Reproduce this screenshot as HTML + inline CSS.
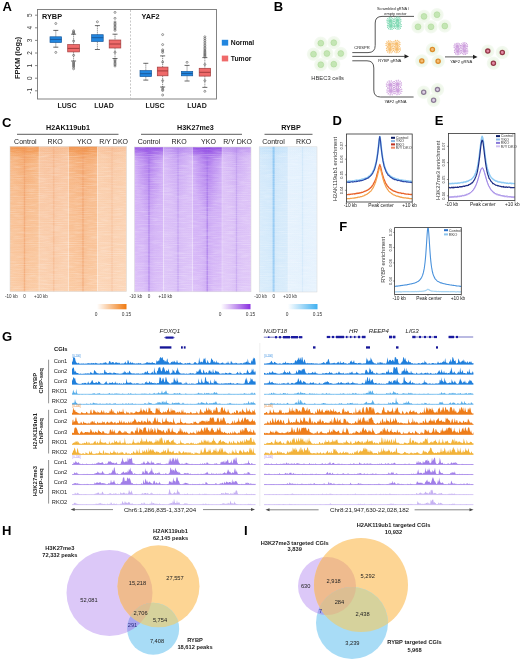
<!DOCTYPE html>
<html><head><meta charset="utf-8"><title>Figure</title>
<style>html,body{margin:0;padding:0;background:#fff;} svg{display:block;}</style></head>
<body><svg width="520" height="662" viewBox="0 0 520 662">
<defs><radialGradient id="halo"><stop offset="0" stop-color="#e8f5df"/><stop offset="0.55" stop-color="#eef7e8"/><stop offset="0.85" stop-color="#f3f9f0"/><stop offset="1" stop-color="#f8fcf5" stop-opacity="0"/></radialGradient><filter id="soft" x="-50%" y="-50%" width="200%" height="200%"><feGaussianBlur stdDeviation="0.35"/></filter><filter id="soft2" x="-50%" y="-50%" width="200%" height="200%"><feGaussianBlur stdDeviation="0.7"/></filter><filter id="streak" x="0" y="0" width="100%" height="100%"><feTurbulence type="fractalNoise" baseFrequency="0.08 0.9" numOctaves="2" seed="7"/><feColorMatrix type="matrix" values="0 0 0 0 1  0 0 0 0 1  0 0 0 0 1  0 0 0 -2.2 1.25"/><feComposite in2="SourceGraphic" operator="in"/></filter><linearGradient id="g1" x1="0" y1="0" x2="0" y2="1"><stop offset="0" stop-color="#f3a05c" stop-opacity="1"/><stop offset="0.1" stop-color="#f7b886" stop-opacity="1"/><stop offset="1" stop-color="#fbcca6" stop-opacity="1"/></linearGradient><linearGradient id="g2" x1="0" y1="0" x2="1" y2="0"><stop offset="0" stop-color="#ee9860" stop-opacity="0"/><stop offset="0.3" stop-color="#ee9860" stop-opacity="0.042"/><stop offset="0.5" stop-color="#ee9860" stop-opacity="0.14"/><stop offset="0.7" stop-color="#ee9860" stop-opacity="0.042"/><stop offset="1" stop-color="#ee9860" stop-opacity="0"/></linearGradient><radialGradient id="g3" cx="0.5" cy="0" r="0.5" gradientTransform="translate(0.5,0) scale(1,0.7586206896551724) translate(-0.5,0)"><stop offset="0" stop-color="#f08a40" stop-opacity="0.3"/><stop offset="0.5" stop-color="#f08a40" stop-opacity="0.135"/><stop offset="1" stop-color="#f08a40" stop-opacity="0"/></radialGradient><linearGradient id="g4" x1="0" y1="0" x2="0" y2="1"><stop offset="0" stop-color="#ee9860" stop-opacity="0.6"/><stop offset="1" stop-color="#ee9860" stop-opacity="0.48"/></linearGradient><linearGradient id="g5" x1="0" y1="0" x2="0" y2="1"><stop offset="0" stop-color="#f08a40" stop-opacity="0.45"/><stop offset="0.4" stop-color="#f08a40" stop-opacity="0.27"/><stop offset="1" stop-color="#f08a40" stop-opacity="0"/></linearGradient><linearGradient id="g6" x1="0" y1="0" x2="0" y2="1"><stop offset="0" stop-color="#f8c39a" stop-opacity="1"/><stop offset="0.1" stop-color="#f9c6a2" stop-opacity="1"/><stop offset="1" stop-color="#fbd1b0" stop-opacity="1"/></linearGradient><linearGradient id="g7" x1="0" y1="0" x2="1" y2="0"><stop offset="0" stop-color="#f1a878" stop-opacity="0"/><stop offset="0.3" stop-color="#f1a878" stop-opacity="0.03"/><stop offset="0.5" stop-color="#f1a878" stop-opacity="0.1"/><stop offset="0.7" stop-color="#f1a878" stop-opacity="0.03"/><stop offset="1" stop-color="#f1a878" stop-opacity="0"/></linearGradient><radialGradient id="g8" cx="0.5" cy="0" r="0.5" gradientTransform="translate(0.5,0) scale(1,0.6206896551724138) translate(-0.5,0)"><stop offset="0" stop-color="#f2a070" stop-opacity="0.12"/><stop offset="0.5" stop-color="#f2a070" stop-opacity="0.054"/><stop offset="1" stop-color="#f2a070" stop-opacity="0"/></radialGradient><linearGradient id="g9" x1="0" y1="0" x2="0" y2="1"><stop offset="0" stop-color="#f1a878" stop-opacity="0.5"/><stop offset="1" stop-color="#f1a878" stop-opacity="0.4"/></linearGradient><linearGradient id="g10" x1="0" y1="0" x2="0" y2="1"><stop offset="0" stop-color="#f2a070" stop-opacity="0.18"/><stop offset="0.4" stop-color="#f2a070" stop-opacity="0.108"/><stop offset="1" stop-color="#f2a070" stop-opacity="0"/></linearGradient><linearGradient id="g11" x1="0" y1="0" x2="0" y2="1"><stop offset="0" stop-color="#f29c58" stop-opacity="1"/><stop offset="0.1" stop-color="#f7b684" stop-opacity="1"/><stop offset="1" stop-color="#fbcba4" stop-opacity="1"/></linearGradient><linearGradient id="g12" x1="0" y1="0" x2="1" y2="0"><stop offset="0" stop-color="#ee9860" stop-opacity="0"/><stop offset="0.3" stop-color="#ee9860" stop-opacity="0.042"/><stop offset="0.5" stop-color="#ee9860" stop-opacity="0.14"/><stop offset="0.7" stop-color="#ee9860" stop-opacity="0.042"/><stop offset="1" stop-color="#ee9860" stop-opacity="0"/></linearGradient><radialGradient id="g13" cx="0.5" cy="0" r="0.5" gradientTransform="translate(0.5,0) scale(1,0.7586206896551724) translate(-0.5,0)"><stop offset="0" stop-color="#f08a40" stop-opacity="0.32"/><stop offset="0.5" stop-color="#f08a40" stop-opacity="0.14400000000000002"/><stop offset="1" stop-color="#f08a40" stop-opacity="0"/></radialGradient><linearGradient id="g14" x1="0" y1="0" x2="0" y2="1"><stop offset="0" stop-color="#ee9860" stop-opacity="0.6"/><stop offset="1" stop-color="#ee9860" stop-opacity="0.48"/></linearGradient><linearGradient id="g15" x1="0" y1="0" x2="0" y2="1"><stop offset="0" stop-color="#f08a40" stop-opacity="0.5"/><stop offset="0.4" stop-color="#f08a40" stop-opacity="0.3"/><stop offset="1" stop-color="#f08a40" stop-opacity="0"/></linearGradient><linearGradient id="g16" x1="0" y1="0" x2="0" y2="1"><stop offset="0" stop-color="#f9c8a2" stop-opacity="1"/><stop offset="0.1" stop-color="#facdaa" stop-opacity="1"/><stop offset="1" stop-color="#fcd6b8" stop-opacity="1"/></linearGradient><linearGradient id="g17" x1="0" y1="0" x2="1" y2="0"><stop offset="0" stop-color="#f3b288" stop-opacity="0"/><stop offset="0.3" stop-color="#f3b288" stop-opacity="0.03"/><stop offset="0.5" stop-color="#f3b288" stop-opacity="0.1"/><stop offset="0.7" stop-color="#f3b288" stop-opacity="0.03"/><stop offset="1" stop-color="#f3b288" stop-opacity="0"/></linearGradient><radialGradient id="g18" cx="0.5" cy="0" r="0.5" gradientTransform="translate(0.5,0) scale(1,0.6206896551724138) translate(-0.5,0)"><stop offset="0" stop-color="#f2a070" stop-opacity="0.1"/><stop offset="0.5" stop-color="#f2a070" stop-opacity="0.045000000000000005"/><stop offset="1" stop-color="#f2a070" stop-opacity="0"/></radialGradient><linearGradient id="g19" x1="0" y1="0" x2="0" y2="1"><stop offset="0" stop-color="#f3b288" stop-opacity="0.45"/><stop offset="1" stop-color="#f3b288" stop-opacity="0.36000000000000004"/></linearGradient><linearGradient id="g20" x1="0" y1="0" x2="0" y2="1"><stop offset="0" stop-color="#f2a070" stop-opacity="0.15"/><stop offset="0.4" stop-color="#f2a070" stop-opacity="0.09"/><stop offset="1" stop-color="#f2a070" stop-opacity="0"/></linearGradient><pattern id="g21" width="4" height="2.2" patternUnits="userSpaceOnUse"><rect width="4" height="0.5" fill="#ffffff" fill-opacity="0.12"/></pattern><linearGradient id="g22" x1="0" y1="0" x2="0" y2="1"><stop offset="0" stop-color="#b07cec" stop-opacity="1"/><stop offset="0.1" stop-color="#d0acf6" stop-opacity="1"/><stop offset="1" stop-color="#dcc0f8" stop-opacity="1"/></linearGradient><linearGradient id="g23" x1="0" y1="0" x2="1" y2="0"><stop offset="0" stop-color="#a070e6" stop-opacity="0"/><stop offset="0.3" stop-color="#a070e6" stop-opacity="0.06"/><stop offset="0.5" stop-color="#a070e6" stop-opacity="0.2"/><stop offset="0.7" stop-color="#a070e6" stop-opacity="0.06"/><stop offset="1" stop-color="#a070e6" stop-opacity="0"/></linearGradient><radialGradient id="g24" cx="0.5" cy="0" r="0.5" gradientTransform="translate(0.5,0) scale(1,0.9668508287292817) translate(-0.5,0)"><stop offset="0" stop-color="#8a40e2" stop-opacity="0.45"/><stop offset="0.5" stop-color="#8a40e2" stop-opacity="0.2025"/><stop offset="1" stop-color="#8a40e2" stop-opacity="0"/></radialGradient><linearGradient id="g25" x1="0" y1="0" x2="0" y2="1"><stop offset="0" stop-color="#a070e6" stop-opacity="0.7"/><stop offset="1" stop-color="#a070e6" stop-opacity="0.5599999999999999"/></linearGradient><linearGradient id="g26" x1="0" y1="0" x2="0" y2="1"><stop offset="0" stop-color="#8a40e2" stop-opacity="0.6"/><stop offset="0.4" stop-color="#8a40e2" stop-opacity="0.36"/><stop offset="1" stop-color="#8a40e2" stop-opacity="0"/></linearGradient><linearGradient id="g27" x1="0" y1="0" x2="0" y2="1"><stop offset="0" stop-color="#cca8f4" stop-opacity="1"/><stop offset="0.1" stop-color="#d8baf7" stop-opacity="1"/><stop offset="1" stop-color="#dec6f8" stop-opacity="1"/></linearGradient><linearGradient id="g28" x1="0" y1="0" x2="1" y2="0"><stop offset="0" stop-color="#ae86ea" stop-opacity="0"/><stop offset="0.3" stop-color="#ae86ea" stop-opacity="0.042"/><stop offset="0.5" stop-color="#ae86ea" stop-opacity="0.14"/><stop offset="0.7" stop-color="#ae86ea" stop-opacity="0.042"/><stop offset="1" stop-color="#ae86ea" stop-opacity="0"/></linearGradient><radialGradient id="g29" cx="0.5" cy="0" r="0.5" gradientTransform="translate(0.5,0) scale(1,0.7596685082872927) translate(-0.5,0)"><stop offset="0" stop-color="#9a62e8" stop-opacity="0.25"/><stop offset="0.5" stop-color="#9a62e8" stop-opacity="0.1125"/><stop offset="1" stop-color="#9a62e8" stop-opacity="0"/></radialGradient><linearGradient id="g30" x1="0" y1="0" x2="0" y2="1"><stop offset="0" stop-color="#ae86ea" stop-opacity="0.55"/><stop offset="1" stop-color="#ae86ea" stop-opacity="0.44000000000000006"/></linearGradient><linearGradient id="g31" x1="0" y1="0" x2="0" y2="1"><stop offset="0" stop-color="#9a62e8" stop-opacity="0.3"/><stop offset="0.4" stop-color="#9a62e8" stop-opacity="0.18"/><stop offset="1" stop-color="#9a62e8" stop-opacity="0"/></linearGradient><linearGradient id="g32" x1="0" y1="0" x2="0" y2="1"><stop offset="0" stop-color="#ac76ea" stop-opacity="1"/><stop offset="0.1" stop-color="#ceaaf6" stop-opacity="1"/><stop offset="1" stop-color="#dbbef8" stop-opacity="1"/></linearGradient><linearGradient id="g33" x1="0" y1="0" x2="1" y2="0"><stop offset="0" stop-color="#a070e6" stop-opacity="0"/><stop offset="0.3" stop-color="#a070e6" stop-opacity="0.06"/><stop offset="0.5" stop-color="#a070e6" stop-opacity="0.2"/><stop offset="0.7" stop-color="#a070e6" stop-opacity="0.06"/><stop offset="1" stop-color="#a070e6" stop-opacity="0"/></linearGradient><radialGradient id="g34" cx="0.5" cy="0" r="0.5" gradientTransform="translate(0.5,0) scale(1,0.9668508287292817) translate(-0.5,0)"><stop offset="0" stop-color="#8a40e2" stop-opacity="0.5"/><stop offset="0.5" stop-color="#8a40e2" stop-opacity="0.225"/><stop offset="1" stop-color="#8a40e2" stop-opacity="0"/></radialGradient><linearGradient id="g35" x1="0" y1="0" x2="0" y2="1"><stop offset="0" stop-color="#a070e6" stop-opacity="0.7"/><stop offset="1" stop-color="#a070e6" stop-opacity="0.5599999999999999"/></linearGradient><linearGradient id="g36" x1="0" y1="0" x2="0" y2="1"><stop offset="0" stop-color="#8a40e2" stop-opacity="0.65"/><stop offset="0.4" stop-color="#8a40e2" stop-opacity="0.39"/><stop offset="1" stop-color="#8a40e2" stop-opacity="0"/></linearGradient><linearGradient id="g37" x1="0" y1="0" x2="0" y2="1"><stop offset="0" stop-color="#d0aef4" stop-opacity="1"/><stop offset="0.1" stop-color="#dbbff7" stop-opacity="1"/><stop offset="1" stop-color="#e0c8f8" stop-opacity="1"/></linearGradient><linearGradient id="g38" x1="0" y1="0" x2="1" y2="0"><stop offset="0" stop-color="#b28cea" stop-opacity="0"/><stop offset="0.3" stop-color="#b28cea" stop-opacity="0.042"/><stop offset="0.5" stop-color="#b28cea" stop-opacity="0.14"/><stop offset="0.7" stop-color="#b28cea" stop-opacity="0.042"/><stop offset="1" stop-color="#b28cea" stop-opacity="0"/></linearGradient><radialGradient id="g39" cx="0.5" cy="0" r="0.5" gradientTransform="translate(0.5,0) scale(1,0.7596685082872927) translate(-0.5,0)"><stop offset="0" stop-color="#9a62e8" stop-opacity="0.2"/><stop offset="0.5" stop-color="#9a62e8" stop-opacity="0.09000000000000001"/><stop offset="1" stop-color="#9a62e8" stop-opacity="0"/></radialGradient><linearGradient id="g40" x1="0" y1="0" x2="0" y2="1"><stop offset="0" stop-color="#b28cea" stop-opacity="0.5"/><stop offset="1" stop-color="#b28cea" stop-opacity="0.4"/></linearGradient><linearGradient id="g41" x1="0" y1="0" x2="0" y2="1"><stop offset="0" stop-color="#9a62e8" stop-opacity="0.25"/><stop offset="0.4" stop-color="#9a62e8" stop-opacity="0.15"/><stop offset="1" stop-color="#9a62e8" stop-opacity="0"/></linearGradient><pattern id="g42" width="4" height="2.2" patternUnits="userSpaceOnUse"><rect width="4" height="0.5" fill="#ffffff" fill-opacity="0.12"/></pattern><linearGradient id="g43" x1="0" y1="0" x2="0" y2="1"><stop offset="0" stop-color="#d0e8fb" stop-opacity="1"/><stop offset="0.1" stop-color="#d4e9fb" stop-opacity="1"/><stop offset="1" stop-color="#d9ecfb" stop-opacity="1"/></linearGradient><linearGradient id="g44" x1="0" y1="0" x2="1" y2="0"><stop offset="0" stop-color="#84c2f2" stop-opacity="0"/><stop offset="0.3" stop-color="#84c2f2" stop-opacity="0.03"/><stop offset="0.5" stop-color="#84c2f2" stop-opacity="0.1"/><stop offset="0.7" stop-color="#84c2f2" stop-opacity="0.03"/><stop offset="1" stop-color="#84c2f2" stop-opacity="0"/></linearGradient><radialGradient id="g45" cx="0.5" cy="0" r="0.5" gradientTransform="translate(0.5,0) scale(1,0.5509641873278237) translate(-0.5,0)"><stop offset="0" stop-color="#8cc6f4" stop-opacity="0.06"/><stop offset="0.5" stop-color="#8cc6f4" stop-opacity="0.027"/><stop offset="1" stop-color="#8cc6f4" stop-opacity="0"/></radialGradient><linearGradient id="g46" x1="0" y1="0" x2="0" y2="1"><stop offset="0" stop-color="#84c2f2" stop-opacity="0.85"/><stop offset="1" stop-color="#84c2f2" stop-opacity="0.68"/></linearGradient><linearGradient id="g47" x1="0" y1="0" x2="0" y2="1"><stop offset="0" stop-color="#8cc6f4" stop-opacity="0.1"/><stop offset="0.4" stop-color="#8cc6f4" stop-opacity="0.06"/><stop offset="1" stop-color="#8cc6f4" stop-opacity="0"/></linearGradient><linearGradient id="g48" x1="0" y1="0" x2="0" y2="1"><stop offset="0" stop-color="#e2f0fc" stop-opacity="1"/><stop offset="0.1" stop-color="#e4f1fd" stop-opacity="1"/><stop offset="1" stop-color="#e6f2fd" stop-opacity="1"/></linearGradient><linearGradient id="g49" x1="0" y1="0" x2="1" y2="0"><stop offset="0" stop-color="#b8dcf6" stop-opacity="0"/><stop offset="0.3" stop-color="#b8dcf6" stop-opacity="0.015"/><stop offset="0.5" stop-color="#b8dcf6" stop-opacity="0.05"/><stop offset="0.7" stop-color="#b8dcf6" stop-opacity="0.015"/><stop offset="1" stop-color="#b8dcf6" stop-opacity="0"/></linearGradient><linearGradient id="g50" x1="0" y1="0" x2="0" y2="1"><stop offset="0" stop-color="#b8dcf6" stop-opacity="0.4"/><stop offset="1" stop-color="#b8dcf6" stop-opacity="0.32000000000000006"/></linearGradient><linearGradient id="g51" x1="0" y1="0" x2="0" y2="1"><stop offset="0" stop-color="#a0d0f4" stop-opacity="0.04"/><stop offset="0.4" stop-color="#a0d0f4" stop-opacity="0.024"/><stop offset="1" stop-color="#a0d0f4" stop-opacity="0"/></linearGradient><pattern id="g52" width="4" height="2.2" patternUnits="userSpaceOnUse"><rect width="4" height="0.5" fill="#ffffff" fill-opacity="0.12"/></pattern><linearGradient id="g53" x1="0" y1="0" x2="1" y2="0"><stop offset="0" stop-color="#f07a10" stop-opacity="0"/><stop offset="1" stop-color="#f07a10" stop-opacity="1"/></linearGradient><linearGradient id="g54" x1="0" y1="0" x2="1" y2="0"><stop offset="0" stop-color="#8a30e0" stop-opacity="0"/><stop offset="1" stop-color="#8a30e0" stop-opacity="1"/></linearGradient><linearGradient id="g55" x1="0" y1="0" x2="1" y2="0"><stop offset="0" stop-color="#40b0f0" stop-opacity="0"/><stop offset="1" stop-color="#40b0f0" stop-opacity="1"/></linearGradient></defs>
<rect width="520" height="662" fill="#fff"/>
<text x="2.6" y="11.3" font-family="Liberation Sans, Arial, sans-serif" font-weight="bold" font-size="13">A</text>
<rect x="37.5" y="9.5" width="179" height="89.5" fill="none" stroke="#777" stroke-width="0.9"/>
<line x1="130.5" y1="10" x2="130.5" y2="99" stroke="#bbb" stroke-width="0.8" stroke-dasharray="2,1.5"/>
<line x1="35" y1="15.2" x2="37.5" y2="15.2" stroke="#6a6a6a" stroke-width="0.8"/>
<text transform="translate(32.2,15.2) rotate(-90)" text-anchor="middle" font-family="Liberation Sans, Arial, sans-serif" font-size="6.4" fill="#333">5</text>
<line x1="35" y1="27.8" x2="37.5" y2="27.8" stroke="#6a6a6a" stroke-width="0.8"/>
<text transform="translate(32.2,27.8) rotate(-90)" text-anchor="middle" font-family="Liberation Sans, Arial, sans-serif" font-size="6.4" fill="#333">4</text>
<line x1="35" y1="40.4" x2="37.5" y2="40.4" stroke="#6a6a6a" stroke-width="0.8"/>
<text transform="translate(32.2,40.4) rotate(-90)" text-anchor="middle" font-family="Liberation Sans, Arial, sans-serif" font-size="6.4" fill="#333">3</text>
<line x1="35" y1="53.0" x2="37.5" y2="53.0" stroke="#6a6a6a" stroke-width="0.8"/>
<text transform="translate(32.2,53.0) rotate(-90)" text-anchor="middle" font-family="Liberation Sans, Arial, sans-serif" font-size="6.4" fill="#333">2</text>
<line x1="35" y1="65.6" x2="37.5" y2="65.6" stroke="#6a6a6a" stroke-width="0.8"/>
<text transform="translate(32.2,65.6) rotate(-90)" text-anchor="middle" font-family="Liberation Sans, Arial, sans-serif" font-size="6.4" fill="#333">1</text>
<line x1="35" y1="78.2" x2="37.5" y2="78.2" stroke="#6a6a6a" stroke-width="0.8"/>
<text transform="translate(32.2,78.2) rotate(-90)" text-anchor="middle" font-family="Liberation Sans, Arial, sans-serif" font-size="6.4" fill="#333">0</text>
<line x1="35" y1="90.8" x2="37.5" y2="90.8" stroke="#6a6a6a" stroke-width="0.8"/>
<text transform="translate(32.2,90.8) rotate(-90)" text-anchor="middle" font-family="Liberation Sans, Arial, sans-serif" font-size="6.4" fill="#333">-1</text>
<text transform="translate(19.8,57.8) rotate(-90)" text-anchor="middle" font-family="Liberation Sans, Arial, sans-serif" font-weight="bold" font-size="7.5" fill="#222">FPKM (log<tspan font-size="5" dy="1.5">2</tspan><tspan dy="-1.5">)</tspan></text>
<text x="42" y="18.7" font-family="Liberation Sans, Arial, sans-serif" font-weight="bold" font-size="7.3" fill="#111">RYBP</text>
<text x="141.6" y="19" font-family="Liberation Sans, Arial, sans-serif" font-weight="bold" font-size="7.3" fill="#111">YAF2</text>
<line x1="55.8" y1="30.4" x2="55.8" y2="47.2" stroke="#555" stroke-width="0.7" stroke-dasharray="1.2,0.8"/>
<line x1="53.3" y1="30.4" x2="58.3" y2="30.4" stroke="#444" stroke-width="0.8"/>
<line x1="53.3" y1="47.2" x2="58.3" y2="47.2" stroke="#444" stroke-width="0.8"/>
<rect x="50" y="36.8" width="11.6" height="5.7" fill="#2286df" stroke="#1b5c9e" stroke-width="0.7"/>
<line x1="50" y1="39.4" x2="61.6" y2="39.4" stroke="#1b5c9e" stroke-width="1"/>
<circle cx="55.8" cy="23.5" r="1.0" fill="none" stroke="#555" stroke-width="0.6"/>
<circle cx="55.8" cy="52.4" r="1.0" fill="none" stroke="#555" stroke-width="0.6"/>
<line x1="73.6" y1="34.2" x2="73.6" y2="61" stroke="#555" stroke-width="0.7" stroke-dasharray="1.2,0.8"/>
<line x1="71.1" y1="34.2" x2="76.1" y2="34.2" stroke="#444" stroke-width="0.8"/>
<line x1="71.1" y1="61" x2="76.1" y2="61" stroke="#444" stroke-width="0.8"/>
<rect x="67.7" y="44.6" width="11.8" height="7.3" fill="#ef6a6a" stroke="#a23c3c" stroke-width="0.7"/>
<line x1="67.7" y1="48.4" x2="79.5" y2="48.4" stroke="#a23c3c" stroke-width="1"/>
<circle cx="73.6" cy="30.8" r="1.0" fill="none" stroke="#555" stroke-width="0.6"/>
<circle cx="73.6" cy="31.8" r="1.0" fill="none" stroke="#555" stroke-width="0.6"/>
<circle cx="73.6" cy="32.8" r="1.0" fill="none" stroke="#555" stroke-width="0.6"/>
<circle cx="73.6" cy="33.6" r="1.0" fill="none" stroke="#555" stroke-width="0.6"/>
<circle cx="73.6" cy="41" r="1.0" fill="none" stroke="#555" stroke-width="0.6"/>
<circle cx="73.6" cy="55.3" r="1.0" fill="none" stroke="#555" stroke-width="0.6"/>
<circle cx="73.6" cy="62" r="1.0" fill="none" stroke="#555" stroke-width="0.6"/>
<circle cx="73.6" cy="63" r="1.0" fill="none" stroke="#555" stroke-width="0.6"/>
<circle cx="73.6" cy="64" r="1.0" fill="none" stroke="#555" stroke-width="0.6"/>
<circle cx="73.6" cy="65" r="1.0" fill="none" stroke="#555" stroke-width="0.6"/>
<circle cx="73.6" cy="66" r="1.0" fill="none" stroke="#555" stroke-width="0.6"/>
<circle cx="73.6" cy="67" r="1.0" fill="none" stroke="#555" stroke-width="0.6"/>
<circle cx="73.6" cy="68.8" r="1.0" fill="none" stroke="#555" stroke-width="0.6"/>
<line x1="97.4" y1="25.6" x2="97.4" y2="49.5" stroke="#555" stroke-width="0.7" stroke-dasharray="1.2,0.8"/>
<line x1="94.9" y1="25.6" x2="99.9" y2="25.6" stroke="#444" stroke-width="0.8"/>
<line x1="94.9" y1="49.5" x2="99.9" y2="49.5" stroke="#444" stroke-width="0.8"/>
<rect x="91.6" y="34.7" width="11.6" height="6.8" fill="#2286df" stroke="#1b5c9e" stroke-width="0.7"/>
<line x1="91.6" y1="37.7" x2="103.2" y2="37.7" stroke="#1b5c9e" stroke-width="1"/>
<circle cx="97.4" cy="21.8" r="1.0" fill="none" stroke="#555" stroke-width="0.6"/>
<line x1="115.0" y1="34.2" x2="115.0" y2="58.5" stroke="#555" stroke-width="0.7" stroke-dasharray="1.2,0.8"/>
<line x1="112.5" y1="34.2" x2="117.5" y2="34.2" stroke="#444" stroke-width="0.8"/>
<line x1="112.5" y1="58.5" x2="117.5" y2="58.5" stroke="#444" stroke-width="0.8"/>
<rect x="109.2" y="40" width="11.6" height="8.0" fill="#ef6a6a" stroke="#a23c3c" stroke-width="0.7"/>
<line x1="109.2" y1="44" x2="120.8" y2="44" stroke="#a23c3c" stroke-width="1"/>
<circle cx="115.0" cy="12.4" r="1.0" fill="none" stroke="#555" stroke-width="0.6"/>
<circle cx="115.0" cy="18.3" r="1.0" fill="none" stroke="#555" stroke-width="0.6"/>
<circle cx="115.0" cy="22" r="1.0" fill="none" stroke="#555" stroke-width="0.6"/>
<circle cx="115.0" cy="23.4" r="1.0" fill="none" stroke="#555" stroke-width="0.6"/>
<circle cx="115.0" cy="24.8" r="1.0" fill="none" stroke="#555" stroke-width="0.6"/>
<circle cx="115.0" cy="26.2" r="1.0" fill="none" stroke="#555" stroke-width="0.6"/>
<circle cx="115.0" cy="27.6" r="1.0" fill="none" stroke="#555" stroke-width="0.6"/>
<circle cx="115.0" cy="29" r="1.0" fill="none" stroke="#555" stroke-width="0.6"/>
<circle cx="115.0" cy="30.4" r="1.0" fill="none" stroke="#555" stroke-width="0.6"/>
<circle cx="115.0" cy="52.4" r="1.0" fill="none" stroke="#555" stroke-width="0.6"/>
<circle cx="115.0" cy="59.5" r="1.0" fill="none" stroke="#555" stroke-width="0.6"/>
<circle cx="115.0" cy="60.8" r="1.0" fill="none" stroke="#555" stroke-width="0.6"/>
<circle cx="115.0" cy="62.1" r="1.0" fill="none" stroke="#555" stroke-width="0.6"/>
<circle cx="115.0" cy="63.4" r="1.0" fill="none" stroke="#555" stroke-width="0.6"/>
<circle cx="115.0" cy="64.7" r="1.0" fill="none" stroke="#555" stroke-width="0.6"/>
<circle cx="115.0" cy="66" r="1.0" fill="none" stroke="#555" stroke-width="0.6"/>
<line x1="145.8" y1="63.3" x2="145.8" y2="80.1" stroke="#555" stroke-width="0.7" stroke-dasharray="1.2,0.8"/>
<line x1="143.3" y1="63.3" x2="148.3" y2="63.3" stroke="#444" stroke-width="0.8"/>
<line x1="143.3" y1="80.1" x2="148.3" y2="80.1" stroke="#444" stroke-width="0.8"/>
<rect x="140" y="70.6" width="11.6" height="6.0" fill="#2286df" stroke="#1b5c9e" stroke-width="0.7"/>
<line x1="140" y1="73.7" x2="151.6" y2="73.7" stroke="#1b5c9e" stroke-width="1"/>
<line x1="162.65" y1="55.9" x2="162.65" y2="87" stroke="#555" stroke-width="0.7" stroke-dasharray="1.2,0.8"/>
<line x1="160.15" y1="55.9" x2="165.15" y2="55.9" stroke="#444" stroke-width="0.8"/>
<line x1="160.15" y1="87" x2="165.15" y2="87" stroke="#444" stroke-width="0.8"/>
<rect x="157.3" y="67.1" width="10.7" height="8.7" fill="#ef6a6a" stroke="#a23c3c" stroke-width="0.7"/>
<line x1="157.3" y1="70.9" x2="168" y2="70.9" stroke="#a23c3c" stroke-width="1"/>
<circle cx="162.65" cy="34.6" r="1.0" fill="none" stroke="#555" stroke-width="0.6"/>
<circle cx="162.65" cy="44.6" r="1.0" fill="none" stroke="#555" stroke-width="0.6"/>
<circle cx="162.65" cy="49.8" r="1.0" fill="none" stroke="#555" stroke-width="0.6"/>
<circle cx="162.65" cy="51" r="1.0" fill="none" stroke="#555" stroke-width="0.6"/>
<circle cx="162.65" cy="52.4" r="1.0" fill="none" stroke="#555" stroke-width="0.6"/>
<circle cx="162.65" cy="62" r="1.0" fill="none" stroke="#555" stroke-width="0.6"/>
<circle cx="162.65" cy="80.6" r="1.0" fill="none" stroke="#555" stroke-width="0.6"/>
<circle cx="162.65" cy="88" r="1.0" fill="none" stroke="#555" stroke-width="0.6"/>
<circle cx="162.65" cy="89.5" r="1.0" fill="none" stroke="#555" stroke-width="0.6"/>
<circle cx="162.65" cy="90.5" r="1.0" fill="none" stroke="#555" stroke-width="0.6"/>
<circle cx="162.65" cy="95" r="1.0" fill="none" stroke="#555" stroke-width="0.6"/>
<line x1="187.05" y1="65.4" x2="187.05" y2="81" stroke="#555" stroke-width="0.7" stroke-dasharray="1.2,0.8"/>
<line x1="184.55" y1="65.4" x2="189.55" y2="65.4" stroke="#444" stroke-width="0.8"/>
<line x1="184.55" y1="81" x2="189.55" y2="81" stroke="#444" stroke-width="0.8"/>
<rect x="181.4" y="71.4" width="11.3" height="4.4" fill="#2286df" stroke="#1b5c9e" stroke-width="0.7"/>
<line x1="181.4" y1="73.5" x2="192.7" y2="73.5" stroke="#1b5c9e" stroke-width="1"/>
<circle cx="187.05" cy="62.3" r="1.0" fill="none" stroke="#555" stroke-width="0.6"/>
<line x1="204.85" y1="57.6" x2="204.85" y2="87.4" stroke="#555" stroke-width="0.7" stroke-dasharray="1.2,0.8"/>
<line x1="202.35" y1="57.6" x2="207.35" y2="57.6" stroke="#444" stroke-width="0.8"/>
<line x1="202.35" y1="87.4" x2="207.35" y2="87.4" stroke="#444" stroke-width="0.8"/>
<rect x="199.2" y="68.3" width="11.3" height="7.8" fill="#ef6a6a" stroke="#a23c3c" stroke-width="0.7"/>
<line x1="199.2" y1="72.3" x2="210.5" y2="72.3" stroke="#a23c3c" stroke-width="1"/>
<circle cx="204.85" cy="36.8" r="1.0" fill="none" stroke="#555" stroke-width="0.6"/>
<circle cx="204.85" cy="38.6" r="1.0" fill="none" stroke="#555" stroke-width="0.6"/>
<circle cx="204.85" cy="40.4" r="1.0" fill="none" stroke="#555" stroke-width="0.6"/>
<circle cx="204.85" cy="42.2" r="1.0" fill="none" stroke="#555" stroke-width="0.6"/>
<circle cx="204.85" cy="44" r="1.0" fill="none" stroke="#555" stroke-width="0.6"/>
<circle cx="204.85" cy="45.6" r="1.0" fill="none" stroke="#555" stroke-width="0.6"/>
<circle cx="204.85" cy="47.2" r="1.0" fill="none" stroke="#555" stroke-width="0.6"/>
<circle cx="204.85" cy="48.6" r="1.0" fill="none" stroke="#555" stroke-width="0.6"/>
<circle cx="204.85" cy="50" r="1.0" fill="none" stroke="#555" stroke-width="0.6"/>
<circle cx="204.85" cy="51.2" r="1.0" fill="none" stroke="#555" stroke-width="0.6"/>
<circle cx="204.85" cy="52.4" r="1.0" fill="none" stroke="#555" stroke-width="0.6"/>
<circle cx="204.85" cy="53.5" r="1.0" fill="none" stroke="#555" stroke-width="0.6"/>
<circle cx="204.85" cy="54.5" r="1.0" fill="none" stroke="#555" stroke-width="0.6"/>
<circle cx="204.85" cy="55.5" r="1.0" fill="none" stroke="#555" stroke-width="0.6"/>
<circle cx="204.85" cy="56.5" r="1.0" fill="none" stroke="#555" stroke-width="0.6"/>
<circle cx="204.85" cy="64.5" r="1.0" fill="none" stroke="#555" stroke-width="0.6"/>
<circle cx="204.85" cy="80.6" r="1.0" fill="none" stroke="#555" stroke-width="0.6"/>
<circle cx="204.85" cy="91.3" r="1.0" fill="none" stroke="#555" stroke-width="0.6"/>
<text x="67" y="108" text-anchor="middle" font-family="Liberation Sans, Arial, sans-serif" font-weight="bold" font-size="7" fill="#222">LUSC</text>
<text x="104" y="108" text-anchor="middle" font-family="Liberation Sans, Arial, sans-serif" font-weight="bold" font-size="7" fill="#222">LUAD</text>
<text x="155" y="108" text-anchor="middle" font-family="Liberation Sans, Arial, sans-serif" font-weight="bold" font-size="7" fill="#222">LUSC</text>
<text x="197" y="108" text-anchor="middle" font-family="Liberation Sans, Arial, sans-serif" font-weight="bold" font-size="7" fill="#222">LUAD</text>
<rect x="221.8" y="39.8" width="6.4" height="5.8" fill="#2286df"/>
<rect x="221.8" y="55.6" width="6.4" height="5.8" fill="#ef6a6a"/>
<text x="230.8" y="45.2" font-family="Liberation Sans, Arial, sans-serif" font-weight="bold" font-size="6.8" fill="#111">Normal</text>
<text x="230.8" y="61" font-family="Liberation Sans, Arial, sans-serif" font-weight="bold" font-size="6.8" fill="#111">Tumor</text>
<text x="273.8" y="11" font-family="Liberation Sans, Arial, sans-serif" font-weight="bold" font-size="13">B</text>
<circle cx="320.8" cy="43.2" r="7.2" fill="url(#halo)"/><circle cx="320.8" cy="43.2" r="2.9" fill="#c4e6b4" stroke="#acd898" stroke-width="0.6" filter="url(#soft2)"/>
<circle cx="333.8" cy="42.7" r="7.2" fill="url(#halo)"/><circle cx="333.8" cy="42.7" r="2.9" fill="#c4e6b4" stroke="#acd898" stroke-width="0.6" filter="url(#soft2)"/>
<circle cx="313.5" cy="54.2" r="7.2" fill="url(#halo)"/><circle cx="313.5" cy="54.2" r="2.9" fill="#c4e6b4" stroke="#acd898" stroke-width="0.6" filter="url(#soft2)"/>
<circle cx="326.9" cy="53.5" r="7.2" fill="url(#halo)"/><circle cx="326.9" cy="53.5" r="2.9" fill="#c4e6b4" stroke="#acd898" stroke-width="0.6" filter="url(#soft2)"/>
<circle cx="340.8" cy="53.5" r="7.2" fill="url(#halo)"/><circle cx="340.8" cy="53.5" r="2.9" fill="#c4e6b4" stroke="#acd898" stroke-width="0.6" filter="url(#soft2)"/>
<circle cx="320.8" cy="64.7" r="7.2" fill="url(#halo)"/><circle cx="320.8" cy="64.7" r="2.9" fill="#c4e6b4" stroke="#acd898" stroke-width="0.6" filter="url(#soft2)"/>
<circle cx="333.8" cy="64.2" r="7.2" fill="url(#halo)"/><circle cx="333.8" cy="64.2" r="2.9" fill="#c4e6b4" stroke="#acd898" stroke-width="0.6" filter="url(#soft2)"/>
<text x="327.6" y="79.5" text-anchor="middle" font-family="Liberation Sans, Arial, sans-serif" font-size="5.8" fill="#333">HBEC3 cells</text>
<path d="M352.3,52.6 H368 Q375.2,52.6 375.2,45.5 V23 Q375.2,16.4 382,16.4 H414" stroke="#444" stroke-width="0.9" fill="none"/>
<path d="M352.3,56.4 H406" stroke="#444" stroke-width="0.9" fill="none"/>
<path d="M409,56.4 L404.5,54.3 L404.5,58.5 Z" fill="#222"/>
<path d="M352.3,60.8 H367 Q373.8,60.8 373.8,68 V90 Q373.8,97 380.5,97 H413.6" stroke="#444" stroke-width="0.9" fill="none"/>
<path d="M445,56.9 H474" stroke="#444" stroke-width="0.9" fill="none"/>
<path d="M477.5,56.9 L473,54.8 L473,59 Z" fill="#222"/>
<text x="362" y="48.6" text-anchor="middle" font-family="Liberation Sans, Arial, sans-serif" font-size="4.1" fill="#222">CRISPR</text>
<text x="393" y="10.3" text-anchor="middle" font-family="Liberation Sans, Arial, sans-serif" font-size="3.9" fill="#222">Scrambled gRNA /</text>
<text x="395.5" y="15.4" text-anchor="middle" font-family="Liberation Sans, Arial, sans-serif" font-size="3.9" fill="#222">empty vector</text>
<text x="389.8" y="62.2" text-anchor="middle" font-family="Liberation Sans, Arial, sans-serif" font-size="4.1" fill="#222">RYBP gRNA</text>
<text x="395.4" y="103" text-anchor="middle" font-family="Liberation Sans, Arial, sans-serif" font-size="4.1" fill="#222">YAF2 gRNA</text>
<text x="461.2" y="62.5" text-anchor="middle" font-family="Liberation Sans, Arial, sans-serif" font-size="4.1" fill="#222">YAF2 gRNA</text>
<g opacity="0.8"><line x1="386.94" y1="20.22" x2="393.92" y2="21.64" stroke="#5fcfa0" stroke-width="0.75"/><line x1="387.76" y1="18.57" x2="393.10" y2="23.29" stroke="#5fcfa0" stroke-width="0.75"/><line x1="389.30" y1="17.56" x2="391.56" y2="24.30" stroke="#5fcfa0" stroke-width="0.75"/><line x1="391.14" y1="17.44" x2="389.72" y2="24.42" stroke="#5fcfa0" stroke-width="0.75"/><line x1="392.78" y1="18.26" x2="388.07" y2="23.60" stroke="#5fcfa0" stroke-width="0.75"/><line x1="393.80" y1="19.80" x2="387.05" y2="22.06" stroke="#5fcfa0" stroke-width="0.75"/><circle cx="393.92" cy="21.64" r="0.6" fill="#5fcfa0"/><circle cx="393.10" cy="23.29" r="0.6" fill="#5fcfa0"/><circle cx="391.56" cy="24.30" r="0.6" fill="#5fcfa0"/><circle cx="389.72" cy="24.42" r="0.6" fill="#5fcfa0"/><circle cx="388.07" cy="23.60" r="0.6" fill="#5fcfa0"/><circle cx="387.05" cy="22.06" r="0.6" fill="#5fcfa0"/><circle cx="386.94" cy="20.22" r="0.6" fill="#5fcfa0"/><circle cx="387.76" cy="18.57" r="0.6" fill="#5fcfa0"/><circle cx="389.30" cy="17.56" r="0.6" fill="#5fcfa0"/><circle cx="391.14" cy="17.44" r="0.6" fill="#5fcfa0"/><circle cx="392.78" cy="18.26" r="0.6" fill="#5fcfa0"/><circle cx="393.80" cy="19.80" r="0.6" fill="#5fcfa0"/><circle cx="390.428" cy="20.93" r="1.42" fill="#5fcfa0"/><line x1="393.99" y1="19.74" x2="400.97" y2="21.15" stroke="#5fcfa0" stroke-width="0.75"/><line x1="394.81" y1="18.09" x2="400.15" y2="22.80" stroke="#5fcfa0" stroke-width="0.75"/><line x1="396.35" y1="17.07" x2="398.61" y2="23.82" stroke="#5fcfa0" stroke-width="0.75"/><line x1="398.19" y1="16.96" x2="396.77" y2="23.93" stroke="#5fcfa0" stroke-width="0.75"/><line x1="399.84" y1="17.78" x2="395.12" y2="23.11" stroke="#5fcfa0" stroke-width="0.75"/><line x1="400.85" y1="19.31" x2="394.11" y2="21.58" stroke="#5fcfa0" stroke-width="0.75"/><circle cx="400.97" cy="21.15" r="0.6" fill="#5fcfa0"/><circle cx="400.15" cy="22.80" r="0.6" fill="#5fcfa0"/><circle cx="398.61" cy="23.82" r="0.6" fill="#5fcfa0"/><circle cx="396.77" cy="23.93" r="0.6" fill="#5fcfa0"/><circle cx="395.12" cy="23.11" r="0.6" fill="#5fcfa0"/><circle cx="394.11" cy="21.58" r="0.6" fill="#5fcfa0"/><circle cx="393.99" cy="19.74" r="0.6" fill="#5fcfa0"/><circle cx="394.81" cy="18.09" r="0.6" fill="#5fcfa0"/><circle cx="396.35" cy="17.07" r="0.6" fill="#5fcfa0"/><circle cx="398.19" cy="16.96" r="0.6" fill="#5fcfa0"/><circle cx="399.84" cy="17.78" r="0.6" fill="#5fcfa0"/><circle cx="400.85" cy="19.31" r="0.6" fill="#5fcfa0"/><circle cx="397.48" cy="20.446" r="1.42" fill="#5fcfa0"/><line x1="387.43" y1="25.30" x2="394.41" y2="26.72" stroke="#5fcfa0" stroke-width="0.75"/><line x1="388.25" y1="23.66" x2="393.59" y2="28.37" stroke="#5fcfa0" stroke-width="0.75"/><line x1="389.79" y1="22.64" x2="392.05" y2="29.39" stroke="#5fcfa0" stroke-width="0.75"/><line x1="391.63" y1="22.52" x2="390.21" y2="29.50" stroke="#5fcfa0" stroke-width="0.75"/><line x1="393.28" y1="23.34" x2="388.56" y2="28.68" stroke="#5fcfa0" stroke-width="0.75"/><line x1="394.29" y1="24.88" x2="387.55" y2="27.14" stroke="#5fcfa0" stroke-width="0.75"/><circle cx="394.41" cy="26.72" r="0.6" fill="#5fcfa0"/><circle cx="393.59" cy="28.37" r="0.6" fill="#5fcfa0"/><circle cx="392.05" cy="29.39" r="0.6" fill="#5fcfa0"/><circle cx="390.21" cy="29.50" r="0.6" fill="#5fcfa0"/><circle cx="388.56" cy="28.68" r="0.6" fill="#5fcfa0"/><circle cx="387.55" cy="27.14" r="0.6" fill="#5fcfa0"/><circle cx="387.43" cy="25.30" r="0.6" fill="#5fcfa0"/><circle cx="388.25" cy="23.66" r="0.6" fill="#5fcfa0"/><circle cx="389.79" cy="22.64" r="0.6" fill="#5fcfa0"/><circle cx="391.63" cy="22.52" r="0.6" fill="#5fcfa0"/><circle cx="393.28" cy="23.34" r="0.6" fill="#5fcfa0"/><circle cx="394.29" cy="24.88" r="0.6" fill="#5fcfa0"/><circle cx="390.92" cy="26.012" r="1.42" fill="#5fcfa0"/><line x1="394.32" y1="25.06" x2="401.30" y2="26.48" stroke="#5fcfa0" stroke-width="0.75"/><line x1="395.14" y1="23.41" x2="400.48" y2="28.13" stroke="#5fcfa0" stroke-width="0.75"/><line x1="396.68" y1="22.40" x2="398.94" y2="29.14" stroke="#5fcfa0" stroke-width="0.75"/><line x1="398.52" y1="22.28" x2="397.10" y2="29.26" stroke="#5fcfa0" stroke-width="0.75"/><line x1="400.16" y1="23.10" x2="395.45" y2="28.44" stroke="#5fcfa0" stroke-width="0.75"/><line x1="401.18" y1="24.64" x2="394.43" y2="26.90" stroke="#5fcfa0" stroke-width="0.75"/><circle cx="401.30" cy="26.48" r="0.6" fill="#5fcfa0"/><circle cx="400.48" cy="28.13" r="0.6" fill="#5fcfa0"/><circle cx="398.94" cy="29.14" r="0.6" fill="#5fcfa0"/><circle cx="397.10" cy="29.26" r="0.6" fill="#5fcfa0"/><circle cx="395.45" cy="28.44" r="0.6" fill="#5fcfa0"/><circle cx="394.43" cy="26.90" r="0.6" fill="#5fcfa0"/><circle cx="394.32" cy="25.06" r="0.6" fill="#5fcfa0"/><circle cx="395.14" cy="23.41" r="0.6" fill="#5fcfa0"/><circle cx="396.68" cy="22.40" r="0.6" fill="#5fcfa0"/><circle cx="398.52" cy="22.28" r="0.6" fill="#5fcfa0"/><circle cx="400.16" cy="23.10" r="0.6" fill="#5fcfa0"/><circle cx="401.18" cy="24.64" r="0.6" fill="#5fcfa0"/><circle cx="397.808" cy="25.77" r="1.42" fill="#5fcfa0"/></g>
<g opacity="0.8"><line x1="385.97" y1="43.62" x2="392.94" y2="45.04" stroke="#f5ae4c" stroke-width="0.75"/><line x1="386.79" y1="41.97" x2="392.12" y2="46.69" stroke="#f5ae4c" stroke-width="0.75"/><line x1="388.32" y1="40.96" x2="390.59" y2="47.70" stroke="#f5ae4c" stroke-width="0.75"/><line x1="390.16" y1="40.84" x2="388.75" y2="47.82" stroke="#f5ae4c" stroke-width="0.75"/><line x1="391.81" y1="41.66" x2="387.10" y2="47.00" stroke="#f5ae4c" stroke-width="0.75"/><line x1="392.83" y1="43.20" x2="386.08" y2="45.46" stroke="#f5ae4c" stroke-width="0.75"/><circle cx="392.94" cy="45.04" r="0.6" fill="#f5ae4c"/><circle cx="392.12" cy="46.69" r="0.6" fill="#f5ae4c"/><circle cx="390.59" cy="47.70" r="0.6" fill="#f5ae4c"/><circle cx="388.75" cy="47.82" r="0.6" fill="#f5ae4c"/><circle cx="387.10" cy="47.00" r="0.6" fill="#f5ae4c"/><circle cx="386.08" cy="45.46" r="0.6" fill="#f5ae4c"/><circle cx="385.97" cy="43.62" r="0.6" fill="#f5ae4c"/><circle cx="386.79" cy="41.97" r="0.6" fill="#f5ae4c"/><circle cx="388.32" cy="40.96" r="0.6" fill="#f5ae4c"/><circle cx="390.16" cy="40.84" r="0.6" fill="#f5ae4c"/><circle cx="391.81" cy="41.66" r="0.6" fill="#f5ae4c"/><circle cx="392.83" cy="43.20" r="0.6" fill="#f5ae4c"/><circle cx="389.455" cy="44.330000000000005" r="1.42" fill="#f5ae4c"/><line x1="393.06" y1="43.14" x2="400.04" y2="44.55" stroke="#f5ae4c" stroke-width="0.75"/><line x1="393.88" y1="41.49" x2="399.22" y2="46.20" stroke="#f5ae4c" stroke-width="0.75"/><line x1="395.42" y1="40.47" x2="397.68" y2="47.22" stroke="#f5ae4c" stroke-width="0.75"/><line x1="397.26" y1="40.36" x2="395.84" y2="47.33" stroke="#f5ae4c" stroke-width="0.75"/><line x1="398.91" y1="41.18" x2="394.19" y2="46.51" stroke="#f5ae4c" stroke-width="0.75"/><line x1="399.92" y1="42.71" x2="393.18" y2="44.98" stroke="#f5ae4c" stroke-width="0.75"/><circle cx="400.04" cy="44.55" r="0.6" fill="#f5ae4c"/><circle cx="399.22" cy="46.20" r="0.6" fill="#f5ae4c"/><circle cx="397.68" cy="47.22" r="0.6" fill="#f5ae4c"/><circle cx="395.84" cy="47.33" r="0.6" fill="#f5ae4c"/><circle cx="394.19" cy="46.51" r="0.6" fill="#f5ae4c"/><circle cx="393.18" cy="44.98" r="0.6" fill="#f5ae4c"/><circle cx="393.06" cy="43.14" r="0.6" fill="#f5ae4c"/><circle cx="393.88" cy="41.49" r="0.6" fill="#f5ae4c"/><circle cx="395.42" cy="40.47" r="0.6" fill="#f5ae4c"/><circle cx="397.26" cy="40.36" r="0.6" fill="#f5ae4c"/><circle cx="398.91" cy="41.18" r="0.6" fill="#f5ae4c"/><circle cx="399.92" cy="42.71" r="0.6" fill="#f5ae4c"/><circle cx="396.55" cy="43.846000000000004" r="1.42" fill="#f5ae4c"/><line x1="386.46" y1="48.70" x2="393.44" y2="50.12" stroke="#f5ae4c" stroke-width="0.75"/><line x1="387.28" y1="47.06" x2="392.62" y2="51.77" stroke="#f5ae4c" stroke-width="0.75"/><line x1="388.82" y1="46.04" x2="391.08" y2="52.79" stroke="#f5ae4c" stroke-width="0.75"/><line x1="390.66" y1="45.92" x2="389.24" y2="52.90" stroke="#f5ae4c" stroke-width="0.75"/><line x1="392.31" y1="46.74" x2="387.59" y2="52.08" stroke="#f5ae4c" stroke-width="0.75"/><line x1="393.32" y1="48.28" x2="386.58" y2="50.54" stroke="#f5ae4c" stroke-width="0.75"/><circle cx="393.44" cy="50.12" r="0.6" fill="#f5ae4c"/><circle cx="392.62" cy="51.77" r="0.6" fill="#f5ae4c"/><circle cx="391.08" cy="52.79" r="0.6" fill="#f5ae4c"/><circle cx="389.24" cy="52.90" r="0.6" fill="#f5ae4c"/><circle cx="387.59" cy="52.08" r="0.6" fill="#f5ae4c"/><circle cx="386.58" cy="50.54" r="0.6" fill="#f5ae4c"/><circle cx="386.46" cy="48.70" r="0.6" fill="#f5ae4c"/><circle cx="387.28" cy="47.06" r="0.6" fill="#f5ae4c"/><circle cx="388.82" cy="46.04" r="0.6" fill="#f5ae4c"/><circle cx="390.66" cy="45.92" r="0.6" fill="#f5ae4c"/><circle cx="392.31" cy="46.74" r="0.6" fill="#f5ae4c"/><circle cx="393.32" cy="48.28" r="0.6" fill="#f5ae4c"/><circle cx="389.95" cy="49.412000000000006" r="1.42" fill="#f5ae4c"/><line x1="393.39" y1="48.46" x2="400.37" y2="49.88" stroke="#f5ae4c" stroke-width="0.75"/><line x1="394.21" y1="46.81" x2="399.55" y2="51.53" stroke="#f5ae4c" stroke-width="0.75"/><line x1="395.75" y1="45.80" x2="398.01" y2="52.54" stroke="#f5ae4c" stroke-width="0.75"/><line x1="397.59" y1="45.68" x2="396.17" y2="52.66" stroke="#f5ae4c" stroke-width="0.75"/><line x1="399.24" y1="46.50" x2="394.52" y2="51.84" stroke="#f5ae4c" stroke-width="0.75"/><line x1="400.25" y1="48.04" x2="393.51" y2="50.30" stroke="#f5ae4c" stroke-width="0.75"/><circle cx="400.37" cy="49.88" r="0.6" fill="#f5ae4c"/><circle cx="399.55" cy="51.53" r="0.6" fill="#f5ae4c"/><circle cx="398.01" cy="52.54" r="0.6" fill="#f5ae4c"/><circle cx="396.17" cy="52.66" r="0.6" fill="#f5ae4c"/><circle cx="394.52" cy="51.84" r="0.6" fill="#f5ae4c"/><circle cx="393.51" cy="50.30" r="0.6" fill="#f5ae4c"/><circle cx="393.39" cy="48.46" r="0.6" fill="#f5ae4c"/><circle cx="394.21" cy="46.81" r="0.6" fill="#f5ae4c"/><circle cx="395.75" cy="45.80" r="0.6" fill="#f5ae4c"/><circle cx="397.59" cy="45.68" r="0.6" fill="#f5ae4c"/><circle cx="399.24" cy="46.50" r="0.6" fill="#f5ae4c"/><circle cx="400.25" cy="48.04" r="0.6" fill="#f5ae4c"/><circle cx="396.88" cy="49.17" r="1.42" fill="#f5ae4c"/></g>
<g opacity="0.8"><line x1="453.98" y1="45.80" x2="460.66" y2="47.16" stroke="#c38ad6" stroke-width="0.75"/><line x1="454.76" y1="44.22" x2="459.88" y2="48.74" stroke="#c38ad6" stroke-width="0.75"/><line x1="456.24" y1="43.25" x2="458.40" y2="49.71" stroke="#c38ad6" stroke-width="0.75"/><line x1="458.00" y1="43.14" x2="456.64" y2="49.82" stroke="#c38ad6" stroke-width="0.75"/><line x1="459.58" y1="43.92" x2="455.06" y2="49.04" stroke="#c38ad6" stroke-width="0.75"/><line x1="460.55" y1="45.40" x2="454.09" y2="47.56" stroke="#c38ad6" stroke-width="0.75"/><circle cx="460.66" cy="47.16" r="0.6" fill="#c38ad6"/><circle cx="459.88" cy="48.74" r="0.6" fill="#c38ad6"/><circle cx="458.40" cy="49.71" r="0.6" fill="#c38ad6"/><circle cx="456.64" cy="49.82" r="0.6" fill="#c38ad6"/><circle cx="455.06" cy="49.04" r="0.6" fill="#c38ad6"/><circle cx="454.09" cy="47.56" r="0.6" fill="#c38ad6"/><circle cx="453.98" cy="45.80" r="0.6" fill="#c38ad6"/><circle cx="454.76" cy="44.22" r="0.6" fill="#c38ad6"/><circle cx="456.24" cy="43.25" r="0.6" fill="#c38ad6"/><circle cx="458.00" cy="43.14" r="0.6" fill="#c38ad6"/><circle cx="459.58" cy="43.92" r="0.6" fill="#c38ad6"/><circle cx="460.55" cy="45.40" r="0.6" fill="#c38ad6"/><circle cx="457.32" cy="46.48" r="1.36" fill="#c38ad6"/><line x1="460.86" y1="45.34" x2="467.54" y2="46.69" stroke="#c38ad6" stroke-width="0.75"/><line x1="461.64" y1="43.76" x2="466.76" y2="48.27" stroke="#c38ad6" stroke-width="0.75"/><line x1="463.12" y1="42.78" x2="465.28" y2="49.25" stroke="#c38ad6" stroke-width="0.75"/><line x1="464.88" y1="42.67" x2="463.52" y2="49.36" stroke="#c38ad6" stroke-width="0.75"/><line x1="466.46" y1="43.46" x2="461.94" y2="48.57" stroke="#c38ad6" stroke-width="0.75"/><line x1="467.43" y1="44.93" x2="460.97" y2="47.10" stroke="#c38ad6" stroke-width="0.75"/><circle cx="467.54" cy="46.69" r="0.6" fill="#c38ad6"/><circle cx="466.76" cy="48.27" r="0.6" fill="#c38ad6"/><circle cx="465.28" cy="49.25" r="0.6" fill="#c38ad6"/><circle cx="463.52" cy="49.36" r="0.6" fill="#c38ad6"/><circle cx="461.94" cy="48.57" r="0.6" fill="#c38ad6"/><circle cx="460.97" cy="47.10" r="0.6" fill="#c38ad6"/><circle cx="460.86" cy="45.34" r="0.6" fill="#c38ad6"/><circle cx="461.64" cy="43.76" r="0.6" fill="#c38ad6"/><circle cx="463.12" cy="42.78" r="0.6" fill="#c38ad6"/><circle cx="464.88" cy="42.67" r="0.6" fill="#c38ad6"/><circle cx="466.46" cy="43.46" r="0.6" fill="#c38ad6"/><circle cx="467.43" cy="44.93" r="0.6" fill="#c38ad6"/><circle cx="464.2" cy="46.016" r="1.36" fill="#c38ad6"/><line x1="454.46" y1="50.67" x2="461.14" y2="52.03" stroke="#c38ad6" stroke-width="0.75"/><line x1="455.24" y1="49.09" x2="460.36" y2="53.61" stroke="#c38ad6" stroke-width="0.75"/><line x1="456.72" y1="48.12" x2="458.88" y2="54.59" stroke="#c38ad6" stroke-width="0.75"/><line x1="458.48" y1="48.01" x2="457.12" y2="54.70" stroke="#c38ad6" stroke-width="0.75"/><line x1="460.06" y1="48.80" x2="455.54" y2="53.91" stroke="#c38ad6" stroke-width="0.75"/><line x1="461.03" y1="50.27" x2="454.57" y2="52.44" stroke="#c38ad6" stroke-width="0.75"/><circle cx="461.14" cy="52.03" r="0.6" fill="#c38ad6"/><circle cx="460.36" cy="53.61" r="0.6" fill="#c38ad6"/><circle cx="458.88" cy="54.59" r="0.6" fill="#c38ad6"/><circle cx="457.12" cy="54.70" r="0.6" fill="#c38ad6"/><circle cx="455.54" cy="53.91" r="0.6" fill="#c38ad6"/><circle cx="454.57" cy="52.44" r="0.6" fill="#c38ad6"/><circle cx="454.46" cy="50.67" r="0.6" fill="#c38ad6"/><circle cx="455.24" cy="49.09" r="0.6" fill="#c38ad6"/><circle cx="456.72" cy="48.12" r="0.6" fill="#c38ad6"/><circle cx="458.48" cy="48.01" r="0.6" fill="#c38ad6"/><circle cx="460.06" cy="48.80" r="0.6" fill="#c38ad6"/><circle cx="461.03" cy="50.27" r="0.6" fill="#c38ad6"/><circle cx="457.8" cy="51.352000000000004" r="1.36" fill="#c38ad6"/><line x1="461.18" y1="50.44" x2="467.86" y2="51.80" stroke="#c38ad6" stroke-width="0.75"/><line x1="461.96" y1="48.86" x2="467.08" y2="53.38" stroke="#c38ad6" stroke-width="0.75"/><line x1="463.44" y1="47.89" x2="465.60" y2="54.35" stroke="#c38ad6" stroke-width="0.75"/><line x1="465.20" y1="47.78" x2="463.84" y2="54.46" stroke="#c38ad6" stroke-width="0.75"/><line x1="466.78" y1="48.56" x2="462.26" y2="53.68" stroke="#c38ad6" stroke-width="0.75"/><line x1="467.75" y1="50.04" x2="461.29" y2="52.20" stroke="#c38ad6" stroke-width="0.75"/><circle cx="467.86" cy="51.80" r="0.6" fill="#c38ad6"/><circle cx="467.08" cy="53.38" r="0.6" fill="#c38ad6"/><circle cx="465.60" cy="54.35" r="0.6" fill="#c38ad6"/><circle cx="463.84" cy="54.46" r="0.6" fill="#c38ad6"/><circle cx="462.26" cy="53.68" r="0.6" fill="#c38ad6"/><circle cx="461.29" cy="52.20" r="0.6" fill="#c38ad6"/><circle cx="461.18" cy="50.44" r="0.6" fill="#c38ad6"/><circle cx="461.96" cy="48.86" r="0.6" fill="#c38ad6"/><circle cx="463.44" cy="47.89" r="0.6" fill="#c38ad6"/><circle cx="465.20" cy="47.78" r="0.6" fill="#c38ad6"/><circle cx="466.78" cy="48.56" r="0.6" fill="#c38ad6"/><circle cx="467.75" cy="50.04" r="0.6" fill="#c38ad6"/><circle cx="464.52" cy="51.12" r="1.36" fill="#c38ad6"/></g>
<g opacity="0.8"><line x1="386.33" y1="84.03" x2="394.52" y2="85.69" stroke="#c38ad6" stroke-width="0.75"/><line x1="387.30" y1="82.09" x2="393.56" y2="87.63" stroke="#c38ad6" stroke-width="0.75"/><line x1="389.10" y1="80.90" x2="391.76" y2="88.82" stroke="#c38ad6" stroke-width="0.75"/><line x1="391.26" y1="80.77" x2="389.60" y2="88.95" stroke="#c38ad6" stroke-width="0.75"/><line x1="393.19" y1="81.73" x2="387.66" y2="87.99" stroke="#c38ad6" stroke-width="0.75"/><line x1="394.39" y1="83.53" x2="386.47" y2="86.19" stroke="#c38ad6" stroke-width="0.75"/><circle cx="394.52" cy="85.69" r="0.6" fill="#c38ad6"/><circle cx="393.56" cy="87.63" r="0.6" fill="#c38ad6"/><circle cx="391.76" cy="88.82" r="0.6" fill="#c38ad6"/><circle cx="389.60" cy="88.95" r="0.6" fill="#c38ad6"/><circle cx="387.66" cy="87.99" r="0.6" fill="#c38ad6"/><circle cx="386.47" cy="86.19" r="0.6" fill="#c38ad6"/><circle cx="386.33" cy="84.03" r="0.6" fill="#c38ad6"/><circle cx="387.30" cy="82.09" r="0.6" fill="#c38ad6"/><circle cx="389.10" cy="80.90" r="0.6" fill="#c38ad6"/><circle cx="391.26" cy="80.77" r="0.6" fill="#c38ad6"/><circle cx="393.19" cy="81.73" r="0.6" fill="#c38ad6"/><circle cx="394.39" cy="83.53" r="0.6" fill="#c38ad6"/><circle cx="390.428" cy="84.86" r="1.67" fill="#c38ad6"/><line x1="393.39" y1="83.46" x2="401.57" y2="85.12" stroke="#c38ad6" stroke-width="0.75"/><line x1="394.35" y1="81.53" x2="400.61" y2="87.06" stroke="#c38ad6" stroke-width="0.75"/><line x1="396.15" y1="80.33" x2="398.81" y2="88.25" stroke="#c38ad6" stroke-width="0.75"/><line x1="398.31" y1="80.20" x2="396.65" y2="88.39" stroke="#c38ad6" stroke-width="0.75"/><line x1="400.25" y1="81.16" x2="394.71" y2="87.42" stroke="#c38ad6" stroke-width="0.75"/><line x1="401.44" y1="82.96" x2="393.52" y2="85.62" stroke="#c38ad6" stroke-width="0.75"/><circle cx="401.57" cy="85.12" r="0.6" fill="#c38ad6"/><circle cx="400.61" cy="87.06" r="0.6" fill="#c38ad6"/><circle cx="398.81" cy="88.25" r="0.6" fill="#c38ad6"/><circle cx="396.65" cy="88.39" r="0.6" fill="#c38ad6"/><circle cx="394.71" cy="87.42" r="0.6" fill="#c38ad6"/><circle cx="393.52" cy="85.62" r="0.6" fill="#c38ad6"/><circle cx="393.39" cy="83.46" r="0.6" fill="#c38ad6"/><circle cx="394.35" cy="81.53" r="0.6" fill="#c38ad6"/><circle cx="396.15" cy="80.33" r="0.6" fill="#c38ad6"/><circle cx="398.31" cy="80.20" r="0.6" fill="#c38ad6"/><circle cx="400.25" cy="81.16" r="0.6" fill="#c38ad6"/><circle cx="401.44" cy="82.96" r="0.6" fill="#c38ad6"/><circle cx="397.48" cy="84.29199999999999" r="1.67" fill="#c38ad6"/><line x1="386.83" y1="89.99" x2="395.01" y2="91.65" stroke="#c38ad6" stroke-width="0.75"/><line x1="387.79" y1="88.06" x2="394.05" y2="93.59" stroke="#c38ad6" stroke-width="0.75"/><line x1="389.59" y1="86.86" x2="392.25" y2="94.78" stroke="#c38ad6" stroke-width="0.75"/><line x1="391.75" y1="86.73" x2="390.09" y2="94.92" stroke="#c38ad6" stroke-width="0.75"/><line x1="393.69" y1="87.69" x2="388.15" y2="93.95" stroke="#c38ad6" stroke-width="0.75"/><line x1="394.88" y1="89.50" x2="386.96" y2="92.15" stroke="#c38ad6" stroke-width="0.75"/><circle cx="395.01" cy="91.65" r="0.6" fill="#c38ad6"/><circle cx="394.05" cy="93.59" r="0.6" fill="#c38ad6"/><circle cx="392.25" cy="94.78" r="0.6" fill="#c38ad6"/><circle cx="390.09" cy="94.92" r="0.6" fill="#c38ad6"/><circle cx="388.15" cy="93.95" r="0.6" fill="#c38ad6"/><circle cx="386.96" cy="92.15" r="0.6" fill="#c38ad6"/><circle cx="386.83" cy="89.99" r="0.6" fill="#c38ad6"/><circle cx="387.79" cy="88.06" r="0.6" fill="#c38ad6"/><circle cx="389.59" cy="86.86" r="0.6" fill="#c38ad6"/><circle cx="391.75" cy="86.73" r="0.6" fill="#c38ad6"/><circle cx="393.69" cy="87.69" r="0.6" fill="#c38ad6"/><circle cx="394.88" cy="89.50" r="0.6" fill="#c38ad6"/><circle cx="390.92" cy="90.824" r="1.67" fill="#c38ad6"/><line x1="393.71" y1="89.71" x2="401.90" y2="91.37" stroke="#c38ad6" stroke-width="0.75"/><line x1="394.68" y1="87.77" x2="400.94" y2="93.31" stroke="#c38ad6" stroke-width="0.75"/><line x1="396.48" y1="86.58" x2="399.14" y2="94.50" stroke="#c38ad6" stroke-width="0.75"/><line x1="398.64" y1="86.45" x2="396.98" y2="94.63" stroke="#c38ad6" stroke-width="0.75"/><line x1="400.57" y1="87.41" x2="395.04" y2="93.67" stroke="#c38ad6" stroke-width="0.75"/><line x1="401.77" y1="89.21" x2="393.85" y2="91.87" stroke="#c38ad6" stroke-width="0.75"/><circle cx="401.90" cy="91.37" r="0.6" fill="#c38ad6"/><circle cx="400.94" cy="93.31" r="0.6" fill="#c38ad6"/><circle cx="399.14" cy="94.50" r="0.6" fill="#c38ad6"/><circle cx="396.98" cy="94.63" r="0.6" fill="#c38ad6"/><circle cx="395.04" cy="93.67" r="0.6" fill="#c38ad6"/><circle cx="393.85" cy="91.87" r="0.6" fill="#c38ad6"/><circle cx="393.71" cy="89.71" r="0.6" fill="#c38ad6"/><circle cx="394.68" cy="87.77" r="0.6" fill="#c38ad6"/><circle cx="396.48" cy="86.58" r="0.6" fill="#c38ad6"/><circle cx="398.64" cy="86.45" r="0.6" fill="#c38ad6"/><circle cx="400.57" cy="87.41" r="0.6" fill="#c38ad6"/><circle cx="401.77" cy="89.21" r="0.6" fill="#c38ad6"/><circle cx="397.808" cy="90.53999999999999" r="1.67" fill="#c38ad6"/></g>
<circle cx="424" cy="16.4" r="7.2" fill="url(#halo)"/><circle cx="424" cy="16.4" r="2.9" fill="#c4e6b4" stroke="#acd898" stroke-width="0.6" filter="url(#soft2)"/>
<circle cx="437" cy="14.7" r="7.2" fill="url(#halo)"/><circle cx="437" cy="14.7" r="2.9" fill="#c4e6b4" stroke="#acd898" stroke-width="0.6" filter="url(#soft2)"/>
<circle cx="418" cy="26.8" r="7.2" fill="url(#halo)"/><circle cx="418" cy="26.8" r="2.9" fill="#c4e6b4" stroke="#acd898" stroke-width="0.6" filter="url(#soft2)"/>
<circle cx="431" cy="26.8" r="7.2" fill="url(#halo)"/><circle cx="431" cy="26.8" r="2.9" fill="#c4e6b4" stroke="#acd898" stroke-width="0.6" filter="url(#soft2)"/>
<circle cx="444.8" cy="26" r="7.2" fill="url(#halo)"/><circle cx="444.8" cy="26" r="2.9" fill="#c4e6b4" stroke="#acd898" stroke-width="0.6" filter="url(#soft2)"/>
<circle cx="432.4" cy="49.5" r="7.2" fill="url(#halo)"/><circle cx="432.4" cy="49.5" r="2.1" fill="#f4be74" stroke="#dc8c2c" stroke-width="1.3" filter="url(#soft)"/>
<circle cx="421.8" cy="60.9" r="7.2" fill="url(#halo)"/><circle cx="421.8" cy="60.9" r="2.1" fill="#f4be74" stroke="#dc8c2c" stroke-width="1.3" filter="url(#soft)"/>
<circle cx="438.1" cy="61.2" r="7.2" fill="url(#halo)"/><circle cx="438.1" cy="61.2" r="2.1" fill="#f4be74" stroke="#dc8c2c" stroke-width="1.3" filter="url(#soft)"/>
<circle cx="487.8" cy="51.1" r="7.2" fill="url(#halo)"/><circle cx="487.8" cy="51.1" r="2.1" fill="#e48aa4" stroke="#943848" stroke-width="1.3" filter="url(#soft)"/>
<circle cx="502.3" cy="52.5" r="7.2" fill="url(#halo)"/><circle cx="502.3" cy="52.5" r="2.1" fill="#e48aa4" stroke="#943848" stroke-width="1.3" filter="url(#soft)"/>
<circle cx="493.4" cy="63.2" r="7.2" fill="url(#halo)"/><circle cx="493.4" cy="63.2" r="2.1" fill="#e48aa4" stroke="#943848" stroke-width="1.3" filter="url(#soft)"/>
<circle cx="423.7" cy="92.2" r="7.2" fill="url(#halo)"/><circle cx="423.7" cy="92.2" r="2.1" fill="#ddd0e4" stroke="#8c7c96" stroke-width="1.3" filter="url(#soft)"/>
<circle cx="437.5" cy="89.6" r="7.2" fill="url(#halo)"/><circle cx="437.5" cy="89.6" r="2.1" fill="#ddd0e4" stroke="#8c7c96" stroke-width="1.3" filter="url(#soft)"/>
<circle cx="433.6" cy="100.3" r="7.2" fill="url(#halo)"/><circle cx="433.6" cy="100.3" r="2.1" fill="#ddd0e4" stroke="#8c7c96" stroke-width="1.3" filter="url(#soft)"/>
<text x="2" y="127" font-family="Liberation Sans, Arial, sans-serif" font-weight="bold" font-size="13">C</text>
<text x="68" y="130.4" text-anchor="middle" font-family="Liberation Sans, Arial, sans-serif" font-weight="bold" font-size="7.2" fill="#111">H2AK119ub1</text>
<line x1="17" y1="134.3" x2="118.5" y2="134.3" stroke="#333" stroke-width="0.8"/>
<text x="195.5" y="130.4" text-anchor="middle" font-family="Liberation Sans, Arial, sans-serif" font-weight="bold" font-size="7.2" fill="#111">H3K27me3</text>
<line x1="141" y1="134.3" x2="242" y2="134.3" stroke="#333" stroke-width="0.8"/>
<text x="291" y="130.4" text-anchor="middle" font-family="Liberation Sans, Arial, sans-serif" font-weight="bold" font-size="7.2" fill="#111">RYBP</text>
<line x1="264.5" y1="134.3" x2="312.5" y2="134.3" stroke="#333" stroke-width="0.8"/>
<text x="25.4" y="143.8" text-anchor="middle" font-family="Liberation Sans, Arial, sans-serif" font-size="7" fill="#222">Control</text>
<text x="55.2" y="143.8" text-anchor="middle" font-family="Liberation Sans, Arial, sans-serif" font-size="7" fill="#222">RKO</text>
<text x="84.5" y="143.8" text-anchor="middle" font-family="Liberation Sans, Arial, sans-serif" font-size="7" fill="#222">YKO</text>
<text x="113.7" y="143.8" text-anchor="middle" font-family="Liberation Sans, Arial, sans-serif" font-size="7" fill="#222">R/Y DKO</text>
<text x="149" y="143.8" text-anchor="middle" font-family="Liberation Sans, Arial, sans-serif" font-size="7" fill="#222">Control</text>
<text x="179" y="143.8" text-anchor="middle" font-family="Liberation Sans, Arial, sans-serif" font-size="7" fill="#222">RKO</text>
<text x="208.5" y="143.8" text-anchor="middle" font-family="Liberation Sans, Arial, sans-serif" font-size="7" fill="#222">YKO</text>
<text x="237.5" y="143.8" text-anchor="middle" font-family="Liberation Sans, Arial, sans-serif" font-size="7" fill="#222">R/Y DKO</text>
<text x="273.5" y="143.8" text-anchor="middle" font-family="Liberation Sans, Arial, sans-serif" font-size="7" fill="#222">Control</text>
<text x="303.7" y="143.8" text-anchor="middle" font-family="Liberation Sans, Arial, sans-serif" font-size="7" fill="#222">RKO</text>
<rect x="10" y="146.5" width="29.00" height="145.00" fill="url(#g1)"/><rect x="10" y="146.5" width="29.00" height="145.00" fill="url(#g2)"/><rect x="10" y="146.5" width="29.00" height="145.00" fill="url(#g3)"/><rect x="23.80" y="146.5" width="1.4" height="145.00" fill="url(#g4)"/><rect x="10" y="146.5" width="29.00" height="9" fill="url(#g5)"/><rect x="39" y="146.5" width="29.50" height="145.00" fill="url(#g6)"/><rect x="39" y="146.5" width="29.50" height="145.00" fill="url(#g7)"/><rect x="39" y="146.5" width="29.50" height="145.00" fill="url(#g8)"/><rect x="53.10" y="146.5" width="1.3" height="145.00" fill="url(#g9)"/><rect x="39" y="146.5" width="29.50" height="9" fill="url(#g10)"/><rect x="68.5" y="146.5" width="29.00" height="145.00" fill="url(#g11)"/><rect x="68.5" y="146.5" width="29.00" height="145.00" fill="url(#g12)"/><rect x="68.5" y="146.5" width="29.00" height="145.00" fill="url(#g13)"/><rect x="82.30" y="146.5" width="1.4" height="145.00" fill="url(#g14)"/><rect x="68.5" y="146.5" width="29.00" height="9" fill="url(#g15)"/><rect x="97.5" y="146.5" width="29.00" height="145.00" fill="url(#g16)"/><rect x="97.5" y="146.5" width="29.00" height="145.00" fill="url(#g17)"/><rect x="97.5" y="146.5" width="29.00" height="145.00" fill="url(#g18)"/><rect x="111.35" y="146.5" width="1.3" height="145.00" fill="url(#g19)"/><rect x="97.5" y="146.5" width="29.00" height="9" fill="url(#g20)"/><line x1="39" y1="146.5" x2="39" y2="291.5" stroke="#ffffff" stroke-opacity="0.35" stroke-width="0.7"/><line x1="68.5" y1="146.5" x2="68.5" y2="291.5" stroke="#ffffff" stroke-opacity="0.35" stroke-width="0.7"/><line x1="97.5" y1="146.5" x2="97.5" y2="291.5" stroke="#ffffff" stroke-opacity="0.35" stroke-width="0.7"/><rect x="10" y="146.5" width="116.50" height="145.00" fill="url(#g21)"/><rect x="10" y="146.5" width="116.50" height="145.00" fill="#fff" filter="url(#streak)" opacity="0.22"/><rect x="10" y="146.5" width="116.50" height="145.00" fill="none" stroke="#d8d8d8" stroke-width="0.5"/>
<rect x="134.5" y="147" width="29.00" height="144.80" fill="url(#g22)"/><rect x="134.5" y="147" width="29.00" height="144.80" fill="url(#g23)"/><rect x="134.5" y="147" width="29.00" height="144.80" fill="url(#g24)"/><rect x="148.30" y="147" width="1.4" height="144.80" fill="url(#g25)"/><rect x="134.5" y="147" width="29.00" height="9" fill="url(#g26)"/><rect x="163.5" y="147" width="29.00" height="144.80" fill="url(#g27)"/><rect x="163.5" y="147" width="29.00" height="144.80" fill="url(#g28)"/><rect x="163.5" y="147" width="29.00" height="144.80" fill="url(#g29)"/><rect x="177.35" y="147" width="1.3" height="144.80" fill="url(#g30)"/><rect x="163.5" y="147" width="29.00" height="9" fill="url(#g31)"/><rect x="192.5" y="147" width="29.50" height="144.80" fill="url(#g32)"/><rect x="192.5" y="147" width="29.50" height="144.80" fill="url(#g33)"/><rect x="192.5" y="147" width="29.50" height="144.80" fill="url(#g34)"/><rect x="206.55" y="147" width="1.4" height="144.80" fill="url(#g35)"/><rect x="192.5" y="147" width="29.50" height="9" fill="url(#g36)"/><rect x="222" y="147" width="29.00" height="144.80" fill="url(#g37)"/><rect x="222" y="147" width="29.00" height="144.80" fill="url(#g38)"/><rect x="222" y="147" width="29.00" height="144.80" fill="url(#g39)"/><rect x="235.85" y="147" width="1.3" height="144.80" fill="url(#g40)"/><rect x="222" y="147" width="29.00" height="9" fill="url(#g41)"/><line x1="163.5" y1="147" x2="163.5" y2="291.8" stroke="#ffffff" stroke-opacity="0.35" stroke-width="0.7"/><line x1="192.5" y1="147" x2="192.5" y2="291.8" stroke="#ffffff" stroke-opacity="0.35" stroke-width="0.7"/><line x1="222" y1="147" x2="222" y2="291.8" stroke="#ffffff" stroke-opacity="0.35" stroke-width="0.7"/><rect x="134.5" y="147" width="116.50" height="144.80" fill="url(#g42)"/><rect x="134.5" y="147" width="116.50" height="144.80" fill="#fff" filter="url(#streak)" opacity="0.22"/><rect x="134.5" y="147" width="116.50" height="144.80" fill="none" stroke="#d8d8d8" stroke-width="0.5"/>
<rect x="259.2" y="146.8" width="28.80" height="145.20" fill="url(#g43)"/><rect x="259.2" y="146.8" width="28.80" height="145.20" fill="url(#g44)"/><rect x="259.2" y="146.8" width="28.80" height="145.20" fill="url(#g45)"/><rect x="272.60" y="146.8" width="2.0" height="145.20" fill="url(#g46)"/><rect x="259.2" y="146.8" width="28.80" height="9" fill="url(#g47)"/><rect x="288" y="146.8" width="29.00" height="145.20" fill="url(#g48)"/><rect x="288" y="146.8" width="29.00" height="145.20" fill="url(#g49)"/><rect x="301.90" y="146.8" width="1.2" height="145.20" fill="url(#g50)"/><rect x="288" y="146.8" width="29.00" height="9" fill="url(#g51)"/><line x1="288" y1="146.8" x2="288" y2="292" stroke="#ffffff" stroke-opacity="0.35" stroke-width="0.7"/><rect x="259.2" y="146.8" width="57.80" height="145.20" fill="url(#g52)"/><rect x="259.2" y="146.8" width="57.80" height="145.20" fill="#fff" filter="url(#streak)" opacity="0.22"/><rect x="259.2" y="146.8" width="57.80" height="145.20" fill="none" stroke="#d8d8d8" stroke-width="0.5"/>
<text x="5" y="297.8" font-family="Liberation Sans, Arial, sans-serif" font-size="4.6" fill="#333">-10 kb</text>
<text x="24.5" y="297.8" text-anchor="middle" font-family="Liberation Sans, Arial, sans-serif" font-size="4.6" fill="#333">0</text>
<text x="34" y="297.8" font-family="Liberation Sans, Arial, sans-serif" font-size="4.6" fill="#333">+10 kb</text>
<text x="129.5" y="297.8" font-family="Liberation Sans, Arial, sans-serif" font-size="4.6" fill="#333">-10 kb</text>
<text x="149.0" y="297.8" text-anchor="middle" font-family="Liberation Sans, Arial, sans-serif" font-size="4.6" fill="#333">0</text>
<text x="158.5" y="297.8" font-family="Liberation Sans, Arial, sans-serif" font-size="4.6" fill="#333">+10 kb</text>
<text x="254.2" y="297.8" font-family="Liberation Sans, Arial, sans-serif" font-size="4.6" fill="#333">-10 kb</text>
<text x="273.7" y="297.8" text-anchor="middle" font-family="Liberation Sans, Arial, sans-serif" font-size="4.6" fill="#333">0</text>
<text x="283.2" y="297.8" font-family="Liberation Sans, Arial, sans-serif" font-size="4.6" fill="#333">+10 kb</text>
<rect x="97" y="304" width="29.5" height="5.300000000000011" fill="url(#g53)"/>
<rect x="221" y="304" width="29.5" height="5.300000000000011" fill="url(#g54)"/>
<rect x="288" y="304" width="29.5" height="5.300000000000011" fill="url(#g55)"/>
<text x="96" y="315.6" text-anchor="middle" font-family="Liberation Sans, Arial, sans-serif" font-size="4.8" fill="#333">0</text>
<text x="126.5" y="315.6" text-anchor="middle" font-family="Liberation Sans, Arial, sans-serif" font-size="4.8" fill="#333">0.15</text>
<text x="220" y="315.6" text-anchor="middle" font-family="Liberation Sans, Arial, sans-serif" font-size="4.8" fill="#333">0</text>
<text x="250.5" y="315.6" text-anchor="middle" font-family="Liberation Sans, Arial, sans-serif" font-size="4.8" fill="#333">0.15</text>
<text x="287" y="315.6" text-anchor="middle" font-family="Liberation Sans, Arial, sans-serif" font-size="4.8" fill="#333">0</text>
<text x="317.5" y="315.6" text-anchor="middle" font-family="Liberation Sans, Arial, sans-serif" font-size="4.8" fill="#333">0.15</text>
<text x="332.5" y="125.2" font-family="Liberation Sans, Arial, sans-serif" font-weight="bold" font-size="13">D</text><clipPath id="clipD"><rect x="346.4" y="134" width="65.80000000000001" height="68"/></clipPath><g clip-path="url(#clipD)"><path d="M346.40,181.47 L346.81,181.63 L347.22,181.50 L347.63,181.61 L348.04,181.59 L348.46,181.22 L348.87,181.15 L349.28,181.61 L349.69,181.23 L350.10,181.18 L350.51,181.60 L350.92,181.24 L351.33,181.42 L351.75,181.16 L352.16,181.22 L352.57,180.88 L352.98,181.13 L353.39,181.22 L353.80,180.97 L354.21,181.05 L354.62,180.96 L355.04,180.54 L355.45,180.90 L355.86,180.74 L356.27,180.51 L356.68,180.29 L357.09,180.73 L357.50,180.42 L357.91,180.50 L358.33,180.53 L358.74,180.36 L359.15,180.41 L359.56,180.01 L359.97,180.17 L360.38,179.87 L360.79,180.07 L361.20,179.94 L361.62,179.37 L362.03,179.29 L362.44,179.23 L362.85,179.56 L363.26,179.12 L363.67,179.11 L364.08,178.78 L364.50,178.76 L364.91,178.53 L365.32,178.35 L365.73,178.32 L366.14,178.13 L366.55,178.13 L366.96,177.79 L367.37,177.71 L367.78,177.43 L368.20,177.26 L368.61,176.79 L369.02,176.19 L369.43,176.28 L369.84,176.00 L370.25,175.58 L370.66,174.97 L371.07,174.60 L371.49,173.81 L371.90,173.63 L372.31,172.88 L372.72,172.04 L373.13,171.17 L373.54,170.82 L373.95,169.98 L374.37,168.41 L374.78,167.67 L375.19,166.12 L375.60,164.47 L376.01,162.85 L376.42,161.18 L376.83,159.02 L377.24,155.99 L377.65,153.46 L378.07,149.90 L378.48,146.79 L378.89,142.88 L379.30,139.71 L379.71,137.21 L379.80,136.70 L380.12,138.48 L380.53,141.31 L380.94,144.82 L381.36,148.75 L381.77,151.76 L382.18,154.88 L382.59,157.69 L383.00,160.16 L383.41,161.95 L383.82,163.69 L384.24,165.77 L384.65,166.83 L385.06,168.45 L385.47,169.50 L385.88,170.15 L386.29,171.07 L386.70,171.87 L387.11,172.64 L387.52,173.24 L387.94,173.79 L388.35,174.34 L388.76,175.00 L389.17,175.17 L389.58,175.52 L389.99,176.05 L390.40,176.10 L390.81,176.44 L391.23,177.13 L391.64,177.12 L392.05,177.39 L392.46,177.29 L392.87,177.75 L393.28,178.05 L393.69,177.90 L394.10,178.43 L394.52,178.61 L394.93,178.42 L395.34,178.91 L395.75,178.95 L396.16,179.21 L396.57,179.14 L396.98,179.47 L397.39,179.61 L397.81,179.28 L398.22,179.41 L398.63,179.88 L399.04,180.14 L399.45,179.80 L399.86,180.01 L400.27,180.17 L400.69,180.09 L401.10,180.19 L401.51,180.23 L401.92,180.33 L402.33,180.54 L402.74,180.42 L403.15,180.53 L403.56,180.83 L403.97,180.44 L404.39,180.82 L404.80,180.97 L405.21,180.77 L405.62,180.77 L406.03,181.16 L406.44,180.87 L406.85,180.89 L407.26,181.08 L407.68,181.28 L408.09,180.96 L408.50,181.14 L408.91,181.18 L409.32,181.52 L409.73,181.32 L410.14,181.61 L410.55,181.23 L410.97,181.37 L411.38,181.59 L411.79,181.76 L412.20,181.53" fill="none" stroke="#8ccaf4" stroke-width="1.8" stroke-linejoin="round"/><path d="M346.40,182.27 L346.81,182.17 L347.22,182.31 L347.63,182.14 L348.04,182.05 L348.46,182.22 L348.87,182.50 L349.28,182.39 L349.69,182.34 L350.10,181.97 L350.51,182.13 L350.92,181.93 L351.33,181.83 L351.75,181.75 L352.16,181.77 L352.57,182.16 L352.98,182.05 L353.39,182.00 L353.80,181.94 L354.21,181.53 L354.62,181.55 L355.04,181.69 L355.45,181.70 L355.86,181.72 L356.27,181.68 L356.68,181.14 L357.09,181.39 L357.50,181.37 L357.91,181.20 L358.33,180.93 L358.74,181.04 L359.15,180.73 L359.56,181.16 L359.97,181.04 L360.38,180.76 L360.79,180.52 L361.20,180.80 L361.62,180.50 L362.03,180.58 L362.44,180.45 L362.85,180.13 L363.26,179.95 L363.67,179.94 L364.08,179.70 L364.50,179.40 L364.91,179.34 L365.32,179.48 L365.73,178.85 L366.14,178.67 L366.55,178.83 L366.96,178.42 L367.37,178.35 L367.78,178.08 L368.20,177.75 L368.61,177.87 L369.02,177.09 L369.43,176.91 L369.84,176.43 L370.25,176.32 L370.66,175.69 L371.07,175.30 L371.49,175.04 L371.90,174.24 L372.31,173.79 L372.72,173.34 L373.13,172.12 L373.54,171.27 L373.95,170.46 L374.37,169.74 L374.78,168.48 L375.19,166.93 L375.60,165.47 L376.01,163.65 L376.42,161.84 L376.83,159.31 L377.24,157.10 L377.65,154.25 L378.07,150.94 L378.48,147.13 L378.89,143.38 L379.30,139.09 L379.71,136.51 L379.80,136.68 L380.12,138.16 L380.53,141.39 L380.94,145.59 L381.36,149.19 L381.77,152.81 L382.18,155.63 L382.59,158.32 L383.00,160.88 L383.41,162.80 L383.82,164.78 L384.24,166.73 L384.65,167.76 L385.06,168.80 L385.47,169.91 L385.88,170.96 L386.29,172.19 L386.70,172.70 L387.11,173.35 L387.52,173.86 L387.94,174.95 L388.35,175.13 L388.76,175.47 L389.17,175.80 L389.58,176.19 L389.99,176.61 L390.40,177.25 L390.81,177.24 L391.23,177.45 L391.64,177.98 L392.05,178.08 L392.46,178.75 L392.87,178.44 L393.28,178.88 L393.69,179.21 L394.10,179.17 L394.52,179.68 L394.93,179.53 L395.34,179.53 L395.75,179.77 L396.16,179.67 L396.57,180.03 L396.98,180.04 L397.39,180.54 L397.81,180.61 L398.22,180.51 L398.63,180.32 L399.04,180.55 L399.45,180.63 L399.86,180.69 L400.27,180.78 L400.69,181.24 L401.10,180.88 L401.51,180.90 L401.92,181.49 L402.33,181.34 L402.74,181.66 L403.15,181.36 L403.56,181.72 L403.97,181.63 L404.39,181.77 L404.80,181.79 L405.21,181.69 L405.62,181.50 L406.03,181.62 L406.44,182.06 L406.85,182.12 L407.26,182.18 L407.68,181.87 L408.09,182.10 L408.50,182.23 L408.91,182.17 L409.32,182.31 L409.73,182.18 L410.14,182.29 L410.55,182.34 L410.97,182.13 L411.38,182.55 L411.79,182.60 L412.20,182.11" fill="none" stroke="#2d48a8" stroke-width="1.1" stroke-linejoin="round"/><path d="M346.40,194.68 L346.81,194.70 L347.22,194.69 L347.63,194.72 L348.04,194.60 L348.46,194.64 L348.87,194.25 L349.28,194.38 L349.69,194.54 L350.10,194.38 L350.51,194.44 L350.92,194.08 L351.33,194.18 L351.75,194.05 L352.16,194.12 L352.57,194.09 L352.98,193.81 L353.39,193.85 L353.80,193.82 L354.21,194.02 L354.62,193.91 L355.04,193.61 L355.45,193.80 L355.86,193.48 L356.27,193.61 L356.68,193.34 L357.09,193.23 L357.50,193.50 L357.91,193.16 L358.33,193.09 L358.74,193.32 L359.15,193.19 L359.56,192.87 L359.97,193.05 L360.38,192.78 L360.79,192.74 L361.20,192.45 L361.62,192.64 L362.03,192.42 L362.44,192.41 L362.85,192.26 L363.26,191.89 L363.67,191.78 L364.08,191.56 L364.50,191.40 L364.91,191.20 L365.32,191.13 L365.73,191.07 L366.14,190.64 L366.55,190.70 L366.96,190.35 L367.37,190.11 L367.78,190.07 L368.20,189.68 L368.61,189.33 L369.02,189.10 L369.43,188.87 L369.84,188.27 L370.25,188.27 L370.66,187.49 L371.07,187.35 L371.49,186.93 L371.90,186.10 L372.31,185.86 L372.72,185.11 L373.13,184.55 L373.54,183.62 L373.95,182.87 L374.37,182.09 L374.78,181.49 L375.19,180.19 L375.60,179.32 L376.01,178.20 L376.42,176.91 L376.83,175.27 L377.24,173.77 L377.65,172.23 L378.07,170.66 L378.48,168.71 L378.89,167.33 L379.30,165.90 L379.71,164.93 L379.80,164.51 L380.12,165.45 L380.53,166.40 L380.94,168.08 L381.36,169.87 L381.77,171.68 L382.18,173.08 L382.59,174.86 L383.00,176.16 L383.41,177.41 L383.82,178.64 L384.24,179.72 L384.65,180.72 L385.06,181.69 L385.47,182.78 L385.88,183.69 L386.29,184.09 L386.70,184.71 L387.11,185.70 L387.52,186.08 L387.94,186.54 L388.35,186.95 L388.76,187.54 L389.17,188.04 L389.58,188.27 L389.99,188.61 L390.40,188.80 L390.81,189.45 L391.23,189.38 L391.64,189.83 L392.05,190.22 L392.46,190.17 L392.87,190.63 L393.28,190.93 L393.69,191.00 L394.10,191.24 L394.52,191.15 L394.93,191.44 L395.34,191.48 L395.75,191.91 L396.16,191.83 L396.57,192.03 L396.98,192.37 L397.39,192.44 L397.81,192.60 L398.22,192.50 L398.63,192.62 L399.04,192.82 L399.45,192.81 L399.86,192.83 L400.27,192.96 L400.69,192.95 L401.10,193.12 L401.51,193.44 L401.92,193.51 L402.33,193.45 L402.74,193.46 L403.15,193.47 L403.56,193.43 L403.97,193.57 L404.39,193.83 L404.80,193.92 L405.21,193.78 L405.62,194.00 L406.03,194.05 L406.44,194.07 L406.85,194.10 L407.26,194.19 L407.68,194.08 L408.09,194.26 L408.50,194.13 L408.91,194.26 L409.32,194.41 L409.73,194.42 L410.14,194.30 L410.55,194.60 L410.97,194.52 L411.38,194.52 L411.79,194.33 L412.20,194.58" fill="none" stroke="#e8622a" stroke-width="1.3" stroke-linejoin="round"/><path d="M346.40,198.95 L346.81,198.94 L347.22,198.77 L347.63,198.64 L348.04,198.50 L348.46,198.72 L348.87,198.61 L349.28,198.68 L349.69,198.48 L350.10,198.60 L350.51,198.35 L350.92,198.52 L351.33,198.44 L351.75,198.27 L352.16,198.27 L352.57,198.27 L352.98,198.02 L353.39,198.11 L353.80,198.16 L354.21,197.88 L354.62,198.03 L355.04,197.92 L355.45,197.92 L355.86,197.65 L356.27,197.48 L356.68,197.69 L357.09,197.62 L357.50,197.40 L357.91,197.17 L358.33,197.13 L358.74,197.22 L359.15,196.99 L359.56,197.16 L359.97,196.91 L360.38,196.65 L360.79,196.72 L361.20,196.49 L361.62,196.60 L362.03,196.46 L362.44,196.17 L362.85,196.09 L363.26,195.97 L363.67,195.86 L364.08,195.76 L364.50,195.22 L364.91,195.17 L365.32,195.08 L365.73,194.76 L366.14,194.66 L366.55,194.24 L366.96,194.32 L367.37,193.92 L367.78,193.49 L368.20,193.42 L368.61,192.98 L369.02,192.60 L369.43,192.37 L369.84,191.86 L370.25,191.48 L370.66,191.31 L371.07,190.78 L371.49,190.00 L371.90,189.76 L372.31,188.87 L372.72,188.36 L373.13,187.89 L373.54,187.03 L373.95,186.08 L374.37,185.22 L374.78,184.25 L375.19,183.08 L375.60,182.28 L376.01,180.65 L376.42,179.44 L376.83,178.11 L377.24,176.41 L377.65,174.99 L378.07,172.99 L378.48,171.57 L378.89,169.88 L379.30,168.35 L379.71,167.44 L379.80,167.18 L380.12,167.90 L380.53,169.18 L380.94,170.66 L381.36,172.34 L381.77,174.15 L382.18,175.71 L382.59,177.18 L383.00,178.95 L383.41,180.16 L383.82,181.55 L384.24,182.86 L384.65,183.72 L385.06,184.66 L385.47,185.63 L385.88,186.67 L386.29,187.36 L386.70,188.04 L387.11,188.77 L387.52,189.57 L387.94,189.87 L388.35,190.45 L388.76,191.12 L389.17,191.46 L389.58,191.74 L389.99,192.21 L390.40,192.57 L390.81,192.77 L391.23,193.18 L391.64,193.45 L392.05,193.92 L392.46,193.99 L392.87,194.37 L393.28,194.72 L393.69,194.92 L394.10,194.90 L394.52,195.19 L394.93,195.26 L395.34,195.46 L395.75,195.66 L396.16,195.94 L396.57,196.14 L396.98,196.03 L397.39,196.05 L397.81,196.35 L398.22,196.32 L398.63,196.42 L399.04,196.83 L399.45,196.67 L399.86,197.02 L400.27,196.97 L400.69,197.30 L401.10,197.36 L401.51,197.13 L401.92,197.26 L402.33,197.64 L402.74,197.59 L403.15,197.58 L403.56,197.80 L403.97,197.88 L404.39,197.82 L404.80,197.87 L405.21,197.79 L405.62,197.95 L406.03,197.92 L406.44,198.17 L406.85,198.22 L407.26,198.09 L407.68,198.33 L408.09,198.17 L408.50,198.22 L408.91,198.48 L409.32,198.46 L409.73,198.67 L410.14,198.61 L410.55,198.68 L410.97,198.49 L411.38,198.81 L411.79,198.55 L412.20,198.80" fill="none" stroke="#f4a04a" stroke-width="1.2" stroke-linejoin="round"/></g><rect x="346.4" y="134" width="65.80000000000001" height="68" fill="none" stroke="#333" stroke-width="0.8"/><line x1="344.9" y1="145.7" x2="346.4" y2="145.7" stroke="#333" stroke-width="0.5"/><text transform="translate(343.4,145.7) rotate(-90)" text-anchor="middle" font-family="Liberation Sans, Arial, sans-serif" font-size="4" fill="#333">0.07</text><line x1="344.9" y1="159.2" x2="346.4" y2="159.2" stroke="#333" stroke-width="0.5"/><text transform="translate(343.4,159.2) rotate(-90)" text-anchor="middle" font-family="Liberation Sans, Arial, sans-serif" font-size="4" fill="#333">0.06</text><line x1="344.9" y1="174.8" x2="346.4" y2="174.8" stroke="#333" stroke-width="0.5"/><text transform="translate(343.4,174.8) rotate(-90)" text-anchor="middle" font-family="Liberation Sans, Arial, sans-serif" font-size="4" fill="#333">0.05</text><line x1="344.9" y1="190.3" x2="346.4" y2="190.3" stroke="#333" stroke-width="0.5"/><text transform="translate(343.4,190.3) rotate(-90)" text-anchor="middle" font-family="Liberation Sans, Arial, sans-serif" font-size="4" fill="#333">0.04</text><text transform="translate(336.5,169.0) rotate(-90)" text-anchor="middle" font-family="Liberation Sans, Arial, sans-serif" font-size="5.8" fill="#333">H2AK119ub1 enrichment</text><line x1="346.4" y1="202" x2="346.4" y2="203.3" stroke="#333" stroke-width="0.5"/><line x1="379.29999999999995" y1="202" x2="379.29999999999995" y2="203.3" stroke="#333" stroke-width="0.5"/><line x1="412.2" y1="202" x2="412.2" y2="203.3" stroke="#333" stroke-width="0.5"/><text x="350.3" y="207.2" text-anchor="middle" font-family="Liberation Sans, Arial, sans-serif" font-size="4.8" fill="#222">-10 kb</text><text x="381.1" y="207.2" text-anchor="middle" font-family="Liberation Sans, Arial, sans-serif" font-size="4.8" fill="#222">Peak center</text><text x="409.6" y="207.2" text-anchor="middle" font-family="Liberation Sans, Arial, sans-serif" font-size="4.8" fill="#222">+10 kb</text><rect x="391" y="136.8" width="4" height="2" fill="#0d1d66"/><text x="395.8" y="139.10000000000002" font-family="Liberation Sans, Arial, sans-serif" font-size="3.9" fill="#333">Control</text><rect x="391" y="140.10000000000002" width="4" height="2" fill="#8ab8e6"/><text x="395.8" y="142.40000000000003" font-family="Liberation Sans, Arial, sans-serif" font-size="3.9" fill="#333">YKO</text><rect x="391" y="143.4" width="4" height="2" fill="#c03020"/><text x="395.8" y="145.70000000000002" font-family="Liberation Sans, Arial, sans-serif" font-size="3.9" fill="#333">RKO</text><rect x="391" y="146.70000000000002" width="4" height="2" fill="#f08866"/><text x="395.8" y="149.00000000000003" font-family="Liberation Sans, Arial, sans-serif" font-size="3.9" fill="#333">R/Y DKO</text>
<text x="434.8" y="125.2" font-family="Liberation Sans, Arial, sans-serif" font-weight="bold" font-size="13">E</text><clipPath id="clipE"><rect x="448.4" y="133.4" width="66.5" height="67.0"/></clipPath><g clip-path="url(#clipE)"><path d="M448.40,197.55 L448.82,197.47 L449.23,197.65 L449.65,197.39 L450.06,197.55 L450.48,197.46 L450.89,197.31 L451.31,197.46 L451.72,197.25 L452.14,197.38 L452.56,197.20 L452.97,197.18 L453.39,197.28 L453.80,197.41 L454.22,197.10 L454.63,197.10 L455.05,197.23 L455.47,197.32 L455.88,197.13 L456.30,197.02 L456.71,197.21 L457.13,196.79 L457.54,197.07 L457.96,196.79 L458.38,196.68 L458.79,196.62 L459.21,196.64 L459.62,196.78 L460.04,196.47 L460.45,196.57 L460.87,196.52 L461.28,196.34 L461.70,196.34 L462.12,196.06 L462.53,195.98 L462.95,195.95 L463.36,196.05 L463.78,195.85 L464.19,195.70 L464.61,195.69 L465.02,195.52 L465.44,195.34 L465.86,195.40 L466.27,195.22 L466.69,194.89 L467.10,194.85 L467.52,194.66 L467.93,194.61 L468.35,194.35 L468.77,193.96 L469.18,194.01 L469.60,193.41 L470.01,193.26 L470.43,193.10 L470.84,192.54 L471.26,192.33 L471.67,191.77 L472.09,191.62 L472.51,191.21 L472.92,190.65 L473.34,190.24 L473.75,189.43 L474.17,188.95 L474.58,188.21 L475.00,187.45 L475.42,186.56 L475.83,185.81 L476.25,184.86 L476.66,183.60 L477.08,182.51 L477.49,181.02 L477.91,179.94 L478.32,178.51 L478.74,177.19 L479.16,175.63 L479.57,173.94 L479.99,172.55 L480.40,171.35 L480.82,169.95 L481.23,169.22 L481.65,168.48 L482.07,168.17 L482.20,168.12 L482.48,168.49 L482.90,168.65 L483.31,169.42 L483.73,170.48 L484.14,171.88 L484.56,172.92 L484.97,174.52 L485.39,176.05 L485.81,177.67 L486.22,179.08 L486.64,180.48 L487.05,181.55 L487.47,182.83 L487.88,183.94 L488.30,185.20 L488.72,186.19 L489.13,186.75 L489.55,187.56 L489.96,188.32 L490.38,188.99 L490.79,189.71 L491.21,190.31 L491.62,190.70 L492.04,191.07 L492.46,191.66 L492.87,192.04 L493.29,192.48 L493.70,192.98 L494.12,193.18 L494.53,193.39 L494.95,193.70 L495.37,193.97 L495.78,193.95 L496.20,194.49 L496.61,194.64 L497.03,194.86 L497.44,195.00 L497.86,195.00 L498.27,195.15 L498.69,195.17 L499.11,195.52 L499.52,195.41 L499.94,195.53 L500.35,195.69 L500.77,195.78 L501.18,195.94 L501.60,195.92 L502.02,195.99 L502.43,196.13 L502.85,196.19 L503.26,196.36 L503.68,196.30 L504.09,196.71 L504.51,196.66 L504.92,196.54 L505.34,196.64 L505.76,196.73 L506.17,196.79 L506.59,196.74 L507.00,197.08 L507.42,197.18 L507.83,197.02 L508.25,197.07 L508.67,196.95 L509.08,196.99 L509.50,197.13 L509.91,197.13 L510.33,197.39 L510.74,197.16 L511.16,197.14 L511.57,197.54 L511.99,197.40 L512.41,197.27 L512.82,197.46 L513.24,197.28 L513.65,197.51 L514.07,197.71 L514.48,197.69 L514.90,197.65" fill="none" stroke="#cbb6f3" stroke-width="1.1" stroke-linejoin="round"/><path d="M448.40,196.81 L448.82,197.09 L449.23,196.74 L449.65,196.94 L450.06,196.67 L450.48,196.71 L450.89,196.99 L451.31,196.65 L451.72,196.80 L452.14,196.70 L452.56,196.67 L452.97,196.65 L453.39,196.50 L453.80,196.73 L454.22,196.40 L454.63,196.42 L455.05,196.30 L455.47,196.36 L455.88,196.38 L456.30,196.54 L456.71,196.29 L457.13,196.14 L457.54,196.15 L457.96,196.40 L458.38,195.98 L458.79,196.15 L459.21,196.00 L459.62,196.06 L460.04,195.87 L460.45,195.95 L460.87,195.81 L461.28,195.80 L461.70,195.83 L462.12,195.62 L462.53,195.37 L462.95,195.25 L463.36,195.51 L463.78,195.24 L464.19,195.02 L464.61,195.21 L465.02,194.95 L465.44,194.89 L465.86,194.82 L466.27,194.45 L466.69,194.33 L467.10,194.38 L467.52,193.91 L467.93,193.98 L468.35,193.52 L468.77,193.55 L469.18,193.33 L469.60,193.19 L470.01,192.88 L470.43,192.46 L470.84,192.03 L471.26,191.68 L471.67,191.46 L472.09,191.06 L472.51,190.45 L472.92,190.31 L473.34,189.64 L473.75,189.15 L474.17,188.33 L474.58,187.66 L475.00,186.82 L475.42,186.14 L475.83,185.21 L476.25,184.30 L476.66,183.21 L477.08,182.24 L477.49,181.02 L477.91,179.40 L478.32,178.08 L478.74,176.52 L479.16,175.22 L479.57,173.84 L479.99,172.08 L480.40,170.97 L480.82,169.61 L481.23,168.56 L481.65,168.23 L482.07,167.76 L482.20,167.67 L482.48,167.86 L482.90,168.20 L483.31,169.02 L483.73,170.06 L484.14,171.29 L484.56,172.74 L484.97,174.09 L485.39,175.52 L485.81,177.01 L486.22,178.47 L486.64,180.02 L487.05,181.26 L487.47,182.65 L487.88,183.65 L488.30,184.77 L488.72,185.82 L489.13,186.32 L489.55,187.10 L489.96,187.87 L490.38,188.63 L490.79,189.30 L491.21,189.92 L491.62,190.26 L492.04,190.97 L492.46,191.00 L492.87,191.72 L493.29,191.82 L493.70,192.41 L494.12,192.38 L494.53,193.03 L494.95,193.20 L495.37,193.53 L495.78,193.58 L496.20,193.63 L496.61,194.13 L497.03,194.10 L497.44,194.12 L497.86,194.48 L498.27,194.58 L498.69,194.70 L499.11,194.70 L499.52,194.81 L499.94,195.10 L500.35,195.16 L500.77,195.13 L501.18,195.34 L501.60,195.55 L502.02,195.63 L502.43,195.61 L502.85,195.65 L503.26,195.71 L503.68,195.72 L504.09,195.77 L504.51,195.93 L504.92,195.86 L505.34,196.16 L505.76,196.20 L506.17,196.22 L506.59,196.03 L507.00,196.21 L507.42,196.28 L507.83,196.19 L508.25,196.58 L508.67,196.53 L509.08,196.47 L509.50,196.59 L509.91,196.42 L510.33,196.46 L510.74,196.62 L511.16,196.73 L511.57,196.72 L511.99,196.50 L512.41,196.77 L512.82,196.91 L513.24,196.87 L513.65,196.97 L514.07,197.02 L514.48,196.74 L514.90,196.79" fill="none" stroke="#9a84e2" stroke-width="1.0" stroke-linejoin="round"/><path d="M448.40,183.70 L448.82,183.64 L449.23,183.51 L449.65,183.85 L450.06,183.40 L450.48,183.62 L450.89,183.80 L451.31,183.37 L451.72,183.58 L452.14,183.59 L452.56,183.28 L452.97,183.42 L453.39,183.56 L453.80,183.40 L454.22,183.51 L454.63,183.20 L455.05,183.21 L455.47,183.11 L455.88,183.28 L456.30,183.45 L456.71,183.25 L457.13,183.31 L457.54,183.07 L457.96,183.21 L458.38,182.85 L458.79,182.90 L459.21,183.05 L459.62,183.03 L460.04,182.83 L460.45,182.61 L460.87,182.64 L461.28,182.56 L461.70,182.53 L462.12,182.73 L462.53,182.36 L462.95,182.63 L463.36,182.55 L463.78,182.06 L464.19,182.14 L464.61,182.11 L465.02,181.78 L465.44,181.87 L465.86,182.01 L466.27,181.49 L466.69,181.61 L467.10,181.24 L467.52,181.32 L467.93,181.33 L468.35,180.81 L468.77,180.53 L469.18,180.37 L469.60,180.39 L470.01,179.89 L470.43,179.67 L470.84,179.59 L471.26,179.50 L471.67,178.91 L472.09,178.52 L472.51,178.22 L472.92,177.49 L473.34,177.22 L473.75,176.43 L474.17,176.00 L474.58,175.44 L475.00,174.16 L475.42,173.48 L475.83,172.43 L476.25,170.98 L476.66,169.65 L477.08,168.42 L477.49,166.59 L477.91,164.06 L478.32,161.97 L478.74,159.41 L479.16,156.05 L479.57,152.96 L479.99,149.19 L480.40,145.80 L480.82,142.58 L481.23,139.64 L481.65,137.63 L482.07,136.26 L482.20,136.32 L482.48,136.87 L482.90,138.16 L483.31,140.52 L483.73,143.60 L484.14,147.36 L484.56,150.70 L484.97,153.85 L485.39,157.43 L485.81,160.08 L486.22,162.71 L486.64,164.88 L487.05,166.99 L487.47,168.67 L487.88,170.07 L488.30,171.67 L488.72,172.57 L489.13,173.94 L489.55,174.45 L489.96,175.62 L490.38,176.34 L490.79,176.81 L491.21,177.47 L491.62,177.74 L492.04,178.43 L492.46,178.67 L492.87,178.94 L493.29,179.63 L493.70,179.65 L494.12,179.91 L494.53,180.40 L494.95,180.38 L495.37,180.74 L495.78,180.68 L496.20,181.19 L496.61,181.06 L497.03,181.11 L497.44,181.71 L497.86,181.44 L498.27,181.95 L498.69,182.09 L499.11,182.00 L499.52,181.80 L499.94,181.92 L500.35,182.08 L500.77,182.26 L501.18,182.45 L501.60,182.70 L502.02,182.46 L502.43,182.42 L502.85,182.69 L503.26,182.54 L503.68,182.57 L504.09,182.86 L504.51,182.98 L504.92,182.71 L505.34,182.95 L505.76,183.12 L506.17,183.20 L506.59,183.05 L507.00,183.34 L507.42,183.02 L507.83,183.33 L508.25,183.39 L508.67,183.48 L509.08,183.32 L509.50,183.15 L509.91,183.15 L510.33,183.42 L510.74,183.27 L511.16,183.53 L511.57,183.28 L511.99,183.66 L512.41,183.40 L512.82,183.32 L513.24,183.42 L513.65,183.59 L514.07,183.66 L514.48,183.60 L514.90,183.51" fill="none" stroke="#8ccaf4" stroke-width="1.4" stroke-linejoin="round"/><path d="M448.40,187.77 L448.82,187.65 L449.23,187.74 L449.65,187.46 L450.06,187.87 L450.48,187.85 L450.89,187.71 L451.31,187.34 L451.72,187.57 L452.14,187.42 L452.56,187.34 L452.97,187.81 L453.39,187.81 L453.80,187.12 L454.22,187.66 L454.63,187.45 L455.05,187.27 L455.47,187.17 L455.88,187.41 L456.30,187.23 L456.71,187.35 L457.13,187.30 L457.54,186.90 L457.96,187.30 L458.38,187.41 L458.79,187.36 L459.21,187.07 L459.62,186.62 L460.04,186.55 L460.45,186.59 L460.87,187.10 L461.28,186.60 L461.70,186.59 L462.12,186.90 L462.53,186.43 L462.95,186.52 L463.36,186.37 L463.78,186.04 L464.19,186.32 L464.61,186.41 L465.02,185.84 L465.44,185.79 L465.86,185.82 L466.27,185.44 L466.69,185.65 L467.10,185.74 L467.52,185.49 L467.93,185.26 L468.35,185.32 L468.77,184.65 L469.18,184.75 L469.60,184.41 L470.01,184.35 L470.43,183.76 L470.84,183.95 L471.26,183.18 L471.67,182.90 L472.09,182.99 L472.51,182.69 L472.92,181.88 L473.34,181.37 L473.75,180.69 L474.17,180.08 L474.58,179.61 L475.00,178.50 L475.42,177.55 L475.83,176.74 L476.25,175.34 L476.66,174.32 L477.08,172.86 L477.49,171.03 L477.91,168.75 L478.32,166.28 L478.74,163.64 L479.16,160.31 L479.57,157.46 L479.99,153.61 L480.40,149.93 L480.82,146.24 L481.23,143.45 L481.65,141.31 L482.07,140.10 L482.20,140.36 L482.48,140.53 L482.90,141.75 L483.31,144.50 L483.73,148.03 L484.14,151.37 L484.56,155.09 L484.97,158.22 L485.39,161.75 L485.81,164.65 L486.22,167.19 L486.64,169.47 L487.05,171.56 L487.47,173.25 L487.88,174.71 L488.30,175.78 L488.72,177.11 L489.13,178.48 L489.55,178.96 L489.96,179.47 L490.38,180.12 L490.79,181.10 L491.21,181.30 L491.62,181.81 L492.04,182.25 L492.46,182.88 L492.87,183.60 L493.29,183.56 L493.70,183.83 L494.12,184.08 L494.53,184.36 L494.95,184.54 L495.37,184.93 L495.78,185.24 L496.20,185.27 L496.61,185.23 L497.03,185.54 L497.44,185.85 L497.86,185.45 L498.27,185.62 L498.69,186.00 L499.11,186.15 L499.52,186.21 L499.94,186.27 L500.35,186.52 L500.77,186.35 L501.18,186.66 L501.60,186.84 L502.02,186.53 L502.43,186.89 L502.85,186.85 L503.26,187.03 L503.68,186.50 L504.09,187.15 L504.51,187.10 L504.92,187.28 L505.34,187.34 L505.76,186.90 L506.17,187.21 L506.59,186.88 L507.00,187.23 L507.42,187.49 L507.83,187.02 L508.25,187.16 L508.67,187.01 L509.08,187.12 L509.50,187.16 L509.91,187.11 L510.33,187.77 L510.74,187.72 L511.16,187.45 L511.57,187.67 L511.99,187.66 L512.41,187.56 L512.82,187.51 L513.24,187.71 L513.65,187.65 L514.07,187.47 L514.48,187.56 L514.90,187.76" fill="none" stroke="#1e2e86" stroke-width="1.2" stroke-linejoin="round"/></g><rect x="448.4" y="133.4" width="66.5" height="67.0" fill="none" stroke="#333" stroke-width="0.8"/><line x1="446.9" y1="146.3" x2="448.4" y2="146.3" stroke="#333" stroke-width="0.5"/><text transform="translate(445.4,146.3) rotate(-90)" text-anchor="middle" font-family="Liberation Sans, Arial, sans-serif" font-size="4" fill="#333">0.07</text><line x1="446.9" y1="162.6" x2="448.4" y2="162.6" stroke="#333" stroke-width="0.5"/><text transform="translate(445.4,162.6) rotate(-90)" text-anchor="middle" font-family="Liberation Sans, Arial, sans-serif" font-size="4" fill="#333">0.06</text><line x1="446.9" y1="179.5" x2="448.4" y2="179.5" stroke="#333" stroke-width="0.5"/><text transform="translate(445.4,179.5) rotate(-90)" text-anchor="middle" font-family="Liberation Sans, Arial, sans-serif" font-size="4" fill="#333">0.05</text><line x1="446.9" y1="195.8" x2="448.4" y2="195.8" stroke="#333" stroke-width="0.5"/><text transform="translate(445.4,195.8) rotate(-90)" text-anchor="middle" font-family="Liberation Sans, Arial, sans-serif" font-size="4" fill="#333">0.04</text><text transform="translate(439.6,170.4) rotate(-90)" text-anchor="middle" font-family="Liberation Sans, Arial, sans-serif" font-size="5.8" fill="#333">H3K27me3 enrichment</text><line x1="448.4" y1="200.4" x2="448.4" y2="201.70000000000002" stroke="#333" stroke-width="0.5"/><line x1="481.65" y1="200.4" x2="481.65" y2="201.70000000000002" stroke="#333" stroke-width="0.5"/><line x1="514.9" y1="200.4" x2="514.9" y2="201.70000000000002" stroke="#333" stroke-width="0.5"/><text x="451.6" y="205.6" text-anchor="middle" font-family="Liberation Sans, Arial, sans-serif" font-size="4.8" fill="#222">-10 kb</text><text x="482.8" y="205.6" text-anchor="middle" font-family="Liberation Sans, Arial, sans-serif" font-size="4.8" fill="#222">Peak center</text><text x="512.3" y="205.6" text-anchor="middle" font-family="Liberation Sans, Arial, sans-serif" font-size="4.8" fill="#222">+10 kb</text><rect x="496" y="135.1" width="4" height="2" fill="#0d1d66"/><text x="500.8" y="137.4" font-family="Liberation Sans, Arial, sans-serif" font-size="3.9" fill="#333">Control</text><rect x="496" y="138.5" width="4" height="2" fill="#8ab8e6"/><text x="500.8" y="140.8" font-family="Liberation Sans, Arial, sans-serif" font-size="3.9" fill="#333">YKO</text><rect x="496" y="141.9" width="4" height="2" fill="#8878d8"/><text x="500.8" y="144.20000000000002" font-family="Liberation Sans, Arial, sans-serif" font-size="3.9" fill="#333">RKO</text><rect x="496" y="145.29999999999998" width="4" height="2" fill="#d0c0f0"/><text x="500.8" y="147.6" font-family="Liberation Sans, Arial, sans-serif" font-size="3.9" fill="#333">R/Y DKO</text>
<text x="339.2" y="231.2" font-family="Liberation Sans, Arial, sans-serif" font-weight="bold" font-size="13">F</text><clipPath id="clipF"><rect x="394.6" y="227.6" width="66.69999999999999" height="66.79999999999998"/></clipPath><g clip-path="url(#clipF)"><path d="M394.60,291.79 L395.02,291.81 L395.43,291.88 L395.85,291.78 L396.27,291.79 L396.68,291.80 L397.10,291.71 L397.52,291.78 L397.94,291.79 L398.35,291.82 L398.77,291.68 L399.19,291.72 L399.60,291.67 L400.02,291.81 L400.44,291.78 L400.85,291.65 L401.27,291.83 L401.69,291.82 L402.10,291.76 L402.52,291.75 L402.94,291.65 L403.35,291.62 L403.77,291.72 L404.19,291.62 L404.61,291.64 L405.02,291.65 L405.44,291.60 L405.86,291.68 L406.27,291.67 L406.69,291.75 L407.11,291.68 L407.52,291.70 L407.94,291.67 L408.36,291.69 L408.77,291.65 L409.19,291.61 L409.61,291.75 L410.02,291.74 L410.44,291.71 L410.86,291.67 L411.28,291.59 L411.69,291.57 L412.11,291.57 L412.53,291.52 L412.94,291.66 L413.36,291.58 L413.78,291.66 L414.19,291.56 L414.61,291.67 L415.03,291.64 L415.44,291.47 L415.86,291.50 L416.28,291.63 L416.69,291.54 L417.11,291.63 L417.53,291.50 L417.94,291.43 L418.36,291.53 L418.78,291.55 L419.20,291.43 L419.61,291.38 L420.03,291.42 L420.45,291.52 L420.86,291.46 L421.28,291.31 L421.70,291.31 L422.11,291.25 L422.53,291.21 L422.95,291.31 L423.36,291.14 L423.78,291.15 L424.20,291.05 L424.62,290.91 L425.03,290.89 L425.45,290.62 L425.87,290.52 L426.28,290.18 L426.70,289.95 L427.12,289.61 L427.53,289.37 L427.95,289.40 L428.00,289.36 L428.37,289.34 L428.78,289.68 L429.20,289.84 L429.62,290.17 L430.03,290.51 L430.45,290.68 L430.87,290.73 L431.29,291.04 L431.70,290.99 L432.12,291.08 L432.54,291.24 L432.95,291.21 L433.37,291.25 L433.79,291.24 L434.20,291.27 L434.62,291.40 L435.04,291.35 L435.45,291.45 L435.87,291.42 L436.29,291.45 L436.70,291.57 L437.12,291.49 L437.54,291.52 L437.96,291.59 L438.37,291.46 L438.79,291.46 L439.21,291.62 L439.62,291.61 L440.04,291.51 L440.46,291.50 L440.87,291.62 L441.29,291.67 L441.71,291.52 L442.12,291.68 L442.54,291.67 L442.96,291.62 L443.37,291.59 L443.79,291.54 L444.21,291.53 L444.62,291.72 L445.04,291.58 L445.46,291.68 L445.88,291.59 L446.29,291.71 L446.71,291.67 L447.13,291.61 L447.54,291.60 L447.96,291.71 L448.38,291.58 L448.79,291.62 L449.21,291.69 L449.63,291.75 L450.04,291.71 L450.46,291.65 L450.88,291.78 L451.30,291.64 L451.71,291.61 L452.13,291.66 L452.55,291.70 L452.96,291.63 L453.38,291.66 L453.80,291.70 L454.21,291.75 L454.63,291.66 L455.05,291.71 L455.46,291.82 L455.88,291.84 L456.30,291.78 L456.71,291.79 L457.13,291.78 L457.55,291.69 L457.97,291.67 L458.38,291.68 L458.80,291.86 L459.22,291.82 L459.63,291.88 L460.05,291.69 L460.47,291.82 L460.88,291.79 L461.30,291.85" fill="none" stroke="#a6d4f2" stroke-width="1.2" stroke-linejoin="round"/><path d="M394.60,286.40 L395.02,286.39 L395.43,286.34 L395.85,286.18 L396.27,286.10 L396.68,286.13 L397.10,286.05 L397.52,286.11 L397.94,286.03 L398.35,285.96 L398.77,285.90 L399.19,285.87 L399.60,285.71 L400.02,285.71 L400.44,285.60 L400.85,285.70 L401.27,285.47 L401.69,285.57 L402.10,285.36 L402.52,285.42 L402.94,285.30 L403.35,285.25 L403.77,285.28 L404.19,285.05 L404.61,285.00 L405.02,285.10 L405.44,284.96 L405.86,284.81 L406.27,284.92 L406.69,284.85 L407.11,284.61 L407.52,284.60 L407.94,284.47 L408.36,284.43 L408.77,284.42 L409.19,284.25 L409.61,284.27 L410.02,284.06 L410.44,284.00 L410.86,284.04 L411.28,283.86 L411.69,283.77 L412.11,283.71 L412.53,283.58 L412.94,283.45 L413.36,283.26 L413.78,283.28 L414.19,283.20 L414.61,283.06 L415.03,282.86 L415.44,282.64 L415.86,282.48 L416.28,282.36 L416.69,282.17 L417.11,281.84 L417.53,281.64 L417.94,281.41 L418.36,281.17 L418.78,280.92 L419.20,280.52 L419.61,280.04 L420.03,279.77 L420.45,279.20 L420.86,278.66 L421.28,277.96 L421.70,277.25 L422.11,276.36 L422.53,275.40 L422.95,274.03 L423.36,272.63 L423.78,270.74 L424.20,268.64 L424.62,265.78 L425.03,262.47 L425.45,258.35 L425.87,253.40 L426.28,247.39 L426.70,240.96 L427.12,234.52 L427.53,229.52 L427.95,227.33 L428.00,227.39 L428.37,228.72 L428.78,233.29 L429.20,239.32 L429.62,246.04 L430.03,252.01 L430.45,257.20 L430.87,261.65 L431.29,265.21 L431.70,267.90 L432.12,270.27 L432.54,272.27 L432.95,273.74 L433.37,275.02 L433.79,276.05 L434.20,276.97 L434.62,277.87 L435.04,278.61 L435.45,279.19 L435.87,279.60 L436.29,279.94 L436.70,280.40 L437.12,280.84 L437.54,281.16 L437.96,281.41 L438.37,281.58 L438.79,281.87 L439.21,282.08 L439.62,282.30 L440.04,282.41 L440.46,282.72 L440.87,282.87 L441.29,282.87 L441.71,283.03 L442.12,283.28 L442.54,283.28 L442.96,283.53 L443.37,283.56 L443.79,283.70 L444.21,283.80 L444.62,283.80 L445.04,283.91 L445.46,283.99 L445.88,284.17 L446.29,284.25 L446.71,284.22 L447.13,284.45 L447.54,284.44 L447.96,284.48 L448.38,284.59 L448.79,284.77 L449.21,284.75 L449.63,284.83 L450.04,284.96 L450.46,285.03 L450.88,285.06 L451.30,285.05 L451.71,285.15 L452.13,285.27 L452.55,285.31 L452.96,285.33 L453.38,285.34 L453.80,285.40 L454.21,285.54 L454.63,285.56 L455.05,285.51 L455.46,285.70 L455.88,285.79 L456.30,285.83 L456.71,285.90 L457.13,285.96 L457.55,285.94 L457.97,286.04 L458.38,286.01 L458.80,286.01 L459.22,286.11 L459.63,286.15 L460.05,286.33 L460.47,286.33 L460.88,286.35 L461.30,286.42" fill="none" stroke="#4a92dc" stroke-width="1.1" stroke-linejoin="round"/></g><rect x="394.6" y="227.6" width="66.69999999999999" height="66.79999999999998" fill="none" stroke="#333" stroke-width="0.8"/><line x1="393.1" y1="232.4" x2="394.6" y2="232.4" stroke="#333" stroke-width="0.5"/><text transform="translate(391.6,232.4) rotate(-90)" text-anchor="middle" font-family="Liberation Sans, Arial, sans-serif" font-size="4" fill="#333">0.10</text><line x1="393.1" y1="247.6" x2="394.6" y2="247.6" stroke="#333" stroke-width="0.5"/><text transform="translate(391.6,247.6) rotate(-90)" text-anchor="middle" font-family="Liberation Sans, Arial, sans-serif" font-size="4" fill="#333">0.08</text><line x1="393.1" y1="262.9" x2="394.6" y2="262.9" stroke="#333" stroke-width="0.5"/><text transform="translate(391.6,262.9) rotate(-90)" text-anchor="middle" font-family="Liberation Sans, Arial, sans-serif" font-size="4" fill="#333">0.06</text><line x1="393.1" y1="281" x2="394.6" y2="281" stroke="#333" stroke-width="0.5"/><text transform="translate(391.6,281) rotate(-90)" text-anchor="middle" font-family="Liberation Sans, Arial, sans-serif" font-size="4" fill="#333">0.04</text><text transform="translate(385.3,259.8) rotate(-90)" text-anchor="middle" font-family="Liberation Sans, Arial, sans-serif" font-size="5.8" fill="#333">RYBP enrichment</text><line x1="394.6" y1="294.4" x2="394.6" y2="295.7" stroke="#333" stroke-width="0.5"/><line x1="427.95000000000005" y1="294.4" x2="427.95000000000005" y2="295.7" stroke="#333" stroke-width="0.5"/><line x1="461.3" y1="294.4" x2="461.3" y2="295.7" stroke="#333" stroke-width="0.5"/><text x="399.2" y="299.59999999999997" text-anchor="middle" font-family="Liberation Sans, Arial, sans-serif" font-size="4.8" fill="#222">-10 kb</text><text x="429" y="299.59999999999997" text-anchor="middle" font-family="Liberation Sans, Arial, sans-serif" font-size="4.8" fill="#222">Peak center</text><text x="458" y="299.59999999999997" text-anchor="middle" font-family="Liberation Sans, Arial, sans-serif" font-size="4.8" fill="#222">+10 kb</text><rect x="444" y="229.2" width="4" height="2" fill="#2a70c8"/><text x="448.8" y="231.5" font-family="Liberation Sans, Arial, sans-serif" font-size="3.9" fill="#333">Control</text><rect x="444" y="233.39999999999998" width="4" height="2" fill="#8cc4ec"/><text x="448.8" y="235.7" font-family="Liberation Sans, Arial, sans-serif" font-size="3.9" fill="#333">RKO</text>
<text x="2" y="340.5" font-family="Liberation Sans, Arial, sans-serif" font-weight="bold" font-size="13">G</text>
<text x="54" y="351" font-family="Liberation Sans, Arial, sans-serif" font-weight="bold" font-size="5.8" fill="#111">CGIs</text>
<text x="67.3" y="363.30" text-anchor="end" font-family="Liberation Sans, Arial, sans-serif" font-size="5.7" fill="#222">Con1</text>
<text x="67.3" y="373.33" text-anchor="end" font-family="Liberation Sans, Arial, sans-serif" font-size="5.7" fill="#222">Con2</text>
<text x="67.3" y="383.36" text-anchor="end" font-family="Liberation Sans, Arial, sans-serif" font-size="5.7" fill="#222">Con3</text>
<text x="67.3" y="393.39" text-anchor="end" font-family="Liberation Sans, Arial, sans-serif" font-size="5.7" fill="#222">RKO1</text>
<text x="67.3" y="403.42" text-anchor="end" font-family="Liberation Sans, Arial, sans-serif" font-size="5.7" fill="#222">RKO2</text>
<text x="67.3" y="413.45" text-anchor="end" font-family="Liberation Sans, Arial, sans-serif" font-size="5.7" fill="#222">Con1</text>
<text x="67.3" y="423.48" text-anchor="end" font-family="Liberation Sans, Arial, sans-serif" font-size="5.7" fill="#222">Con2</text>
<text x="67.3" y="433.51" text-anchor="end" font-family="Liberation Sans, Arial, sans-serif" font-size="5.7" fill="#222">Con3</text>
<text x="67.3" y="443.54" text-anchor="end" font-family="Liberation Sans, Arial, sans-serif" font-size="5.7" fill="#222">RKO1</text>
<text x="67.3" y="453.57" text-anchor="end" font-family="Liberation Sans, Arial, sans-serif" font-size="5.7" fill="#222">RKO2</text>
<text x="67.3" y="463.60" text-anchor="end" font-family="Liberation Sans, Arial, sans-serif" font-size="5.7" fill="#222">Con1</text>
<text x="67.3" y="473.63" text-anchor="end" font-family="Liberation Sans, Arial, sans-serif" font-size="5.7" fill="#222">Con2</text>
<text x="67.3" y="483.66" text-anchor="end" font-family="Liberation Sans, Arial, sans-serif" font-size="5.7" fill="#222">Con3</text>
<text x="67.3" y="493.69" text-anchor="end" font-family="Liberation Sans, Arial, sans-serif" font-size="5.7" fill="#222">RKO1</text>
<text x="67.3" y="503.72" text-anchor="end" font-family="Liberation Sans, Arial, sans-serif" font-size="5.7" fill="#222">RKO2</text>
<text transform="translate(37,380.8) rotate(-90)" text-anchor="middle" font-family="Liberation Sans, Arial, sans-serif" font-weight="bold" font-size="5.9" fill="#222">RYBP</text>
<text transform="translate(43.4,380.8) rotate(-90)" text-anchor="middle" font-family="Liberation Sans, Arial, sans-serif" font-weight="bold" font-size="5.9" fill="#222">ChIP-seq</text>
<line x1="48.6" y1="359.7" x2="48.6" y2="403.3" stroke="#666" stroke-width="0.7"/>
<text transform="translate(37,430.9) rotate(-90)" text-anchor="middle" font-family="Liberation Sans, Arial, sans-serif" font-weight="bold" font-size="5.9" fill="#222">H2AK119ub1</text>
<text transform="translate(43.4,430.9) rotate(-90)" text-anchor="middle" font-family="Liberation Sans, Arial, sans-serif" font-weight="bold" font-size="5.9" fill="#222">ChIP-seq</text>
<line x1="48.6" y1="409.8" x2="48.6" y2="453.5" stroke="#666" stroke-width="0.7"/>
<text transform="translate(37,481.1) rotate(-90)" text-anchor="middle" font-family="Liberation Sans, Arial, sans-serif" font-weight="bold" font-size="5.9" fill="#222">H3K27me3</text>
<text transform="translate(43.4,481.1) rotate(-90)" text-anchor="middle" font-family="Liberation Sans, Arial, sans-serif" font-weight="bold" font-size="5.9" fill="#222">ChIP-seq</text>
<line x1="48.6" y1="460.0" x2="48.6" y2="503.6" stroke="#666" stroke-width="0.7"/>
<path d="M72.0,364.2 L72.0,361.3 L72.6,362.0 L73.2,357.2 L73.8,357.2 L74.4,357.5 L75.0,357.9 L75.6,361.1 L76.2,362.3 L76.8,363.0 L77.4,363.3 L78.0,363.8 L78.6,362.5 L79.2,363.6 L79.8,363.9 L80.4,364.0 L81.0,363.4 L81.6,363.7 L82.2,363.7 L82.8,363.8 L83.4,363.6 L84.0,363.7 L84.6,363.9 L85.2,363.8 L85.8,363.8 L86.4,364.0 L87.0,363.3 L87.6,363.4 L88.2,363.4 L88.8,363.0 L89.4,363.5 L90.0,363.5 L90.6,363.4 L91.2,363.4 L91.8,362.8 L92.4,363.6 L93.0,363.2 L93.6,362.9 L94.2,363.2 L94.8,363.7 L95.4,362.6 L96.0,363.5 L96.6,363.0 L97.2,363.5 L97.8,363.8 L98.4,363.7 L99.0,363.8 L99.6,363.8 L100.2,363.2 L100.8,363.2 L101.4,363.6 L102.0,363.5 L102.6,363.5 L103.2,363.4 L103.8,362.4 L104.4,363.3 L105.0,362.1 L105.6,362.5 L106.2,362.6 L106.8,363.6 L107.4,363.7 L108.0,363.8 L108.6,363.5 L109.2,361.0 L109.8,361.2 L110.4,361.4 L111.0,363.2 L111.6,362.5 L112.2,362.2 L112.8,362.0 L113.4,362.0 L114.0,363.3 L114.6,363.6 L115.2,362.6 L115.8,362.6 L116.4,362.1 L117.0,363.2 L117.6,362.6 L118.2,363.6 L118.8,362.6 L119.4,362.8 L120.0,363.6 L120.6,363.9 L121.2,363.7 L121.8,363.5 L122.4,363.6 L123.0,363.8 L123.6,363.7 L124.2,362.4 L124.8,363.4 L125.4,361.2 L126.0,362.9 L126.6,363.4 L127.2,363.6 L127.8,359.8 L128.4,360.5 L129.0,362.6 L129.6,363.5 L130.2,362.8 L130.8,361.6 L131.4,363.3 L132.0,363.0 L132.6,362.3 L133.2,363.2 L133.8,363.4 L134.4,363.2 L135.0,363.7 L135.6,363.8 L136.2,363.6 L136.8,363.6 L137.4,363.6 L138.0,363.8 L138.6,362.8 L139.2,363.6 L139.8,363.5 L140.4,363.0 L141.0,363.6 L141.6,363.9 L142.2,363.9 L142.8,363.9 L143.4,363.8 L144.0,363.8 L144.6,363.5 L145.2,363.4 L145.8,363.1 L146.4,362.5 L147.0,362.3 L147.6,362.2 L148.2,362.9 L148.8,362.4 L149.4,362.6 L150.0,363.3 L150.6,362.8 L151.2,363.1 L151.8,362.4 L152.4,362.0 L153.0,363.1 L153.6,363.1 L154.2,363.1 L154.8,363.3 L155.4,363.7 L156.0,363.8 L156.6,360.3 L157.2,361.1 L157.8,361.7 L158.4,360.0 L159.0,361.4 L159.6,358.4 L160.2,357.2 L160.8,357.2 L161.4,358.5 L162.0,357.2 L162.6,357.2 L163.2,359.7 L163.8,360.2 L164.4,360.3 L165.0,361.9 L165.6,360.6 L166.2,362.3 L166.8,359.8 L167.4,358.3 L168.0,362.2 L168.6,362.0 L169.2,363.4 L169.8,363.5 L170.4,363.4 L171.0,362.3 L171.6,361.7 L172.2,362.6 L172.8,361.1 L173.4,362.6 L174.0,360.6 L174.6,361.5 L175.2,362.2 L175.8,362.5 L176.4,362.6 L177.0,359.6 L177.6,362.3 L178.2,362.7 L178.8,362.9 L179.4,363.2 L180.0,361.8 L180.6,362.5 L181.2,363.2 L181.8,362.9 L182.4,363.5 L183.0,363.9 L183.6,363.9 L184.2,363.7 L184.8,363.4 L185.4,362.9 L186.0,363.5 L186.6,363.8 L187.2,363.6 L187.8,362.8 L188.4,363.6 L189.0,362.8 L189.6,362.8 L190.2,363.4 L190.8,363.6 L191.4,363.9 L192.0,364.0 L192.6,364.0 L193.2,363.7 L193.8,363.4 L194.4,361.8 L195.0,363.1 L195.6,361.7 L196.2,363.1 L196.8,363.6 L197.4,363.7 L198.0,363.4 L198.6,362.6 L199.2,357.2 L199.8,361.5 L200.4,362.7 L201.0,361.2 L201.6,362.1 L202.2,361.8 L202.8,362.8 L203.4,359.8 L204.0,358.0 L204.6,359.6 L205.2,357.5 L205.8,361.4 L206.4,363.0 L207.0,362.8 L207.6,359.7 L208.2,361.7 L208.8,362.9 L209.4,363.2 L210.0,363.1 L210.6,362.3 L211.2,358.4 L211.8,358.6 L212.4,360.1 L213.0,360.3 L213.6,362.4 L214.2,360.7 L214.8,362.5 L215.4,362.1 L216.0,363.2 L216.6,360.3 L217.2,362.7 L217.8,362.5 L218.4,362.6 L219.0,363.3 L219.6,363.4 L220.2,363.7 L220.8,363.3 L221.4,362.7 L222.0,363.3 L222.6,362.2 L223.2,362.8 L223.8,363.7 L224.4,363.5 L225.0,363.9 L225.6,363.6 L226.2,363.6 L226.8,362.4 L227.4,363.5 L228.0,360.9 L228.6,363.1 L229.2,363.6 L229.8,363.8 L230.4,363.7 L231.0,360.4 L231.6,361.9 L232.2,362.5 L232.8,363.6 L233.4,363.5 L234.0,363.2 L234.6,363.3 L235.2,363.7 L235.8,362.5 L236.4,363.1 L237.0,363.3 L237.6,363.7 L238.2,363.8 L238.8,363.4 L239.4,363.6 L240.0,363.7 L240.6,362.9 L241.2,363.5 L241.8,363.1 L242.4,363.8 L243.0,363.7 L243.6,362.6 L244.2,363.5 L244.8,361.9 L245.4,362.7 L246.0,361.8 L246.6,361.5 L247.2,362.8 L247.8,358.5 L248.4,361.9 L249.0,363.0 L249.6,362.8 L250.2,363.5 L250.8,363.4 L251.4,359.8 L252.0,362.0 L252.6,360.2 L253.2,357.2 L253.8,359.2 L254.4,357.7 L255.0,358.7 L255.6,362.7 L255.6,364.2 Z" fill="#1f7fdc"/>
<line x1="72" y1="364.20" x2="255.6" y2="364.20" stroke="#1f7fdc" stroke-width="0.7"/>
<path d="M264.0,364.2 L264.0,364.0 L264.6,363.6 L265.2,363.9 L265.8,363.5 L266.4,363.5 L267.0,363.7 L267.6,363.2 L268.2,363.0 L268.8,363.6 L269.4,362.9 L270.0,362.4 L270.6,362.5 L271.2,360.7 L271.8,361.2 L272.4,362.5 L273.0,363.1 L273.6,363.4 L274.2,361.7 L274.8,362.0 L275.4,362.5 L276.0,363.0 L276.6,363.3 L277.2,363.8 L277.8,363.7 L278.4,363.9 L279.0,363.6 L279.6,363.5 L280.2,363.5 L280.8,363.8 L281.4,364.0 L282.0,363.9 L282.6,363.2 L283.2,363.2 L283.8,362.5 L284.4,363.0 L285.0,363.1 L285.6,361.3 L286.2,363.0 L286.8,363.4 L287.4,362.9 L288.0,362.7 L288.6,363.2 L289.2,363.2 L289.8,363.5 L290.4,363.5 L291.0,363.0 L291.6,363.1 L292.2,363.4 L292.8,363.6 L293.4,362.7 L294.0,363.5 L294.6,362.6 L295.2,360.3 L295.8,360.6 L296.4,361.8 L297.0,359.9 L297.6,360.3 L298.2,357.2 L298.8,359.0 L299.4,360.2 L300.0,357.2 L300.6,358.6 L301.2,360.8 L301.8,357.2 L302.4,357.2 L303.0,360.8 L303.6,362.7 L304.2,359.8 L304.8,359.4 L305.4,362.2 L306.0,363.5 L306.6,363.4 L307.2,362.7 L307.8,363.6 L308.4,363.5 L309.0,362.9 L309.6,363.4 L310.2,363.2 L310.8,363.5 L311.4,363.0 L312.0,363.3 L312.6,363.6 L313.2,363.2 L313.8,363.5 L314.4,363.7 L315.0,363.7 L315.6,363.6 L316.2,363.8 L316.8,363.4 L317.4,363.7 L318.0,363.8 L318.6,363.9 L319.2,363.9 L319.8,363.4 L320.4,363.8 L321.0,363.7 L321.6,363.3 L322.2,362.8 L322.8,363.2 L323.4,361.9 L324.0,362.3 L324.6,363.1 L325.2,363.5 L325.8,363.5 L326.4,361.6 L327.0,362.6 L327.6,361.1 L328.2,358.7 L328.8,359.4 L329.4,362.0 L330.0,363.4 L330.6,363.4 L331.2,363.6 L331.8,363.3 L332.4,363.4 L333.0,362.8 L333.6,363.2 L334.2,362.5 L334.8,363.2 L335.4,363.6 L336.0,363.2 L336.6,363.6 L337.2,362.6 L337.8,362.4 L338.4,361.6 L339.0,363.2 L339.6,363.5 L340.2,360.7 L340.8,362.9 L341.4,363.1 L342.0,362.8 L342.6,363.1 L343.2,362.2 L343.8,361.9 L344.4,363.3 L345.0,363.8 L345.6,363.0 L346.2,363.5 L346.8,363.8 L347.4,363.9 L348.0,363.9 L348.6,363.1 L349.2,363.4 L349.8,362.9 L350.4,360.8 L351.0,362.3 L351.6,360.0 L352.2,362.8 L352.8,362.0 L353.4,361.8 L354.0,360.0 L354.6,362.9 L355.2,363.0 L355.8,363.0 L356.4,363.1 L357.0,363.6 L357.6,363.8 L358.2,363.0 L358.8,362.9 L359.4,363.3 L360.0,362.5 L360.6,363.3 L361.2,363.8 L361.8,363.5 L362.4,363.9 L363.0,363.4 L363.6,363.5 L364.2,363.6 L364.8,363.5 L365.4,363.5 L366.0,363.1 L366.6,357.2 L367.2,361.0 L367.8,358.5 L368.4,361.6 L369.0,361.2 L369.6,360.3 L370.2,360.9 L370.8,357.2 L371.4,359.2 L372.0,360.0 L372.6,361.8 L373.2,362.8 L373.8,362.2 L374.4,363.4 L375.0,363.6 L375.6,363.5 L376.2,363.9 L376.8,364.0 L377.4,363.6 L378.0,361.8 L378.6,363.5 L379.2,363.7 L379.8,361.8 L380.4,362.7 L381.0,361.8 L381.6,363.2 L382.2,362.3 L382.8,363.6 L383.4,363.7 L384.0,363.2 L384.6,363.6 L385.2,363.7 L385.8,363.7 L386.4,363.3 L387.0,361.0 L387.6,357.2 L388.2,361.2 L388.8,362.1 L389.4,359.8 L390.0,359.9 L390.6,359.7 L391.2,361.1 L391.8,361.2 L392.4,359.8 L393.0,359.7 L393.6,361.1 L394.2,362.2 L394.8,357.2 L395.4,357.2 L396.0,357.2 L396.6,359.5 L397.2,359.1 L397.8,359.3 L398.4,362.8 L399.0,363.7 L399.6,363.9 L400.2,363.9 L400.8,363.5 L401.4,362.4 L402.0,361.4 L402.6,361.4 L403.2,357.2 L403.8,357.2 L404.4,360.3 L405.0,357.4 L405.6,359.2 L406.2,361.8 L406.8,361.1 L407.4,362.5 L408.0,362.1 L408.6,359.6 L409.2,362.5 L409.8,361.8 L410.4,362.1 L411.0,362.7 L411.6,363.4 L412.2,362.9 L412.8,363.4 L413.4,363.9 L414.0,363.8 L414.6,363.5 L415.2,363.9 L415.8,363.4 L416.4,363.9 L417.0,363.7 L417.6,363.8 L418.2,363.2 L418.8,362.9 L419.4,363.2 L420.0,363.7 L420.6,363.8 L421.2,362.9 L421.8,363.1 L422.4,362.7 L423.0,362.2 L423.6,363.2 L424.2,363.1 L424.8,360.2 L425.4,362.5 L426.0,361.9 L426.6,363.3 L427.2,363.9 L427.8,363.7 L428.4,363.8 L429.0,363.6 L429.6,363.3 L430.2,363.9 L430.8,363.7 L431.4,363.8 L432.0,363.0 L432.6,363.0 L433.2,362.9 L433.8,363.2 L434.4,363.7 L435.0,363.6 L435.6,363.6 L436.2,363.8 L436.8,363.8 L437.4,363.1 L438.0,361.2 L438.6,362.8 L439.2,362.9 L439.8,363.2 L440.4,362.8 L441.0,362.6 L441.6,363.2 L442.2,361.7 L442.8,362.4 L443.4,360.6 L444.0,362.5 L444.6,361.4 L445.2,358.0 L445.8,362.1 L446.4,363.1 L447.0,362.3 L447.6,363.4 L448.2,363.5 L448.8,363.5 L449.4,360.9 L450.0,362.2 L450.6,359.1 L451.2,360.7 L451.8,362.4 L452.4,357.2 L453.0,357.2 L453.6,359.1 L454.2,360.9 L454.8,361.0 L455.4,359.9 L456.0,362.9 L456.6,363.7 L457.2,362.9 L457.8,363.1 L458.4,358.2 L459.0,359.7 L459.6,361.5 L460.2,362.8 L460.8,361.7 L461.4,361.4 L462.0,361.4 L462.6,360.3 L463.2,361.6 L463.8,359.3 L464.4,361.1 L465.0,362.8 L465.6,361.3 L466.2,363.0 L466.8,362.2 L467.4,361.1 L468.0,362.8 L468.6,363.1 L469.2,361.5 L469.8,362.0 L470.4,362.4 L471.0,361.1 L471.6,362.5 L472.2,363.3 L472.8,363.2 L473.4,363.0 L473.4,364.2 Z" fill="#1f7fdc"/>
<line x1="264" y1="364.20" x2="473.4" y2="364.20" stroke="#1f7fdc" stroke-width="0.7"/>
<text x="72.5" y="357.30" font-family="Liberation Sans, Arial, sans-serif" font-size="2.6" fill="#1f7fdc">[0-100]</text>
<text x="264.5" y="357.30" font-family="Liberation Sans, Arial, sans-serif" font-size="2.6" fill="#1f7fdc">[0-100]</text>
<path d="M72.0,374.2 L72.0,367.2 L72.6,369.1 L73.2,367.8 L73.8,367.2 L74.4,370.7 L75.0,372.3 L75.6,370.4 L76.2,372.4 L76.8,372.9 L77.4,372.9 L78.0,373.0 L78.6,373.8 L79.2,374.0 L79.8,374.0 L80.4,373.4 L81.0,373.9 L81.6,373.9 L82.2,374.0 L82.8,374.0 L83.4,373.8 L84.0,373.9 L84.6,373.8 L85.2,373.5 L85.8,373.4 L86.4,373.7 L87.0,373.4 L87.6,373.6 L88.2,373.3 L88.8,373.8 L89.4,373.7 L90.0,373.4 L90.6,371.7 L91.2,372.6 L91.8,373.1 L92.4,373.5 L93.0,373.5 L93.6,373.6 L94.2,369.7 L94.8,370.7 L95.4,370.9 L96.0,372.4 L96.6,372.4 L97.2,373.2 L97.8,373.2 L98.4,373.6 L99.0,373.5 L99.6,373.7 L100.2,373.9 L100.8,372.8 L101.4,373.7 L102.0,373.3 L102.6,373.2 L103.2,373.8 L103.8,373.5 L104.4,369.9 L105.0,369.7 L105.6,372.2 L106.2,372.3 L106.8,372.5 L107.4,373.3 L108.0,373.1 L108.6,372.9 L109.2,373.2 L109.8,372.2 L110.4,373.0 L111.0,372.4 L111.6,373.5 L112.2,373.3 L112.8,373.7 L113.4,373.0 L114.0,372.0 L114.6,372.9 L115.2,373.1 L115.8,373.1 L116.4,373.6 L117.0,373.6 L117.6,373.5 L118.2,373.5 L118.8,373.8 L119.4,373.8 L120.0,373.9 L120.6,373.7 L121.2,373.6 L121.8,373.8 L122.4,373.4 L123.0,372.6 L123.6,373.1 L124.2,370.6 L124.8,372.8 L125.4,371.4 L126.0,373.1 L126.6,373.3 L127.2,372.1 L127.8,373.4 L128.4,372.9 L129.0,371.7 L129.6,370.6 L130.2,372.1 L130.8,373.1 L131.4,373.4 L132.0,373.1 L132.6,373.7 L133.2,373.9 L133.8,373.0 L134.4,373.4 L135.0,373.9 L135.6,373.8 L136.2,373.9 L136.8,373.2 L137.4,373.7 L138.0,373.5 L138.6,373.4 L139.2,373.8 L139.8,373.9 L140.4,373.8 L141.0,373.8 L141.6,373.7 L142.2,373.8 L142.8,373.0 L143.4,373.4 L144.0,373.7 L144.6,372.6 L145.2,371.6 L145.8,372.3 L146.4,372.7 L147.0,371.5 L147.6,370.5 L148.2,373.0 L148.8,372.9 L149.4,373.6 L150.0,373.4 L150.6,373.4 L151.2,373.1 L151.8,372.5 L152.4,371.5 L153.0,373.0 L153.6,373.7 L154.2,367.3 L154.8,370.9 L155.4,372.5 L156.0,373.5 L156.6,373.8 L157.2,370.5 L157.8,371.3 L158.4,367.9 L159.0,367.4 L159.6,367.2 L160.2,367.2 L160.8,370.3 L161.4,371.4 L162.0,370.7 L162.6,367.9 L163.2,367.2 L163.8,367.2 L164.4,368.7 L165.0,370.8 L165.6,372.3 L166.2,370.5 L166.8,370.3 L167.4,371.2 L168.0,370.8 L168.6,368.6 L169.2,371.6 L169.8,373.4 L170.4,373.8 L171.0,373.6 L171.6,372.6 L172.2,373.0 L172.8,369.1 L173.4,371.3 L174.0,370.1 L174.6,372.5 L175.2,372.5 L175.8,373.2 L176.4,370.0 L177.0,371.0 L177.6,367.2 L178.2,370.0 L178.8,372.0 L179.4,372.6 L180.0,372.9 L180.6,373.5 L181.2,373.9 L181.8,373.6 L182.4,373.8 L183.0,373.8 L183.6,373.5 L184.2,373.8 L184.8,373.8 L185.4,373.9 L186.0,373.9 L186.6,373.6 L187.2,373.9 L187.8,373.9 L188.4,374.0 L189.0,373.6 L189.6,373.8 L190.2,372.7 L190.8,373.5 L191.4,373.5 L192.0,373.7 L192.6,373.3 L193.2,373.4 L193.8,373.5 L194.4,373.9 L195.0,374.0 L195.6,373.5 L196.2,373.6 L196.8,370.8 L197.4,372.1 L198.0,371.4 L198.6,371.4 L199.2,368.6 L199.8,370.8 L200.4,368.6 L201.0,371.5 L201.6,372.6 L202.2,373.2 L202.8,373.0 L203.4,369.5 L204.0,370.7 L204.6,372.8 L205.2,373.4 L205.8,372.5 L206.4,372.1 L207.0,372.6 L207.6,373.4 L208.2,373.2 L208.8,370.7 L209.4,370.8 L210.0,369.9 L210.6,372.1 L211.2,371.3 L211.8,372.7 L212.4,372.9 L213.0,368.4 L213.6,372.0 L214.2,372.7 L214.8,373.0 L215.4,370.3 L216.0,371.1 L216.6,371.8 L217.2,370.9 L217.8,372.5 L218.4,371.5 L219.0,372.8 L219.6,373.6 L220.2,373.9 L220.8,373.7 L221.4,373.8 L222.0,373.4 L222.6,373.5 L223.2,373.4 L223.8,373.6 L224.4,373.8 L225.0,373.5 L225.6,372.4 L226.2,373.1 L226.8,372.9 L227.4,373.4 L228.0,373.7 L228.6,373.3 L229.2,372.9 L229.8,372.4 L230.4,373.0 L231.0,373.1 L231.6,373.7 L232.2,374.0 L232.8,374.0 L233.4,373.9 L234.0,373.9 L234.6,374.0 L235.2,373.9 L235.8,373.9 L236.4,373.4 L237.0,372.8 L237.6,371.7 L238.2,373.0 L238.8,373.8 L239.4,373.9 L240.0,371.3 L240.6,372.9 L241.2,373.0 L241.8,373.7 L242.4,373.9 L243.0,374.0 L243.6,373.3 L244.2,373.2 L244.8,372.7 L245.4,373.3 L246.0,373.5 L246.6,372.8 L247.2,369.2 L247.8,370.8 L248.4,371.7 L249.0,373.1 L249.6,372.9 L250.2,373.2 L250.8,371.9 L251.4,371.8 L252.0,368.2 L252.6,370.9 L253.2,368.4 L253.8,372.0 L254.4,372.6 L255.0,370.5 L255.6,372.4 L255.6,374.2 Z" fill="#1f7fdc"/>
<line x1="72" y1="374.23" x2="255.6" y2="374.23" stroke="#1f7fdc" stroke-width="0.7"/>
<path d="M264.0,374.2 L264.0,372.8 L264.6,373.0 L265.2,373.3 L265.8,373.8 L266.4,373.9 L267.0,373.5 L267.6,372.7 L268.2,373.6 L268.8,373.7 L269.4,371.4 L270.0,373.1 L270.6,372.4 L271.2,373.0 L271.8,372.3 L272.4,371.0 L273.0,372.0 L273.6,372.8 L274.2,373.1 L274.8,372.7 L275.4,372.7 L276.0,373.2 L276.6,373.4 L277.2,373.6 L277.8,373.9 L278.4,374.0 L279.0,373.7 L279.6,374.0 L280.2,373.7 L280.8,373.4 L281.4,373.2 L282.0,373.8 L282.6,373.6 L283.2,371.9 L283.8,373.1 L284.4,369.4 L285.0,372.6 L285.6,371.8 L286.2,373.3 L286.8,372.7 L287.4,372.1 L288.0,372.8 L288.6,372.9 L289.2,372.1 L289.8,370.7 L290.4,373.2 L291.0,373.6 L291.6,373.9 L292.2,373.9 L292.8,374.0 L293.4,374.0 L294.0,373.7 L294.6,373.7 L295.2,373.5 L295.8,373.6 L296.4,370.2 L297.0,372.1 L297.6,372.9 L298.2,370.9 L298.8,369.6 L299.4,369.9 L300.0,370.5 L300.6,370.7 L301.2,369.5 L301.8,371.5 L302.4,368.7 L303.0,369.7 L303.6,368.7 L304.2,368.5 L304.8,369.8 L305.4,372.1 L306.0,373.3 L306.6,373.4 L307.2,373.6 L307.8,374.0 L308.4,372.5 L309.0,373.4 L309.6,373.2 L310.2,373.1 L310.8,373.6 L311.4,372.9 L312.0,372.7 L312.6,371.8 L313.2,372.4 L313.8,373.2 L314.4,373.0 L315.0,371.2 L315.6,372.7 L316.2,373.0 L316.8,373.8 L317.4,373.6 L318.0,373.9 L318.6,374.0 L319.2,373.9 L319.8,374.0 L320.4,374.0 L321.0,374.0 L321.6,374.0 L322.2,373.9 L322.8,372.7 L323.4,373.5 L324.0,373.6 L324.6,373.7 L325.2,373.0 L325.8,373.3 L326.4,372.7 L327.0,373.2 L327.6,373.4 L328.2,372.9 L328.8,373.5 L329.4,371.4 L330.0,372.4 L330.6,373.1 L331.2,373.1 L331.8,372.2 L332.4,373.4 L333.0,373.7 L333.6,373.9 L334.2,373.9 L334.8,373.4 L335.4,373.6 L336.0,373.8 L336.6,372.5 L337.2,373.5 L337.8,373.5 L338.4,372.5 L339.0,371.2 L339.6,372.6 L340.2,373.6 L340.8,373.0 L341.4,373.2 L342.0,373.7 L342.6,373.6 L343.2,372.4 L343.8,373.6 L344.4,373.9 L345.0,374.0 L345.6,373.4 L346.2,373.8 L346.8,373.6 L347.4,373.3 L348.0,373.8 L348.6,373.4 L349.2,373.7 L349.8,372.3 L350.4,372.8 L351.0,373.1 L351.6,371.9 L352.2,371.5 L352.8,373.2 L353.4,373.6 L354.0,373.4 L354.6,373.4 L355.2,373.3 L355.8,373.4 L356.4,371.6 L357.0,373.0 L357.6,372.5 L358.2,373.3 L358.8,373.8 L359.4,373.7 L360.0,373.9 L360.6,373.7 L361.2,373.9 L361.8,373.0 L362.4,373.7 L363.0,373.1 L363.6,373.7 L364.2,373.7 L364.8,373.4 L365.4,370.7 L366.0,369.6 L366.6,369.9 L367.2,370.9 L367.8,372.6 L368.4,372.4 L369.0,372.8 L369.6,367.2 L370.2,370.5 L370.8,368.4 L371.4,372.0 L372.0,371.9 L372.6,370.5 L373.2,372.4 L373.8,373.4 L374.4,373.0 L375.0,373.7 L375.6,374.0 L376.2,373.6 L376.8,372.2 L377.4,373.3 L378.0,373.9 L378.6,373.8 L379.2,373.7 L379.8,373.9 L380.4,373.8 L381.0,373.5 L381.6,373.5 L382.2,373.2 L382.8,372.7 L383.4,373.5 L384.0,372.4 L384.6,373.6 L385.2,373.7 L385.8,373.5 L386.4,371.2 L387.0,372.2 L387.6,372.3 L388.2,369.0 L388.8,371.2 L389.4,372.9 L390.0,372.3 L390.6,372.8 L391.2,372.1 L391.8,372.2 L392.4,373.2 L393.0,372.3 L393.6,367.2 L394.2,367.2 L394.8,367.2 L395.4,369.3 L396.0,367.2 L396.6,367.2 L397.2,367.3 L397.8,371.3 L398.4,373.0 L399.0,373.8 L399.6,374.0 L400.2,374.1 L400.8,374.1 L401.4,373.4 L402.0,370.4 L402.6,371.7 L403.2,370.7 L403.8,370.5 L404.4,367.4 L405.0,371.4 L405.6,371.6 L406.2,367.7 L406.8,371.2 L407.4,370.4 L408.0,371.7 L408.6,372.7 L409.2,372.9 L409.8,372.6 L410.4,373.4 L411.0,370.4 L411.6,372.4 L412.2,373.2 L412.8,372.8 L413.4,373.8 L414.0,373.4 L414.6,373.7 L415.2,374.0 L415.8,373.9 L416.4,372.3 L417.0,373.6 L417.6,373.8 L418.2,374.0 L418.8,373.7 L419.4,373.9 L420.0,373.3 L420.6,373.7 L421.2,372.3 L421.8,373.4 L422.4,373.6 L423.0,373.8 L423.6,373.8 L424.2,373.6 L424.8,372.9 L425.4,372.9 L426.0,372.6 L426.6,373.5 L427.2,373.6 L427.8,372.3 L428.4,373.5 L429.0,373.8 L429.6,374.0 L430.2,372.7 L430.8,373.3 L431.4,373.6 L432.0,373.7 L432.6,374.0 L433.2,374.0 L433.8,373.6 L434.4,373.9 L435.0,373.7 L435.6,373.1 L436.2,373.8 L436.8,373.8 L437.4,372.9 L438.0,372.3 L438.6,371.3 L439.2,369.9 L439.8,371.5 L440.4,372.8 L441.0,372.3 L441.6,369.0 L442.2,372.2 L442.8,372.7 L443.4,373.1 L444.0,370.4 L444.6,372.8 L445.2,373.3 L445.8,372.7 L446.4,372.5 L447.0,373.5 L447.6,373.4 L448.2,373.0 L448.8,373.0 L449.4,373.4 L450.0,371.6 L450.6,371.3 L451.2,367.2 L451.8,369.5 L452.4,372.4 L453.0,372.9 L453.6,372.8 L454.2,371.3 L454.8,372.6 L455.4,373.3 L456.0,373.8 L456.6,373.9 L457.2,373.6 L457.8,372.6 L458.4,371.2 L459.0,373.0 L459.6,372.3 L460.2,367.4 L460.8,371.2 L461.4,372.8 L462.0,371.6 L462.6,370.1 L463.2,372.7 L463.8,373.3 L464.4,373.0 L465.0,372.9 L465.6,373.5 L466.2,373.7 L466.8,373.6 L467.4,371.1 L468.0,372.1 L468.6,372.9 L469.2,368.4 L469.8,371.8 L470.4,373.0 L471.0,373.3 L471.6,373.6 L472.2,371.0 L472.8,372.7 L473.4,372.2 L473.4,374.2 Z" fill="#1f7fdc"/>
<line x1="264" y1="374.23" x2="473.4" y2="374.23" stroke="#1f7fdc" stroke-width="0.7"/>
<path d="M72.0,384.3 L72.0,378.7 L72.6,380.9 L73.2,377.6 L73.8,377.3 L74.4,379.0 L75.0,377.6 L75.6,380.8 L76.2,382.5 L76.8,383.1 L77.4,383.3 L78.0,383.9 L78.6,383.7 L79.2,383.9 L79.8,384.0 L80.4,383.9 L81.0,383.9 L81.6,383.8 L82.2,383.3 L82.8,383.0 L83.4,383.7 L84.0,382.4 L84.6,383.3 L85.2,382.7 L85.8,383.1 L86.4,383.6 L87.0,383.9 L87.6,383.1 L88.2,381.2 L88.8,383.0 L89.4,383.8 L90.0,382.9 L90.6,382.7 L91.2,382.1 L91.8,380.5 L92.4,380.0 L93.0,381.8 L93.6,383.0 L94.2,383.0 L94.8,383.1 L95.4,382.4 L96.0,382.7 L96.6,382.1 L97.2,382.9 L97.8,383.0 L98.4,381.1 L99.0,382.1 L99.6,381.8 L100.2,382.8 L100.8,383.7 L101.4,383.8 L102.0,383.9 L102.6,383.9 L103.2,383.9 L103.8,383.9 L104.4,383.6 L105.0,382.8 L105.6,382.2 L106.2,380.9 L106.8,382.5 L107.4,383.6 L108.0,383.7 L108.6,383.9 L109.2,382.2 L109.8,383.2 L110.4,382.7 L111.0,383.1 L111.6,383.0 L112.2,382.1 L112.8,382.6 L113.4,383.6 L114.0,383.1 L114.6,383.5 L115.2,381.2 L115.8,383.1 L116.4,383.7 L117.0,382.6 L117.6,383.5 L118.2,383.9 L118.8,383.5 L119.4,383.0 L120.0,383.6 L120.6,383.9 L121.2,383.3 L121.8,383.8 L122.4,383.9 L123.0,384.0 L123.6,382.5 L124.2,383.4 L124.8,383.8 L125.4,383.5 L126.0,382.8 L126.6,378.5 L127.2,382.4 L127.8,382.7 L128.4,383.3 L129.0,382.0 L129.6,382.9 L130.2,382.7 L130.8,382.1 L131.4,382.9 L132.0,383.3 L132.6,383.8 L133.2,383.9 L133.8,383.5 L134.4,383.4 L135.0,383.6 L135.6,384.0 L136.2,383.6 L136.8,383.3 L137.4,383.2 L138.0,383.4 L138.6,383.5 L139.2,383.8 L139.8,383.9 L140.4,384.0 L141.0,383.7 L141.6,383.9 L142.2,383.3 L142.8,383.7 L143.4,383.8 L144.0,383.9 L144.6,383.7 L145.2,382.6 L145.8,382.1 L146.4,381.2 L147.0,383.2 L147.6,382.6 L148.2,382.8 L148.8,383.2 L149.4,380.9 L150.0,382.0 L150.6,383.0 L151.2,381.9 L151.8,382.8 L152.4,383.0 L153.0,383.1 L153.6,383.1 L154.2,383.7 L154.8,382.5 L155.4,383.3 L156.0,383.4 L156.6,383.7 L157.2,382.9 L157.8,383.3 L158.4,383.3 L159.0,382.7 L159.6,377.3 L160.2,377.8 L160.8,377.5 L161.4,381.4 L162.0,380.8 L162.6,378.6 L163.2,377.8 L163.8,379.8 L164.4,382.1 L165.0,382.2 L165.6,377.3 L166.2,377.3 L166.8,379.8 L167.4,381.8 L168.0,381.7 L168.6,382.4 L169.2,383.5 L169.8,383.2 L170.4,383.6 L171.0,384.0 L171.6,382.6 L172.2,381.9 L172.8,383.1 L173.4,382.2 L174.0,377.3 L174.6,379.6 L175.2,380.3 L175.8,381.4 L176.4,381.9 L177.0,377.3 L177.6,380.6 L178.2,381.7 L178.8,383.0 L179.4,382.5 L180.0,382.2 L180.6,382.5 L181.2,382.3 L181.8,383.6 L182.4,383.9 L183.0,383.9 L183.6,383.9 L184.2,383.2 L184.8,383.8 L185.4,383.8 L186.0,381.4 L186.6,383.2 L187.2,383.7 L187.8,383.8 L188.4,383.9 L189.0,383.9 L189.6,383.4 L190.2,383.9 L190.8,384.1 L191.4,383.5 L192.0,383.5 L192.6,383.8 L193.2,383.8 L193.8,383.8 L194.4,383.9 L195.0,383.9 L195.6,383.9 L196.2,383.6 L196.8,383.6 L197.4,383.0 L198.0,383.6 L198.6,378.3 L199.2,382.4 L199.8,382.5 L200.4,382.8 L201.0,383.3 L201.6,377.9 L202.2,381.3 L202.8,382.8 L203.4,382.8 L204.0,383.1 L204.6,382.2 L205.2,377.3 L205.8,377.3 L206.4,381.3 L207.0,381.2 L207.6,381.9 L208.2,381.3 L208.8,383.0 L209.4,383.5 L210.0,383.4 L210.6,379.5 L211.2,382.6 L211.8,383.4 L212.4,382.8 L213.0,383.4 L213.6,383.4 L214.2,378.8 L214.8,382.2 L215.4,381.2 L216.0,380.5 L216.6,382.2 L217.2,382.7 L217.8,383.4 L218.4,383.5 L219.0,383.7 L219.6,383.7 L220.2,383.7 L220.8,383.9 L221.4,383.2 L222.0,383.7 L222.6,383.8 L223.2,383.8 L223.8,383.4 L224.4,383.6 L225.0,383.5 L225.6,383.3 L226.2,383.7 L226.8,383.1 L227.4,383.7 L228.0,383.3 L228.6,383.2 L229.2,383.3 L229.8,383.6 L230.4,382.5 L231.0,383.3 L231.6,383.6 L232.2,384.0 L232.8,383.3 L233.4,383.2 L234.0,383.8 L234.6,383.9 L235.2,383.9 L235.8,384.0 L236.4,383.4 L237.0,383.6 L237.6,383.1 L238.2,383.4 L238.8,383.8 L239.4,383.5 L240.0,383.9 L240.6,383.7 L241.2,383.8 L241.8,384.0 L242.4,384.0 L243.0,383.8 L243.6,383.8 L244.2,383.8 L244.8,382.6 L245.4,378.2 L246.0,381.0 L246.6,377.3 L247.2,380.3 L247.8,382.7 L248.4,383.2 L249.0,382.8 L249.6,381.2 L250.2,381.6 L250.8,377.4 L251.4,380.0 L252.0,378.6 L252.6,379.7 L253.2,381.8 L253.8,380.7 L254.4,382.0 L255.0,380.4 L255.6,382.6 L255.6,384.3 Z" fill="#1f7fdc"/>
<line x1="72" y1="384.26" x2="255.6" y2="384.26" stroke="#1f7fdc" stroke-width="0.7"/>
<path d="M264.0,384.3 L264.0,383.7 L264.6,383.2 L265.2,383.9 L265.8,383.0 L266.4,383.2 L267.0,383.9 L267.6,382.9 L268.2,382.4 L268.8,383.4 L269.4,380.1 L270.0,382.5 L270.6,382.8 L271.2,382.4 L271.8,382.1 L272.4,381.8 L273.0,383.0 L273.6,382.9 L274.2,383.5 L274.8,383.5 L275.4,383.2 L276.0,383.8 L276.6,383.7 L277.2,383.4 L277.8,383.9 L278.4,383.9 L279.0,384.0 L279.6,383.6 L280.2,384.0 L280.8,384.0 L281.4,383.6 L282.0,383.8 L282.6,383.5 L283.2,383.2 L283.8,383.3 L284.4,383.3 L285.0,383.7 L285.6,383.7 L286.2,383.7 L286.8,383.6 L287.4,383.5 L288.0,382.1 L288.6,383.3 L289.2,383.8 L289.8,383.9 L290.4,384.0 L291.0,383.4 L291.6,382.8 L292.2,383.3 L292.8,382.8 L293.4,383.5 L294.0,383.7 L294.6,383.4 L295.2,382.2 L295.8,382.9 L296.4,382.1 L297.0,382.2 L297.6,380.8 L298.2,378.1 L298.8,379.6 L299.4,382.1 L300.0,380.9 L300.6,379.6 L301.2,380.7 L301.8,382.6 L302.4,383.1 L303.0,381.9 L303.6,380.8 L304.2,381.9 L304.8,381.5 L305.4,382.5 L306.0,383.1 L306.6,383.8 L307.2,383.4 L307.8,383.4 L308.4,383.8 L309.0,383.8 L309.6,383.6 L310.2,382.4 L310.8,382.6 L311.4,383.5 L312.0,382.5 L312.6,383.2 L313.2,381.8 L313.8,383.1 L314.4,383.7 L315.0,383.6 L315.6,383.6 L316.2,383.8 L316.8,383.8 L317.4,384.0 L318.0,384.0 L318.6,384.1 L319.2,382.5 L319.8,383.5 L320.4,383.8 L321.0,384.0 L321.6,383.7 L322.2,384.0 L322.8,383.9 L323.4,383.0 L324.0,383.0 L324.6,382.4 L325.2,381.4 L325.8,382.8 L326.4,381.9 L327.0,381.4 L327.6,381.2 L328.2,382.3 L328.8,381.9 L329.4,383.4 L330.0,383.6 L330.6,383.1 L331.2,383.2 L331.8,383.4 L332.4,383.7 L333.0,384.0 L333.6,384.0 L334.2,384.0 L334.8,383.7 L335.4,383.9 L336.0,383.5 L336.6,383.5 L337.2,383.5 L337.8,383.1 L338.4,381.9 L339.0,383.1 L339.6,383.7 L340.2,382.1 L340.8,383.2 L341.4,381.8 L342.0,382.9 L342.6,383.3 L343.2,382.7 L343.8,383.7 L344.4,383.3 L345.0,383.8 L345.6,383.5 L346.2,382.8 L346.8,383.1 L347.4,383.6 L348.0,381.5 L348.6,382.8 L349.2,383.4 L349.8,383.4 L350.4,383.7 L351.0,382.9 L351.6,383.1 L352.2,382.9 L352.8,381.5 L353.4,382.7 L354.0,383.6 L354.6,383.1 L355.2,383.7 L355.8,383.3 L356.4,383.4 L357.0,383.7 L357.6,383.6 L358.2,384.0 L358.8,383.9 L359.4,384.0 L360.0,384.0 L360.6,384.1 L361.2,384.0 L361.8,383.4 L362.4,382.5 L363.0,383.4 L363.6,383.4 L364.2,383.8 L364.8,383.3 L365.4,381.6 L366.0,378.9 L366.6,382.4 L367.2,377.3 L367.8,377.3 L368.4,381.0 L369.0,381.0 L369.6,377.3 L370.2,379.9 L370.8,381.9 L371.4,380.2 L372.0,379.7 L372.6,378.8 L373.2,381.9 L373.8,382.7 L374.4,383.7 L375.0,383.0 L375.6,382.9 L376.2,382.7 L376.8,383.7 L377.4,384.0 L378.0,383.4 L378.6,383.7 L379.2,383.3 L379.8,383.5 L380.4,384.0 L381.0,384.0 L381.6,383.6 L382.2,383.9 L382.8,383.9 L383.4,383.7 L384.0,384.0 L384.6,384.1 L385.2,383.9 L385.8,384.1 L386.4,383.6 L387.0,383.1 L387.6,383.4 L388.2,383.4 L388.8,380.9 L389.4,380.8 L390.0,381.8 L390.6,382.3 L391.2,380.4 L391.8,382.6 L392.4,383.2 L393.0,381.6 L393.6,380.8 L394.2,379.9 L394.8,380.8 L395.4,380.1 L396.0,382.3 L396.6,379.9 L397.2,377.8 L397.8,380.9 L398.4,382.6 L399.0,382.3 L399.6,383.4 L400.2,383.7 L400.8,383.5 L401.4,383.7 L402.0,383.5 L402.6,382.5 L403.2,383.4 L403.8,377.3 L404.4,377.3 L405.0,380.7 L405.6,381.0 L406.2,382.1 L406.8,382.0 L407.4,383.0 L408.0,382.6 L408.6,383.0 L409.2,382.5 L409.8,381.5 L410.4,380.0 L411.0,382.7 L411.6,383.4 L412.2,382.8 L412.8,382.0 L413.4,383.3 L414.0,383.6 L414.6,383.3 L415.2,383.8 L415.8,384.1 L416.4,383.8 L417.0,383.7 L417.6,384.0 L418.2,383.7 L418.8,383.7 L419.4,383.3 L420.0,383.8 L420.6,384.0 L421.2,383.9 L421.8,383.8 L422.4,383.6 L423.0,382.8 L423.6,383.3 L424.2,379.5 L424.8,382.6 L425.4,381.7 L426.0,383.2 L426.6,382.2 L427.2,383.6 L427.8,383.7 L428.4,383.9 L429.0,383.6 L429.6,383.6 L430.2,383.5 L430.8,383.8 L431.4,384.0 L432.0,383.9 L432.6,383.4 L433.2,383.7 L433.8,383.9 L434.4,384.1 L435.0,383.8 L435.6,383.4 L436.2,383.5 L436.8,383.4 L437.4,383.8 L438.0,383.4 L438.6,383.3 L439.2,383.4 L439.8,379.7 L440.4,379.9 L441.0,382.1 L441.6,377.3 L442.2,381.5 L442.8,380.4 L443.4,382.0 L444.0,382.5 L444.6,377.6 L445.2,380.4 L445.8,381.8 L446.4,382.6 L447.0,383.4 L447.6,383.3 L448.2,383.0 L448.8,383.2 L449.4,382.4 L450.0,382.5 L450.6,383.0 L451.2,383.3 L451.8,378.9 L452.4,381.4 L453.0,381.8 L453.6,382.9 L454.2,382.3 L454.8,380.5 L455.4,381.9 L456.0,383.2 L456.6,383.6 L457.2,383.9 L457.8,383.9 L458.4,383.8 L459.0,382.6 L459.6,380.8 L460.2,378.3 L460.8,380.2 L461.4,380.7 L462.0,382.6 L462.6,383.3 L463.2,381.2 L463.8,382.6 L464.4,382.0 L465.0,380.3 L465.6,382.9 L466.2,382.3 L466.8,383.4 L467.4,383.2 L468.0,383.1 L468.6,381.3 L469.2,381.4 L469.8,379.4 L470.4,380.7 L471.0,380.6 L471.6,380.9 L472.2,382.4 L472.8,383.1 L473.4,383.6 L473.4,384.3 Z" fill="#1f7fdc"/>
<line x1="264" y1="384.26" x2="473.4" y2="384.26" stroke="#1f7fdc" stroke-width="0.7"/>
<path d="M72.0,394.3 L72.0,393.8 L72.6,393.0 L73.2,389.5 L73.8,391.5 L74.4,392.5 L75.0,393.1 L75.6,393.6 L76.2,388.8 L76.8,392.2 L77.4,393.7 L78.0,394.0 L78.6,394.0 L79.2,393.9 L79.8,394.1 L80.4,394.2 L81.0,394.2 L81.6,394.1 L82.2,393.9 L82.8,394.0 L83.4,394.2 L84.0,394.2 L84.6,394.2 L85.2,394.2 L85.8,394.1 L86.4,394.2 L87.0,394.2 L87.6,394.2 L88.2,394.2 L88.8,394.0 L89.4,394.1 L90.0,394.0 L90.6,394.0 L91.2,394.1 L91.8,394.1 L92.4,393.7 L93.0,393.5 L93.6,393.6 L94.2,393.3 L94.8,393.5 L95.4,393.9 L96.0,394.0 L96.6,393.9 L97.2,393.8 L97.8,393.6 L98.4,393.4 L99.0,393.6 L99.6,393.1 L100.2,393.7 L100.8,393.9 L101.4,393.9 L102.0,394.1 L102.6,393.9 L103.2,393.7 L103.8,393.9 L104.4,394.0 L105.0,394.0 L105.6,393.9 L106.2,393.9 L106.8,393.9 L107.4,394.0 L108.0,393.7 L108.6,393.7 L109.2,393.2 L109.8,392.9 L110.4,393.9 L111.0,393.9 L111.6,393.7 L112.2,393.8 L112.8,393.8 L113.4,394.0 L114.0,394.0 L114.6,393.6 L115.2,393.8 L115.8,393.6 L116.4,393.5 L117.0,393.5 L117.6,393.7 L118.2,393.8 L118.8,393.8 L119.4,393.8 L120.0,394.1 L120.6,394.1 L121.2,394.1 L121.8,394.0 L122.4,393.5 L123.0,393.8 L123.6,394.0 L124.2,394.1 L124.8,394.1 L125.4,394.2 L126.0,394.1 L126.6,394.2 L127.2,394.0 L127.8,394.0 L128.4,393.1 L129.0,393.9 L129.6,394.1 L130.2,393.4 L130.8,393.2 L131.4,393.7 L132.0,393.9 L132.6,394.0 L133.2,394.1 L133.8,394.1 L134.4,394.2 L135.0,393.7 L135.6,393.8 L136.2,393.9 L136.8,394.1 L137.4,394.1 L138.0,394.2 L138.6,394.1 L139.2,394.2 L139.8,394.1 L140.4,394.2 L141.0,393.7 L141.6,393.8 L142.2,394.0 L142.8,393.6 L143.4,393.7 L144.0,394.0 L144.6,393.6 L145.2,393.4 L145.8,393.9 L146.4,393.7 L147.0,393.9 L147.6,394.1 L148.2,393.9 L148.8,394.1 L149.4,393.5 L150.0,393.5 L150.6,393.9 L151.2,393.9 L151.8,394.1 L152.4,394.0 L153.0,393.8 L153.6,393.5 L154.2,392.8 L154.8,393.5 L155.4,393.9 L156.0,393.5 L156.6,393.8 L157.2,393.4 L157.8,393.6 L158.4,392.0 L159.0,393.2 L159.6,393.2 L160.2,393.4 L160.8,393.2 L161.4,392.5 L162.0,390.3 L162.6,393.0 L163.2,392.7 L163.8,393.3 L164.4,391.8 L165.0,392.4 L165.6,390.8 L166.2,390.4 L166.8,392.3 L167.4,393.4 L168.0,393.2 L168.6,393.7 L169.2,394.1 L169.8,394.2 L170.4,393.9 L171.0,394.1 L171.6,394.1 L172.2,394.0 L172.8,394.0 L173.4,394.0 L174.0,393.1 L174.6,393.3 L175.2,393.6 L175.8,393.6 L176.4,393.7 L177.0,393.4 L177.6,393.3 L178.2,393.8 L178.8,393.7 L179.4,392.8 L180.0,393.3 L180.6,393.7 L181.2,394.0 L181.8,394.1 L182.4,394.2 L183.0,394.2 L183.6,394.2 L184.2,394.2 L184.8,394.2 L185.4,393.6 L186.0,393.6 L186.6,394.1 L187.2,394.1 L187.8,394.2 L188.4,394.2 L189.0,394.1 L189.6,394.2 L190.2,394.1 L190.8,394.2 L191.4,394.1 L192.0,394.2 L192.6,394.2 L193.2,394.2 L193.8,394.2 L194.4,394.1 L195.0,394.0 L195.6,394.1 L196.2,393.8 L196.8,394.0 L197.4,393.7 L198.0,393.3 L198.6,392.6 L199.2,393.2 L199.8,393.7 L200.4,393.4 L201.0,393.4 L201.6,393.6 L202.2,393.4 L202.8,393.9 L203.4,394.0 L204.0,393.9 L204.6,392.5 L205.2,393.7 L205.8,393.8 L206.4,393.2 L207.0,392.7 L207.6,393.5 L208.2,393.6 L208.8,392.8 L209.4,393.6 L210.0,393.9 L210.6,393.8 L211.2,393.2 L211.8,393.7 L212.4,393.5 L213.0,393.9 L213.6,393.1 L214.2,392.0 L214.8,392.3 L215.4,393.6 L216.0,392.3 L216.6,392.6 L217.2,393.6 L217.8,393.8 L218.4,394.1 L219.0,394.1 L219.6,394.0 L220.2,394.2 L220.8,394.1 L221.4,394.0 L222.0,394.2 L222.6,394.2 L223.2,394.0 L223.8,394.0 L224.4,394.1 L225.0,393.9 L225.6,394.0 L226.2,394.2 L226.8,393.9 L227.4,394.1 L228.0,394.0 L228.6,393.6 L229.2,394.0 L229.8,393.6 L230.4,393.9 L231.0,393.9 L231.6,394.1 L232.2,394.1 L232.8,394.2 L233.4,394.1 L234.0,394.1 L234.6,394.1 L235.2,394.2 L235.8,394.1 L236.4,394.2 L237.0,394.0 L237.6,394.1 L238.2,394.1 L238.8,394.1 L239.4,394.2 L240.0,393.7 L240.6,393.9 L241.2,393.7 L241.8,393.9 L242.4,394.1 L243.0,394.1 L243.6,393.7 L244.2,393.3 L244.8,393.2 L245.4,393.8 L246.0,393.9 L246.6,393.8 L247.2,394.0 L247.8,394.0 L248.4,393.8 L249.0,394.0 L249.6,394.0 L250.2,393.8 L250.8,393.4 L251.4,393.5 L252.0,391.9 L252.6,393.4 L253.2,393.7 L253.8,393.7 L254.4,392.5 L255.0,393.5 L255.6,393.9 L255.6,394.3 Z" fill="#58aeea"/>
<line x1="72" y1="394.29" x2="255.6" y2="394.29" stroke="#58aeea" stroke-width="0.7"/>
<path d="M264.0,394.3 L264.0,394.2 L264.6,394.0 L265.2,393.9 L265.8,394.1 L266.4,394.2 L267.0,394.2 L267.6,394.2 L268.2,394.1 L268.8,394.1 L269.4,393.4 L270.0,393.9 L270.6,394.0 L271.2,393.0 L271.8,392.8 L272.4,393.8 L273.0,393.9 L273.6,392.2 L274.2,393.5 L274.8,393.6 L275.4,393.7 L276.0,393.8 L276.6,394.1 L277.2,394.0 L277.8,394.0 L278.4,394.1 L279.0,394.1 L279.6,394.0 L280.2,393.6 L280.8,393.7 L281.4,394.1 L282.0,394.0 L282.6,394.0 L283.2,393.0 L283.8,392.9 L284.4,393.6 L285.0,393.3 L285.6,393.2 L286.2,393.9 L286.8,393.9 L287.4,393.2 L288.0,393.9 L288.6,394.0 L289.2,393.9 L289.8,394.1 L290.4,394.0 L291.0,394.2 L291.6,394.1 L292.2,394.1 L292.8,394.2 L293.4,394.0 L294.0,394.0 L294.6,393.4 L295.2,393.8 L295.8,393.6 L296.4,393.8 L297.0,393.0 L297.6,393.0 L298.2,391.9 L298.8,393.3 L299.4,393.6 L300.0,393.8 L300.6,391.6 L301.2,392.5 L301.8,393.5 L302.4,392.8 L303.0,393.3 L303.6,393.5 L304.2,393.0 L304.8,393.2 L305.4,393.7 L306.0,394.1 L306.6,394.1 L307.2,394.1 L307.8,394.2 L308.4,394.2 L309.0,394.0 L309.6,393.0 L310.2,393.6 L310.8,393.8 L311.4,394.1 L312.0,393.2 L312.6,393.8 L313.2,393.9 L313.8,393.7 L314.4,393.4 L315.0,394.0 L315.6,394.1 L316.2,394.2 L316.8,393.5 L317.4,394.0 L318.0,394.2 L318.6,394.1 L319.2,394.1 L319.8,394.2 L320.4,394.2 L321.0,394.2 L321.6,393.7 L322.2,394.0 L322.8,392.9 L323.4,393.7 L324.0,393.9 L324.6,394.1 L325.2,393.8 L325.8,394.0 L326.4,392.8 L327.0,393.4 L327.6,393.9 L328.2,393.7 L328.8,393.8 L329.4,393.6 L330.0,393.7 L330.6,394.0 L331.2,394.0 L331.8,394.0 L332.4,394.2 L333.0,393.9 L333.6,394.0 L334.2,394.2 L334.8,394.2 L335.4,394.2 L336.0,394.1 L336.6,394.0 L337.2,394.1 L337.8,393.9 L338.4,393.9 L339.0,394.0 L339.6,393.9 L340.2,393.8 L340.8,393.6 L341.4,394.0 L342.0,394.1 L342.6,393.8 L343.2,393.1 L343.8,393.8 L344.4,393.8 L345.0,394.1 L345.6,394.2 L346.2,394.1 L346.8,394.2 L347.4,393.8 L348.0,393.8 L348.6,394.1 L349.2,394.0 L349.8,393.6 L350.4,394.0 L351.0,394.0 L351.6,394.1 L352.2,393.7 L352.8,392.8 L353.4,393.4 L354.0,393.2 L354.6,393.9 L355.2,393.6 L355.8,392.7 L356.4,393.5 L357.0,394.0 L357.6,394.1 L358.2,393.8 L358.8,394.0 L359.4,394.1 L360.0,394.2 L360.6,394.2 L361.2,394.0 L361.8,394.1 L362.4,394.2 L363.0,394.2 L363.6,393.6 L364.2,393.4 L364.8,393.9 L365.4,394.0 L366.0,392.7 L366.6,393.3 L367.2,392.5 L367.8,393.2 L368.4,393.3 L369.0,390.1 L369.6,392.5 L370.2,390.5 L370.8,391.4 L371.4,393.1 L372.0,390.9 L372.6,390.4 L373.2,393.0 L373.8,393.6 L374.4,394.0 L375.0,394.1 L375.6,394.0 L376.2,393.8 L376.8,393.8 L377.4,393.9 L378.0,394.1 L378.6,394.1 L379.2,393.9 L379.8,394.1 L380.4,394.0 L381.0,394.1 L381.6,393.9 L382.2,394.1 L382.8,394.1 L383.4,394.1 L384.0,394.2 L384.6,394.1 L385.2,394.0 L385.8,394.1 L386.4,393.2 L387.0,393.1 L387.6,393.8 L388.2,393.5 L388.8,393.5 L389.4,393.9 L390.0,392.2 L390.6,393.0 L391.2,393.7 L391.8,393.8 L392.4,393.4 L393.0,392.5 L393.6,391.1 L394.2,392.2 L394.8,392.5 L395.4,392.5 L396.0,393.2 L396.6,393.7 L397.2,392.9 L397.8,393.3 L398.4,394.0 L399.0,394.1 L399.6,394.2 L400.2,394.2 L400.8,394.1 L401.4,394.0 L402.0,394.0 L402.6,393.4 L403.2,393.0 L403.8,393.6 L404.4,393.4 L405.0,393.7 L405.6,393.8 L406.2,393.8 L406.8,393.7 L407.4,393.8 L408.0,394.0 L408.6,392.4 L409.2,393.2 L409.8,393.6 L410.4,393.6 L411.0,392.6 L411.6,393.7 L412.2,393.3 L412.8,393.9 L413.4,394.2 L414.0,393.7 L414.6,394.1 L415.2,393.8 L415.8,394.1 L416.4,394.2 L417.0,394.1 L417.6,394.2 L418.2,394.0 L418.8,394.1 L419.4,393.8 L420.0,394.1 L420.6,394.0 L421.2,394.1 L421.8,394.1 L422.4,393.9 L423.0,394.0 L423.6,393.8 L424.2,393.9 L424.8,393.8 L425.4,394.0 L426.0,394.0 L426.6,394.1 L427.2,394.1 L427.8,393.5 L428.4,393.5 L429.0,394.0 L429.6,394.0 L430.2,394.0 L430.8,393.9 L431.4,394.0 L432.0,394.2 L432.6,394.1 L433.2,394.1 L433.8,394.2 L434.4,394.2 L435.0,394.1 L435.6,394.2 L436.2,394.2 L436.8,394.2 L437.4,394.1 L438.0,393.9 L438.6,394.0 L439.2,394.0 L439.8,393.5 L440.4,393.9 L441.0,392.9 L441.6,392.0 L442.2,393.5 L442.8,393.4 L443.4,392.9 L444.0,393.7 L444.6,392.5 L445.2,393.5 L445.8,394.0 L446.4,394.1 L447.0,394.2 L447.6,394.2 L448.2,393.9 L448.8,393.8 L449.4,393.2 L450.0,393.3 L450.6,393.6 L451.2,393.9 L451.8,392.7 L452.4,393.5 L453.0,392.4 L453.6,393.6 L454.2,393.8 L454.8,392.9 L455.4,393.3 L456.0,394.0 L456.6,394.0 L457.2,393.8 L457.8,393.7 L458.4,393.5 L459.0,393.8 L459.6,393.7 L460.2,393.1 L460.8,393.2 L461.4,393.9 L462.0,393.9 L462.6,393.8 L463.2,393.9 L463.8,393.8 L464.4,394.0 L465.0,393.0 L465.6,393.7 L466.2,392.7 L466.8,393.5 L467.4,393.9 L468.0,394.0 L468.6,393.0 L469.2,393.6 L469.8,393.3 L470.4,393.1 L471.0,393.5 L471.6,393.4 L472.2,393.6 L472.8,393.8 L473.4,394.1 L473.4,394.3 Z" fill="#58aeea"/>
<line x1="264" y1="394.29" x2="473.4" y2="394.29" stroke="#58aeea" stroke-width="0.7"/>
<path d="M72.0,404.3 L72.0,403.7 L72.6,403.0 L73.2,402.4 L73.8,403.3 L74.4,402.6 L75.0,399.0 L75.6,401.6 L76.2,402.7 L76.8,403.0 L77.4,403.8 L78.0,404.1 L78.6,403.9 L79.2,404.1 L79.8,403.8 L80.4,403.8 L81.0,404.0 L81.6,404.1 L82.2,404.2 L82.8,404.2 L83.4,404.0 L84.0,404.0 L84.6,404.0 L85.2,404.2 L85.8,404.0 L86.4,403.4 L87.0,403.7 L87.6,403.9 L88.2,404.1 L88.8,404.1 L89.4,404.2 L90.0,404.2 L90.6,403.1 L91.2,403.7 L91.8,403.9 L92.4,403.9 L93.0,402.4 L93.6,402.7 L94.2,403.3 L94.8,403.3 L95.4,403.6 L96.0,403.6 L96.6,403.4 L97.2,403.5 L97.8,404.0 L98.4,403.9 L99.0,403.8 L99.6,403.8 L100.2,403.4 L100.8,403.7 L101.4,404.0 L102.0,404.1 L102.6,403.8 L103.2,403.8 L103.8,404.0 L104.4,404.0 L105.0,403.8 L105.6,403.9 L106.2,403.7 L106.8,403.3 L107.4,403.8 L108.0,403.7 L108.6,404.0 L109.2,403.5 L109.8,403.5 L110.4,403.6 L111.0,403.9 L111.6,404.1 L112.2,404.0 L112.8,404.0 L113.4,403.6 L114.0,403.7 L114.6,403.4 L115.2,403.1 L115.8,403.8 L116.4,404.1 L117.0,403.9 L117.6,404.0 L118.2,403.9 L118.8,404.1 L119.4,404.2 L120.0,403.7 L120.6,403.9 L121.2,403.9 L121.8,404.0 L122.4,403.5 L123.0,403.4 L123.6,404.0 L124.2,404.1 L124.8,404.2 L125.4,403.6 L126.0,403.8 L126.6,403.6 L127.2,404.0 L127.8,404.0 L128.4,403.2 L129.0,403.5 L129.6,403.9 L130.2,404.1 L130.8,403.5 L131.4,403.4 L132.0,404.0 L132.6,402.9 L133.2,403.9 L133.8,404.0 L134.4,404.0 L135.0,403.9 L135.6,403.8 L136.2,404.1 L136.8,404.2 L137.4,404.2 L138.0,404.2 L138.6,404.1 L139.2,404.2 L139.8,404.1 L140.4,404.0 L141.0,403.9 L141.6,404.0 L142.2,403.9 L142.8,403.9 L143.4,404.0 L144.0,404.1 L144.6,403.0 L145.2,403.8 L145.8,403.1 L146.4,403.9 L147.0,403.9 L147.6,403.6 L148.2,403.9 L148.8,401.4 L149.4,403.0 L150.0,402.9 L150.6,403.3 L151.2,403.0 L151.8,403.8 L152.4,403.9 L153.0,404.0 L153.6,403.9 L154.2,404.1 L154.8,404.1 L155.4,403.9 L156.0,403.1 L156.6,403.6 L157.2,403.4 L157.8,401.7 L158.4,402.4 L159.0,402.4 L159.6,402.2 L160.2,402.3 L160.8,403.1 L161.4,403.5 L162.0,400.9 L162.6,402.2 L163.2,401.1 L163.8,403.0 L164.4,402.6 L165.0,401.2 L165.6,403.3 L166.2,400.1 L166.8,402.6 L167.4,403.0 L168.0,403.0 L168.6,403.4 L169.2,404.0 L169.8,403.7 L170.4,404.1 L171.0,404.2 L171.6,404.2 L172.2,401.9 L172.8,403.3 L173.4,403.5 L174.0,403.1 L174.6,403.1 L175.2,403.4 L175.8,402.6 L176.4,402.8 L177.0,403.6 L177.6,402.8 L178.2,402.7 L178.8,402.6 L179.4,402.9 L180.0,403.8 L180.6,404.1 L181.2,403.8 L181.8,404.1 L182.4,403.4 L183.0,402.3 L183.6,403.4 L184.2,403.8 L184.8,404.1 L185.4,403.9 L186.0,404.1 L186.6,403.9 L187.2,403.7 L187.8,404.1 L188.4,404.1 L189.0,404.2 L189.6,404.2 L190.2,403.7 L190.8,403.9 L191.4,404.0 L192.0,403.9 L192.6,404.0 L193.2,404.2 L193.8,404.1 L194.4,404.0 L195.0,404.0 L195.6,403.9 L196.2,404.1 L196.8,403.8 L197.4,403.5 L198.0,403.7 L198.6,402.2 L199.2,403.4 L199.8,403.4 L200.4,403.5 L201.0,402.2 L201.6,402.2 L202.2,402.6 L202.8,402.8 L203.4,403.1 L204.0,402.8 L204.6,403.5 L205.2,403.8 L205.8,403.6 L206.4,401.4 L207.0,403.3 L207.6,403.3 L208.2,403.8 L208.8,404.0 L209.4,403.2 L210.0,403.0 L210.6,403.5 L211.2,403.2 L211.8,403.3 L212.4,403.4 L213.0,403.0 L213.6,402.7 L214.2,402.6 L214.8,403.1 L215.4,401.9 L216.0,401.2 L216.6,402.5 L217.2,403.5 L217.8,403.9 L218.4,403.7 L219.0,403.8 L219.6,403.4 L220.2,403.6 L220.8,404.0 L221.4,404.2 L222.0,404.1 L222.6,404.1 L223.2,404.0 L223.8,404.2 L224.4,404.1 L225.0,404.0 L225.6,404.2 L226.2,404.2 L226.8,404.0 L227.4,403.8 L228.0,403.4 L228.6,403.9 L229.2,402.8 L229.8,403.7 L230.4,402.7 L231.0,403.7 L231.6,403.8 L232.2,403.8 L232.8,404.1 L233.4,404.1 L234.0,403.8 L234.6,403.9 L235.2,403.9 L235.8,404.2 L236.4,403.8 L237.0,404.0 L237.6,404.2 L238.2,403.9 L238.8,404.1 L239.4,403.9 L240.0,403.9 L240.6,404.2 L241.2,404.2 L241.8,404.1 L242.4,404.2 L243.0,404.2 L243.6,403.8 L244.2,403.1 L244.8,403.7 L245.4,403.9 L246.0,403.0 L246.6,403.4 L247.2,403.6 L247.8,403.4 L248.4,400.7 L249.0,402.6 L249.6,403.5 L250.2,403.7 L250.8,402.2 L251.4,402.3 L252.0,402.4 L252.6,403.1 L253.2,401.3 L253.8,403.0 L254.4,403.1 L255.0,403.6 L255.6,404.1 L255.6,404.3 Z" fill="#58aeea"/>
<line x1="72" y1="404.32" x2="255.6" y2="404.32" stroke="#58aeea" stroke-width="0.7"/>
<path d="M264.0,404.3 L264.0,403.8 L264.6,404.1 L265.2,403.9 L265.8,404.1 L266.4,404.1 L267.0,404.2 L267.6,404.0 L268.2,404.1 L268.8,403.9 L269.4,403.9 L270.0,404.1 L270.6,403.2 L271.2,402.6 L271.8,403.7 L272.4,403.5 L273.0,403.6 L273.6,403.7 L274.2,403.6 L274.8,403.5 L275.4,403.9 L276.0,404.0 L276.6,404.0 L277.2,403.3 L277.8,403.5 L278.4,403.8 L279.0,404.0 L279.6,403.8 L280.2,403.5 L280.8,403.7 L281.4,404.1 L282.0,404.1 L282.6,404.1 L283.2,404.0 L283.8,403.4 L284.4,403.7 L285.0,403.9 L285.6,404.0 L286.2,404.1 L286.8,403.4 L287.4,402.8 L288.0,403.0 L288.6,403.9 L289.2,404.0 L289.8,404.2 L290.4,404.1 L291.0,404.2 L291.6,404.1 L292.2,404.1 L292.8,404.1 L293.4,404.1 L294.0,404.1 L294.6,404.1 L295.2,402.3 L295.8,403.2 L296.4,402.0 L297.0,403.1 L297.6,403.7 L298.2,398.8 L298.8,401.9 L299.4,403.2 L300.0,400.0 L300.6,400.0 L301.2,402.8 L301.8,400.4 L302.4,403.0 L303.0,403.6 L303.6,403.8 L304.2,402.4 L304.8,403.1 L305.4,403.5 L306.0,403.9 L306.6,404.1 L307.2,404.2 L307.8,404.2 L308.4,404.2 L309.0,403.9 L309.6,404.1 L310.2,404.1 L310.8,404.1 L311.4,404.1 L312.0,404.1 L312.6,404.1 L313.2,404.1 L313.8,404.0 L314.4,403.4 L315.0,403.6 L315.6,404.1 L316.2,404.2 L316.8,404.2 L317.4,404.1 L318.0,404.1 L318.6,404.1 L319.2,404.0 L319.8,404.0 L320.4,404.1 L321.0,404.2 L321.6,403.4 L322.2,403.8 L322.8,403.3 L323.4,402.9 L324.0,403.1 L324.6,403.4 L325.2,403.3 L325.8,403.7 L326.4,403.9 L327.0,403.8 L327.6,403.9 L328.2,404.0 L328.8,404.0 L329.4,404.0 L330.0,404.1 L330.6,404.1 L331.2,403.7 L331.8,404.1 L332.4,404.0 L333.0,404.0 L333.6,404.2 L334.2,404.1 L334.8,404.1 L335.4,403.7 L336.0,404.0 L336.6,404.1 L337.2,404.2 L337.8,404.1 L338.4,404.1 L339.0,403.5 L339.6,403.2 L340.2,403.9 L340.8,403.5 L341.4,403.1 L342.0,403.8 L342.6,403.9 L343.2,404.1 L343.8,404.1 L344.4,404.0 L345.0,404.1 L345.6,404.1 L346.2,404.0 L346.8,403.9 L347.4,403.3 L348.0,403.2 L348.6,403.8 L349.2,403.9 L349.8,403.1 L350.4,403.0 L351.0,403.1 L351.6,403.4 L352.2,402.5 L352.8,403.7 L353.4,403.9 L354.0,403.5 L354.6,403.9 L355.2,403.7 L355.8,403.8 L356.4,403.8 L357.0,404.1 L357.6,403.6 L358.2,404.0 L358.8,404.2 L359.4,404.2 L360.0,404.1 L360.6,403.9 L361.2,404.0 L361.8,403.7 L362.4,404.0 L363.0,404.2 L363.6,404.1 L364.2,403.3 L364.8,403.5 L365.4,402.5 L366.0,402.2 L366.6,401.6 L367.2,402.8 L367.8,403.7 L368.4,402.8 L369.0,403.4 L369.6,403.0 L370.2,403.3 L370.8,403.1 L371.4,402.7 L372.0,402.0 L372.6,399.8 L373.2,401.2 L373.8,402.6 L374.4,403.8 L375.0,404.0 L375.6,404.1 L376.2,404.1 L376.8,404.2 L377.4,404.1 L378.0,403.7 L378.6,403.7 L379.2,403.8 L379.8,404.1 L380.4,403.9 L381.0,404.1 L381.6,404.1 L382.2,404.1 L382.8,404.2 L383.4,404.2 L384.0,403.8 L384.6,404.0 L385.2,404.1 L385.8,404.1 L386.4,404.1 L387.0,404.0 L387.6,404.0 L388.2,403.7 L388.8,402.1 L389.4,403.5 L390.0,403.6 L390.6,402.4 L391.2,403.6 L391.8,403.8 L392.4,402.3 L393.0,401.9 L393.6,402.7 L394.2,403.0 L394.8,403.0 L395.4,403.0 L396.0,397.3 L396.6,401.0 L397.2,402.6 L397.8,402.3 L398.4,403.7 L399.0,404.1 L399.6,404.1 L400.2,404.2 L400.8,403.7 L401.4,404.1 L402.0,403.9 L402.6,404.0 L403.2,403.9 L403.8,402.4 L404.4,403.5 L405.0,402.6 L405.6,402.7 L406.2,403.6 L406.8,400.9 L407.4,403.2 L408.0,402.2 L408.6,400.8 L409.2,402.8 L409.8,403.3 L410.4,403.5 L411.0,403.2 L411.6,403.3 L412.2,403.9 L412.8,404.1 L413.4,404.2 L414.0,404.2 L414.6,404.2 L415.2,404.1 L415.8,404.2 L416.4,404.0 L417.0,404.1 L417.6,403.7 L418.2,404.1 L418.8,404.1 L419.4,404.1 L420.0,404.0 L420.6,404.2 L421.2,404.2 L421.8,403.2 L422.4,403.7 L423.0,403.8 L423.6,404.0 L424.2,403.7 L424.8,402.4 L425.4,403.3 L426.0,402.8 L426.6,403.6 L427.2,404.1 L427.8,404.0 L428.4,404.1 L429.0,403.5 L429.6,403.8 L430.2,403.9 L430.8,404.2 L431.4,404.1 L432.0,404.0 L432.6,404.1 L433.2,404.1 L433.8,404.2 L434.4,404.1 L435.0,404.2 L435.6,404.2 L436.2,404.0 L436.8,404.1 L437.4,404.1 L438.0,403.9 L438.6,404.0 L439.2,403.5 L439.8,401.7 L440.4,402.4 L441.0,402.2 L441.6,402.8 L442.2,401.5 L442.8,403.0 L443.4,403.7 L444.0,403.9 L444.6,404.0 L445.2,404.0 L445.8,404.1 L446.4,404.1 L447.0,404.0 L447.6,404.1 L448.2,404.1 L448.8,404.1 L449.4,403.1 L450.0,403.6 L450.6,402.1 L451.2,403.5 L451.8,403.9 L452.4,402.5 L453.0,403.1 L453.6,402.3 L454.2,402.7 L454.8,403.0 L455.4,403.7 L456.0,403.9 L456.6,404.2 L457.2,403.5 L457.8,403.2 L458.4,403.4 L459.0,403.8 L459.6,403.9 L460.2,403.6 L460.8,403.8 L461.4,401.4 L462.0,401.4 L462.6,402.9 L463.2,403.6 L463.8,403.4 L464.4,400.7 L465.0,402.9 L465.6,403.1 L466.2,403.6 L466.8,404.0 L467.4,404.0 L468.0,403.8 L468.6,403.3 L469.2,403.5 L469.8,403.8 L470.4,403.9 L471.0,402.2 L471.6,402.5 L472.2,403.5 L472.8,403.6 L473.4,404.0 L473.4,404.3 Z" fill="#58aeea"/>
<line x1="264" y1="404.32" x2="473.4" y2="404.32" stroke="#58aeea" stroke-width="0.7"/>
<path d="M72.0,414.3 L72.0,412.7 L72.6,412.9 L73.2,407.3 L73.8,409.5 L74.4,410.7 L75.0,409.5 L75.6,411.8 L76.2,412.3 L76.8,411.8 L77.4,412.7 L78.0,412.8 L78.6,413.3 L79.2,413.5 L79.8,413.6 L80.4,413.8 L81.0,412.9 L81.6,411.8 L82.2,413.1 L82.8,412.5 L83.4,413.4 L84.0,412.7 L84.6,413.5 L85.2,413.2 L85.8,413.3 L86.4,411.7 L87.0,411.9 L87.6,413.3 L88.2,413.7 L88.8,413.2 L89.4,413.5 L90.0,413.5 L90.6,410.0 L91.2,409.4 L91.8,412.8 L92.4,413.6 L93.0,412.5 L93.6,409.7 L94.2,410.0 L94.8,411.4 L95.4,411.5 L96.0,412.4 L96.6,412.7 L97.2,411.1 L97.8,413.1 L98.4,412.2 L99.0,411.9 L99.6,413.2 L100.2,412.0 L100.8,413.2 L101.4,409.7 L102.0,411.3 L102.6,412.6 L103.2,412.7 L103.8,410.0 L104.4,412.6 L105.0,413.5 L105.6,412.9 L106.2,411.8 L106.8,413.4 L107.4,412.7 L108.0,413.3 L108.6,412.7 L109.2,413.0 L109.8,410.4 L110.4,412.1 L111.0,409.3 L111.6,408.7 L112.2,412.4 L112.8,409.9 L113.4,411.0 L114.0,413.0 L114.6,412.5 L115.2,413.1 L115.8,413.6 L116.4,413.7 L117.0,413.2 L117.6,410.7 L118.2,413.0 L118.8,412.4 L119.4,410.5 L120.0,412.4 L120.6,411.7 L121.2,412.1 L121.8,411.5 L122.4,412.4 L123.0,408.2 L123.6,411.8 L124.2,413.1 L124.8,413.6 L125.4,413.5 L126.0,413.7 L126.6,410.9 L127.2,413.1 L127.8,412.2 L128.4,412.4 L129.0,413.1 L129.6,413.8 L130.2,413.8 L130.8,411.7 L131.4,412.9 L132.0,411.7 L132.6,413.2 L133.2,413.6 L133.8,413.0 L134.4,412.8 L135.0,413.1 L135.6,411.6 L136.2,411.4 L136.8,411.4 L137.4,412.2 L138.0,412.1 L138.6,412.5 L139.2,411.5 L139.8,411.9 L140.4,410.6 L141.0,407.3 L141.6,410.4 L142.2,410.5 L142.8,412.5 L143.4,408.8 L144.0,410.4 L144.6,410.5 L145.2,410.7 L145.8,412.5 L146.4,408.0 L147.0,412.1 L147.6,412.6 L148.2,411.7 L148.8,407.3 L149.4,409.0 L150.0,407.3 L150.6,410.9 L151.2,411.1 L151.8,410.9 L152.4,412.4 L153.0,413.1 L153.6,412.7 L154.2,413.2 L154.8,413.4 L155.4,412.8 L156.0,407.4 L156.6,408.9 L157.2,408.0 L157.8,409.4 L158.4,410.4 L159.0,407.3 L159.6,410.6 L160.2,411.9 L160.8,412.1 L161.4,412.9 L162.0,413.3 L162.6,412.7 L163.2,411.0 L163.8,412.5 L164.4,412.1 L165.0,412.8 L165.6,410.9 L166.2,412.6 L166.8,412.2 L167.4,410.3 L168.0,409.8 L168.6,407.3 L169.2,411.9 L169.8,411.5 L170.4,412.5 L171.0,407.8 L171.6,411.4 L172.2,409.3 L172.8,411.0 L173.4,410.2 L174.0,410.3 L174.6,410.4 L175.2,411.3 L175.8,412.9 L176.4,412.8 L177.0,411.7 L177.6,412.1 L178.2,413.0 L178.8,411.7 L179.4,411.5 L180.0,412.5 L180.6,412.7 L181.2,412.8 L181.8,409.6 L182.4,412.4 L183.0,409.1 L183.6,412.5 L184.2,413.2 L184.8,412.1 L185.4,412.2 L186.0,413.3 L186.6,413.6 L187.2,413.2 L187.8,412.7 L188.4,413.3 L189.0,413.3 L189.6,413.4 L190.2,412.4 L190.8,411.7 L191.4,412.6 L192.0,413.5 L192.6,413.5 L193.2,413.5 L193.8,413.1 L194.4,413.5 L195.0,413.1 L195.6,413.2 L196.2,413.2 L196.8,411.0 L197.4,412.8 L198.0,413.5 L198.6,413.8 L199.2,413.8 L199.8,411.6 L200.4,408.7 L201.0,410.0 L201.6,412.1 L202.2,413.1 L202.8,411.8 L203.4,412.9 L204.0,413.1 L204.6,410.4 L205.2,412.1 L205.8,411.0 L206.4,407.3 L207.0,409.6 L207.6,410.8 L208.2,410.4 L208.8,407.3 L209.4,410.4 L210.0,408.5 L210.6,411.2 L211.2,409.7 L211.8,412.3 L212.4,412.9 L213.0,412.5 L213.6,409.3 L214.2,411.5 L214.8,409.1 L215.4,411.2 L216.0,407.5 L216.6,407.3 L217.2,408.0 L217.8,411.6 L218.4,412.8 L219.0,411.4 L219.6,411.9 L220.2,412.9 L220.8,409.3 L221.4,407.5 L222.0,407.6 L222.6,407.3 L223.2,409.9 L223.8,411.2 L224.4,407.3 L225.0,410.5 L225.6,411.2 L226.2,413.1 L226.8,411.4 L227.4,412.6 L228.0,408.7 L228.6,411.1 L229.2,412.5 L229.8,413.1 L230.4,413.7 L231.0,413.8 L231.6,413.8 L232.2,412.6 L232.8,413.2 L233.4,413.6 L234.0,412.3 L234.6,411.6 L235.2,413.1 L235.8,413.1 L236.4,409.8 L237.0,410.7 L237.6,410.4 L238.2,412.5 L238.8,413.4 L239.4,411.7 L240.0,411.4 L240.6,411.2 L241.2,412.9 L241.8,411.2 L242.4,408.5 L243.0,410.6 L243.6,410.8 L244.2,412.3 L244.8,411.8 L245.4,412.3 L246.0,412.9 L246.6,407.3 L247.2,409.9 L247.8,412.1 L248.4,410.5 L249.0,412.1 L249.6,408.4 L250.2,411.5 L250.8,411.9 L251.4,412.3 L252.0,413.1 L252.6,410.0 L253.2,411.0 L253.8,411.5 L254.4,409.0 L255.0,412.7 L255.6,412.4 L255.6,414.3 Z" fill="#ee7d1a"/>
<line x1="72" y1="414.35" x2="255.6" y2="414.35" stroke="#ee7d1a" stroke-width="0.7"/>
<path d="M264.0,414.3 L264.0,413.6 L264.6,413.0 L265.2,413.0 L265.8,412.8 L266.4,411.8 L267.0,412.3 L267.6,413.5 L268.2,413.7 L268.8,413.2 L269.4,413.1 L270.0,409.3 L270.6,410.9 L271.2,412.2 L271.8,412.7 L272.4,413.1 L273.0,412.1 L273.6,409.0 L274.2,412.3 L274.8,412.4 L275.4,412.7 L276.0,411.9 L276.6,412.8 L277.2,413.4 L277.8,411.8 L278.4,412.7 L279.0,411.8 L279.6,409.5 L280.2,411.4 L280.8,409.6 L281.4,410.5 L282.0,413.0 L282.6,413.3 L283.2,412.6 L283.8,413.1 L284.4,413.8 L285.0,412.6 L285.6,412.8 L286.2,413.1 L286.8,412.5 L287.4,413.1 L288.0,411.9 L288.6,412.8 L289.2,410.7 L289.8,407.3 L290.4,410.7 L291.0,411.8 L291.6,410.4 L292.2,407.3 L292.8,410.9 L293.4,411.1 L294.0,409.7 L294.6,411.7 L295.2,412.6 L295.8,408.5 L296.4,408.8 L297.0,409.2 L297.6,409.6 L298.2,412.0 L298.8,410.8 L299.4,410.6 L300.0,410.4 L300.6,411.8 L301.2,412.5 L301.8,409.9 L302.4,407.3 L303.0,407.3 L303.6,407.3 L304.2,408.0 L304.8,409.9 L305.4,411.0 L306.0,410.7 L306.6,409.5 L307.2,407.3 L307.8,411.5 L308.4,410.6 L309.0,409.1 L309.6,409.1 L310.2,411.3 L310.8,413.0 L311.4,413.1 L312.0,413.1 L312.6,412.6 L313.2,413.5 L313.8,413.6 L314.4,413.6 L315.0,413.9 L315.6,411.0 L316.2,412.8 L316.8,412.9 L317.4,408.6 L318.0,410.1 L318.6,412.3 L319.2,408.6 L319.8,409.4 L320.4,411.2 L321.0,412.2 L321.6,410.3 L322.2,409.0 L322.8,411.1 L323.4,412.8 L324.0,412.0 L324.6,412.7 L325.2,410.8 L325.8,410.7 L326.4,411.1 L327.0,408.9 L327.6,411.3 L328.2,411.0 L328.8,409.8 L329.4,411.2 L330.0,412.6 L330.6,408.8 L331.2,410.3 L331.8,411.1 L332.4,410.9 L333.0,411.9 L333.6,408.2 L334.2,411.3 L334.8,412.2 L335.4,410.7 L336.0,411.2 L336.6,412.1 L337.2,413.0 L337.8,412.2 L338.4,412.2 L339.0,411.9 L339.6,411.6 L340.2,412.9 L340.8,413.6 L341.4,413.8 L342.0,412.6 L342.6,408.8 L343.2,410.0 L343.8,407.6 L344.4,411.8 L345.0,412.7 L345.6,410.9 L346.2,412.0 L346.8,412.3 L347.4,410.3 L348.0,412.8 L348.6,410.2 L349.2,412.9 L349.8,413.0 L350.4,412.9 L351.0,413.1 L351.6,412.8 L352.2,413.4 L352.8,413.7 L353.4,413.1 L354.0,411.4 L354.6,413.3 L355.2,413.7 L355.8,407.3 L356.4,412.0 L357.0,413.0 L357.6,411.9 L358.2,412.2 L358.8,410.2 L359.4,411.1 L360.0,408.6 L360.6,411.9 L361.2,412.4 L361.8,412.6 L362.4,408.8 L363.0,407.3 L363.6,407.3 L364.2,411.2 L364.8,412.7 L365.4,412.5 L366.0,407.3 L366.6,407.3 L367.2,407.3 L367.8,408.9 L368.4,411.8 L369.0,407.3 L369.6,407.3 L370.2,407.3 L370.8,407.3 L371.4,407.3 L372.0,411.0 L372.6,407.3 L373.2,409.7 L373.8,407.3 L374.4,410.9 L375.0,412.9 L375.6,413.7 L376.2,412.8 L376.8,413.0 L377.4,412.1 L378.0,412.9 L378.6,412.5 L379.2,413.1 L379.8,413.6 L380.4,413.6 L381.0,413.5 L381.6,413.6 L382.2,410.6 L382.8,409.7 L383.4,407.3 L384.0,407.3 L384.6,411.3 L385.2,412.5 L385.8,412.1 L386.4,412.2 L387.0,412.9 L387.6,410.0 L388.2,409.9 L388.8,411.6 L389.4,411.7 L390.0,411.8 L390.6,411.7 L391.2,411.6 L391.8,411.2 L392.4,407.3 L393.0,410.3 L393.6,412.5 L394.2,412.9 L394.8,411.0 L395.4,411.2 L396.0,407.3 L396.6,409.9 L397.2,407.3 L397.8,408.1 L398.4,411.5 L399.0,412.8 L399.6,412.2 L400.2,413.2 L400.8,413.7 L401.4,413.9 L402.0,412.6 L402.6,410.5 L403.2,412.1 L403.8,413.5 L404.4,413.9 L405.0,413.2 L405.6,413.4 L406.2,411.3 L406.8,412.6 L407.4,412.0 L408.0,413.4 L408.6,413.7 L409.2,411.5 L409.8,411.6 L410.4,409.6 L411.0,411.9 L411.6,411.9 L412.2,412.2 L412.8,410.8 L413.4,411.5 L414.0,410.1 L414.6,412.6 L415.2,411.9 L415.8,412.7 L416.4,411.5 L417.0,412.7 L417.6,413.5 L418.2,413.9 L418.8,413.4 L419.4,413.8 L420.0,412.8 L420.6,412.0 L421.2,413.2 L421.8,412.7 L422.4,412.3 L423.0,412.3 L423.6,413.3 L424.2,407.3 L424.8,411.3 L425.4,412.9 L426.0,410.2 L426.6,407.3 L427.2,407.7 L427.8,409.4 L428.4,411.5 L429.0,407.3 L429.6,409.5 L430.2,409.3 L430.8,408.6 L431.4,411.0 L432.0,407.3 L432.6,409.4 L433.2,409.9 L433.8,412.1 L434.4,412.7 L435.0,412.1 L435.6,413.0 L436.2,411.3 L436.8,412.6 L437.4,412.7 L438.0,409.4 L438.6,408.8 L439.2,407.3 L439.8,408.6 L440.4,411.4 L441.0,412.1 L441.6,409.4 L442.2,410.4 L442.8,407.3 L443.4,407.3 L444.0,409.7 L444.6,412.0 L445.2,407.3 L445.8,407.3 L446.4,409.8 L447.0,409.8 L447.6,409.5 L448.2,410.6 L448.8,411.8 L449.4,411.8 L450.0,407.4 L450.6,407.3 L451.2,407.3 L451.8,407.3 L452.4,409.9 L453.0,411.5 L453.6,407.6 L454.2,412.0 L454.8,408.0 L455.4,412.0 L456.0,410.8 L456.6,412.7 L457.2,412.5 L457.8,413.0 L458.4,411.7 L459.0,411.5 L459.6,407.7 L460.2,410.7 L460.8,408.6 L461.4,407.3 L462.0,407.3 L462.6,410.0 L463.2,407.3 L463.8,410.9 L464.4,411.4 L465.0,407.3 L465.6,409.8 L466.2,412.1 L466.8,412.0 L467.4,412.3 L468.0,408.0 L468.6,409.9 L469.2,407.3 L469.8,409.9 L470.4,407.3 L471.0,411.5 L471.6,412.7 L472.2,413.6 L472.8,413.4 L473.4,413.3 L473.4,414.3 Z" fill="#ee7d1a"/>
<line x1="264" y1="414.35" x2="473.4" y2="414.35" stroke="#ee7d1a" stroke-width="0.7"/>
<text x="72.5" y="407.45" font-family="Liberation Sans, Arial, sans-serif" font-size="2.6" fill="#ee7d1a">[0-100]</text>
<text x="264.5" y="407.45" font-family="Liberation Sans, Arial, sans-serif" font-size="2.6" fill="#ee7d1a">[0-100]</text>
<path d="M72.0,424.4 L72.0,424.2 L72.6,420.0 L73.2,419.5 L73.8,422.4 L74.4,420.7 L75.0,421.9 L75.6,417.4 L76.2,417.4 L76.8,420.9 L77.4,421.3 L78.0,422.9 L78.6,423.5 L79.2,423.5 L79.8,423.6 L80.4,423.5 L81.0,421.5 L81.6,422.4 L82.2,423.7 L82.8,423.7 L83.4,421.3 L84.0,422.3 L84.6,422.9 L85.2,422.9 L85.8,422.7 L86.4,423.5 L87.0,423.4 L87.6,423.5 L88.2,423.7 L88.8,422.6 L89.4,423.6 L90.0,423.7 L90.6,422.4 L91.2,420.9 L91.8,422.8 L92.4,421.3 L93.0,421.1 L93.6,423.0 L94.2,420.6 L94.8,422.9 L95.4,422.9 L96.0,423.6 L96.6,423.7 L97.2,422.6 L97.8,421.4 L98.4,423.2 L99.0,423.3 L99.6,422.7 L100.2,422.6 L100.8,423.5 L101.4,422.6 L102.0,423.5 L102.6,421.1 L103.2,422.2 L103.8,422.6 L104.4,421.4 L105.0,423.2 L105.6,423.7 L106.2,423.2 L106.8,422.1 L107.4,421.5 L108.0,422.2 L108.6,422.7 L109.2,423.3 L109.8,422.2 L110.4,422.4 L111.0,421.2 L111.6,421.6 L112.2,422.6 L112.8,422.3 L113.4,423.2 L114.0,423.3 L114.6,421.9 L115.2,421.8 L115.8,423.4 L116.4,423.5 L117.0,423.1 L117.6,422.6 L118.2,423.0 L118.8,423.0 L119.4,419.7 L120.0,422.2 L120.6,422.7 L121.2,419.9 L121.8,422.4 L122.4,422.6 L123.0,423.4 L123.6,421.5 L124.2,421.3 L124.8,423.0 L125.4,422.7 L126.0,423.4 L126.6,422.0 L127.2,422.9 L127.8,423.5 L128.4,421.1 L129.0,422.8 L129.6,423.1 L130.2,421.2 L130.8,423.1 L131.4,423.2 L132.0,420.9 L132.6,422.6 L133.2,420.7 L133.8,421.5 L134.4,418.1 L135.0,420.8 L135.6,419.0 L136.2,421.3 L136.8,422.6 L137.4,422.6 L138.0,422.0 L138.6,421.2 L139.2,421.7 L139.8,422.1 L140.4,422.5 L141.0,421.7 L141.6,420.4 L142.2,420.4 L142.8,422.7 L143.4,422.7 L144.0,420.7 L144.6,421.3 L145.2,422.2 L145.8,421.1 L146.4,422.9 L147.0,421.7 L147.6,417.4 L148.2,420.8 L148.8,422.5 L149.4,420.7 L150.0,420.8 L150.6,422.0 L151.2,422.6 L151.8,423.4 L152.4,423.4 L153.0,420.5 L153.6,421.9 L154.2,419.1 L154.8,417.4 L155.4,417.5 L156.0,420.7 L156.6,422.4 L157.2,417.4 L157.8,421.1 L158.4,422.4 L159.0,421.8 L159.6,422.3 L160.2,422.3 L160.8,422.7 L161.4,423.2 L162.0,423.4 L162.6,417.4 L163.2,421.8 L163.8,422.1 L164.4,421.4 L165.0,421.9 L165.6,419.6 L166.2,417.4 L166.8,420.4 L167.4,421.7 L168.0,420.9 L168.6,421.9 L169.2,422.7 L169.8,421.8 L170.4,421.4 L171.0,422.4 L171.6,421.9 L172.2,422.2 L172.8,423.2 L173.4,417.6 L174.0,421.1 L174.6,422.2 L175.2,423.6 L175.8,423.7 L176.4,424.0 L177.0,422.4 L177.6,422.9 L178.2,423.1 L178.8,422.5 L179.4,422.9 L180.0,422.8 L180.6,417.4 L181.2,421.9 L181.8,421.9 L182.4,422.7 L183.0,423.3 L183.6,423.6 L184.2,422.8 L184.8,423.6 L185.4,422.2 L186.0,423.2 L186.6,423.6 L187.2,423.5 L187.8,423.5 L188.4,423.5 L189.0,423.7 L189.6,423.6 L190.2,423.7 L190.8,422.9 L191.4,423.1 L192.0,423.5 L192.6,423.6 L193.2,423.7 L193.8,421.2 L194.4,422.5 L195.0,421.5 L195.6,421.7 L196.2,422.5 L196.8,422.9 L197.4,423.5 L198.0,423.2 L198.6,423.6 L199.2,422.8 L199.8,421.5 L200.4,421.8 L201.0,421.8 L201.6,420.8 L202.2,420.8 L202.8,420.8 L203.4,420.7 L204.0,421.5 L204.6,420.8 L205.2,422.8 L205.8,420.5 L206.4,421.9 L207.0,419.8 L207.6,422.3 L208.2,420.7 L208.8,421.6 L209.4,421.0 L210.0,417.4 L210.6,417.8 L211.2,417.4 L211.8,419.1 L212.4,417.4 L213.0,417.4 L213.6,417.4 L214.2,420.3 L214.8,422.3 L215.4,422.1 L216.0,421.0 L216.6,422.2 L217.2,417.4 L217.8,418.7 L218.4,417.4 L219.0,420.5 L219.6,422.6 L220.2,421.1 L220.8,418.1 L221.4,421.2 L222.0,417.4 L222.6,421.3 L223.2,417.4 L223.8,417.4 L224.4,418.2 L225.0,420.7 L225.6,421.8 L226.2,423.3 L226.8,423.9 L227.4,423.2 L228.0,422.8 L228.6,423.4 L229.2,423.6 L229.8,423.9 L230.4,424.0 L231.0,422.9 L231.6,423.2 L232.2,422.1 L232.8,420.5 L233.4,423.0 L234.0,423.6 L234.6,419.7 L235.2,422.4 L235.8,423.1 L236.4,422.5 L237.0,421.3 L237.6,421.9 L238.2,420.5 L238.8,417.6 L239.4,422.1 L240.0,421.2 L240.6,422.4 L241.2,420.6 L241.8,420.0 L242.4,417.4 L243.0,420.1 L243.6,421.9 L244.2,418.8 L244.8,417.4 L245.4,417.4 L246.0,418.9 L246.6,420.1 L247.2,419.5 L247.8,418.9 L248.4,419.4 L249.0,421.7 L249.6,421.3 L250.2,421.3 L250.8,422.3 L251.4,420.8 L252.0,420.8 L252.6,418.3 L253.2,421.2 L253.8,421.3 L254.4,420.2 L255.0,422.0 L255.6,422.6 L255.6,424.4 Z" fill="#ee7d1a"/>
<line x1="72" y1="424.38" x2="255.6" y2="424.38" stroke="#ee7d1a" stroke-width="0.7"/>
<path d="M264.0,424.4 L264.0,424.0 L264.6,424.0 L265.2,423.2 L265.8,423.7 L266.4,423.2 L267.0,423.8 L267.6,420.9 L268.2,422.3 L268.8,423.2 L269.4,423.7 L270.0,421.6 L270.6,420.2 L271.2,422.4 L271.8,423.3 L272.4,417.9 L273.0,418.9 L273.6,421.6 L274.2,423.1 L274.8,421.4 L275.4,417.4 L276.0,421.6 L276.6,422.5 L277.2,420.2 L277.8,420.7 L278.4,419.1 L279.0,421.1 L279.6,422.8 L280.2,419.2 L280.8,420.4 L281.4,420.3 L282.0,422.5 L282.6,423.2 L283.2,419.9 L283.8,420.7 L284.4,423.2 L285.0,423.8 L285.6,423.9 L286.2,422.9 L286.8,423.2 L287.4,423.3 L288.0,422.2 L288.6,417.4 L289.2,420.2 L289.8,422.5 L290.4,422.9 L291.0,422.3 L291.6,422.0 L292.2,422.4 L292.8,422.9 L293.4,422.0 L294.0,422.2 L294.6,422.3 L295.2,422.8 L295.8,420.5 L296.4,418.1 L297.0,420.6 L297.6,422.3 L298.2,421.4 L298.8,422.6 L299.4,422.8 L300.0,422.4 L300.6,417.4 L301.2,420.9 L301.8,420.0 L302.4,422.2 L303.0,421.1 L303.6,417.4 L304.2,417.4 L304.8,418.2 L305.4,421.0 L306.0,422.0 L306.6,420.9 L307.2,421.2 L307.8,422.1 L308.4,423.1 L309.0,419.8 L309.6,417.4 L310.2,417.4 L310.8,419.8 L311.4,422.1 L312.0,423.5 L312.6,420.4 L313.2,422.7 L313.8,423.7 L314.4,421.2 L315.0,422.6 L315.6,422.6 L316.2,423.0 L316.8,423.4 L317.4,421.6 L318.0,421.3 L318.6,422.1 L319.2,418.8 L319.8,422.2 L320.4,418.2 L321.0,421.0 L321.6,423.0 L322.2,421.0 L322.8,420.6 L323.4,421.2 L324.0,422.9 L324.6,423.1 L325.2,422.9 L325.8,422.0 L326.4,422.5 L327.0,423.3 L327.6,422.8 L328.2,422.6 L328.8,423.3 L329.4,423.1 L330.0,420.9 L330.6,421.2 L331.2,422.5 L331.8,418.6 L332.4,422.2 L333.0,423.2 L333.6,420.8 L334.2,417.4 L334.8,417.4 L335.4,419.5 L336.0,421.2 L336.6,422.3 L337.2,417.4 L337.8,419.9 L338.4,422.4 L339.0,419.7 L339.6,420.7 L340.2,418.5 L340.8,422.2 L341.4,422.9 L342.0,422.4 L342.6,422.9 L343.2,422.9 L343.8,418.6 L344.4,419.1 L345.0,418.4 L345.6,419.7 L346.2,420.8 L346.8,423.0 L347.4,420.8 L348.0,422.8 L348.6,422.5 L349.2,422.9 L349.8,423.6 L350.4,423.0 L351.0,423.8 L351.6,423.9 L352.2,422.9 L352.8,423.5 L353.4,423.4 L354.0,423.1 L354.6,423.3 L355.2,421.8 L355.8,421.0 L356.4,422.6 L357.0,423.3 L357.6,422.2 L358.2,417.4 L358.8,421.4 L359.4,419.2 L360.0,420.9 L360.6,417.4 L361.2,421.2 L361.8,422.4 L362.4,419.3 L363.0,417.4 L363.6,417.4 L364.2,417.4 L364.8,420.9 L365.4,420.5 L366.0,422.6 L366.6,420.8 L367.2,420.1 L367.8,422.0 L368.4,422.2 L369.0,417.4 L369.6,419.2 L370.2,418.8 L370.8,417.4 L371.4,417.4 L372.0,417.4 L372.6,419.9 L373.2,420.3 L373.8,422.7 L374.4,423.1 L375.0,423.5 L375.6,423.9 L376.2,424.0 L376.8,423.3 L377.4,422.6 L378.0,423.3 L378.6,423.8 L379.2,422.9 L379.8,423.4 L380.4,420.2 L381.0,422.8 L381.6,423.0 L382.2,418.3 L382.8,419.5 L383.4,421.7 L384.0,423.0 L384.6,420.9 L385.2,421.4 L385.8,422.9 L386.4,417.4 L387.0,421.8 L387.6,420.1 L388.2,421.4 L388.8,421.1 L389.4,422.9 L390.0,420.7 L390.6,417.4 L391.2,421.8 L391.8,422.4 L392.4,421.3 L393.0,421.3 L393.6,418.2 L394.2,420.5 L394.8,421.8 L395.4,417.4 L396.0,419.3 L396.6,420.3 L397.2,422.0 L397.8,423.2 L398.4,422.1 L399.0,422.5 L399.6,423.6 L400.2,422.6 L400.8,422.8 L401.4,422.6 L402.0,423.2 L402.6,423.1 L403.2,423.6 L403.8,423.5 L404.4,423.2 L405.0,423.3 L405.6,423.4 L406.2,423.4 L406.8,423.6 L407.4,423.6 L408.0,423.4 L408.6,418.4 L409.2,422.2 L409.8,422.8 L410.4,423.5 L411.0,423.1 L411.6,421.7 L412.2,422.8 L412.8,417.8 L413.4,421.5 L414.0,423.1 L414.6,420.6 L415.2,422.5 L415.8,422.7 L416.4,421.3 L417.0,422.9 L417.6,422.1 L418.2,423.6 L418.8,423.5 L419.4,423.8 L420.0,422.0 L420.6,423.3 L421.2,422.7 L421.8,422.7 L422.4,423.5 L423.0,420.7 L423.6,421.0 L424.2,422.3 L424.8,423.3 L425.4,417.9 L426.0,420.7 L426.6,422.8 L427.2,422.4 L427.8,422.8 L428.4,422.8 L429.0,420.8 L429.6,420.7 L430.2,420.8 L430.8,418.1 L431.4,421.8 L432.0,420.1 L432.6,421.2 L433.2,421.8 L433.8,419.2 L434.4,420.1 L435.0,421.9 L435.6,423.2 L436.2,420.6 L436.8,420.3 L437.4,419.4 L438.0,418.5 L438.6,418.1 L439.2,421.1 L439.8,421.3 L440.4,420.8 L441.0,420.7 L441.6,419.5 L442.2,422.3 L442.8,421.3 L443.4,421.6 L444.0,421.8 L444.6,422.1 L445.2,422.5 L445.8,417.4 L446.4,419.5 L447.0,417.4 L447.6,418.8 L448.2,419.4 L448.8,420.1 L449.4,420.5 L450.0,421.0 L450.6,422.9 L451.2,422.6 L451.8,419.7 L452.4,418.6 L453.0,422.1 L453.6,422.9 L454.2,421.5 L454.8,418.1 L455.4,421.8 L456.0,422.6 L456.6,419.9 L457.2,420.3 L457.8,422.7 L458.4,422.7 L459.0,423.1 L459.6,420.8 L460.2,422.6 L460.8,421.3 L461.4,422.7 L462.0,422.8 L462.6,423.0 L463.2,421.1 L463.8,420.6 L464.4,422.7 L465.0,421.9 L465.6,422.1 L466.2,421.7 L466.8,422.7 L467.4,422.3 L468.0,418.6 L468.6,419.8 L469.2,420.7 L469.8,422.5 L470.4,422.2 L471.0,423.4 L471.6,422.1 L472.2,423.4 L472.8,423.7 L473.4,423.9 L473.4,424.4 Z" fill="#ee7d1a"/>
<line x1="264" y1="424.38" x2="473.4" y2="424.38" stroke="#ee7d1a" stroke-width="0.7"/>
<path d="M72.0,434.4 L72.0,432.2 L72.6,432.9 L73.2,433.0 L73.8,432.9 L74.4,428.5 L75.0,427.4 L75.6,427.4 L76.2,427.4 L76.8,428.7 L77.4,430.0 L78.0,432.5 L78.6,433.0 L79.2,433.7 L79.8,434.0 L80.4,432.3 L81.0,432.2 L81.6,430.7 L82.2,432.1 L82.8,432.8 L83.4,433.6 L84.0,432.2 L84.6,433.0 L85.2,431.9 L85.8,432.0 L86.4,431.9 L87.0,432.4 L87.6,431.7 L88.2,432.8 L88.8,432.1 L89.4,432.6 L90.0,432.4 L90.6,428.8 L91.2,429.7 L91.8,431.2 L92.4,432.0 L93.0,433.1 L93.6,431.2 L94.2,432.5 L94.8,433.0 L95.4,431.0 L96.0,432.3 L96.6,431.9 L97.2,433.2 L97.8,431.9 L98.4,429.3 L99.0,431.5 L99.6,430.9 L100.2,432.1 L100.8,431.9 L101.4,432.8 L102.0,433.3 L102.6,430.7 L103.2,432.0 L103.8,430.8 L104.4,432.9 L105.0,433.5 L105.6,433.3 L106.2,433.1 L106.8,433.8 L107.4,434.0 L108.0,433.3 L108.6,433.8 L109.2,433.8 L109.8,430.5 L110.4,429.3 L111.0,429.9 L111.6,432.5 L112.2,428.7 L112.8,432.0 L113.4,431.1 L114.0,432.7 L114.6,429.3 L115.2,432.5 L115.8,433.5 L116.4,433.5 L117.0,432.4 L117.6,433.4 L118.2,432.1 L118.8,430.9 L119.4,430.7 L120.0,430.4 L120.6,431.3 L121.2,432.2 L121.8,432.4 L122.4,433.1 L123.0,432.6 L123.6,432.4 L124.2,432.7 L124.8,430.8 L125.4,431.3 L126.0,432.9 L126.6,431.2 L127.2,432.9 L127.8,433.1 L128.4,433.8 L129.0,433.0 L129.6,433.8 L130.2,433.9 L130.8,432.2 L131.4,430.8 L132.0,432.2 L132.6,431.1 L133.2,432.1 L133.8,433.3 L134.4,433.4 L135.0,431.8 L135.6,430.0 L136.2,431.4 L136.8,427.4 L137.4,427.4 L138.0,431.8 L138.6,432.9 L139.2,430.8 L139.8,427.4 L140.4,429.4 L141.0,428.9 L141.6,430.0 L142.2,429.9 L142.8,432.4 L143.4,428.5 L144.0,427.7 L144.6,427.4 L145.2,427.4 L145.8,427.4 L146.4,431.7 L147.0,430.8 L147.6,432.8 L148.2,429.9 L148.8,427.4 L149.4,430.8 L150.0,432.6 L150.6,429.1 L151.2,427.4 L151.8,431.3 L152.4,429.1 L153.0,429.6 L153.6,432.5 L154.2,431.1 L154.8,427.4 L155.4,429.4 L156.0,432.4 L156.6,433.1 L157.2,430.0 L157.8,427.4 L158.4,429.9 L159.0,429.5 L159.6,430.3 L160.2,430.8 L160.8,429.8 L161.4,431.1 L162.0,431.8 L162.6,431.5 L163.2,429.7 L163.8,430.5 L164.4,432.2 L165.0,432.7 L165.6,433.3 L166.2,430.3 L166.8,431.6 L167.4,432.8 L168.0,427.4 L168.6,429.4 L169.2,428.0 L169.8,430.8 L170.4,432.1 L171.0,432.5 L171.6,430.7 L172.2,427.4 L172.8,430.8 L173.4,431.7 L174.0,432.1 L174.6,432.2 L175.2,432.2 L175.8,432.7 L176.4,433.8 L177.0,433.0 L177.6,433.3 L178.2,431.4 L178.8,431.3 L179.4,431.4 L180.0,427.4 L180.6,429.3 L181.2,432.3 L181.8,428.8 L182.4,431.3 L183.0,432.1 L183.6,432.9 L184.2,431.3 L184.8,432.1 L185.4,432.5 L186.0,433.0 L186.6,431.2 L187.2,432.7 L187.8,432.8 L188.4,433.8 L189.0,434.0 L189.6,433.7 L190.2,432.6 L190.8,432.4 L191.4,433.1 L192.0,433.5 L192.6,433.1 L193.2,431.4 L193.8,433.1 L194.4,432.8 L195.0,433.7 L195.6,433.4 L196.2,433.7 L196.8,429.7 L197.4,432.3 L198.0,432.4 L198.6,430.3 L199.2,431.7 L199.8,431.7 L200.4,431.4 L201.0,429.8 L201.6,427.7 L202.2,429.9 L202.8,430.7 L203.4,432.0 L204.0,428.7 L204.6,427.4 L205.2,427.4 L205.8,430.9 L206.4,427.4 L207.0,427.4 L207.6,427.4 L208.2,430.5 L208.8,429.8 L209.4,431.9 L210.0,430.1 L210.6,432.1 L211.2,427.5 L211.8,429.6 L212.4,427.4 L213.0,430.3 L213.6,430.0 L214.2,431.9 L214.8,432.3 L215.4,432.3 L216.0,430.6 L216.6,432.6 L217.2,427.4 L217.8,429.6 L218.4,429.8 L219.0,430.7 L219.6,427.4 L220.2,427.4 L220.8,431.0 L221.4,431.4 L222.0,432.7 L222.6,431.5 L223.2,433.0 L223.8,432.8 L224.4,431.4 L225.0,432.4 L225.6,433.1 L226.2,432.8 L226.8,433.5 L227.4,433.9 L228.0,432.9 L228.6,432.7 L229.2,433.6 L229.8,433.9 L230.4,432.0 L231.0,432.8 L231.6,433.7 L232.2,433.6 L232.8,431.3 L233.4,433.1 L234.0,433.4 L234.6,431.0 L235.2,432.1 L235.8,433.0 L236.4,433.3 L237.0,433.7 L237.6,433.6 L238.2,432.6 L238.8,432.8 L239.4,433.5 L240.0,431.7 L240.6,429.3 L241.2,432.2 L241.8,429.8 L242.4,428.7 L243.0,432.0 L243.6,429.4 L244.2,431.1 L244.8,427.4 L245.4,428.1 L246.0,428.5 L246.6,427.6 L247.2,431.8 L247.8,429.7 L248.4,432.3 L249.0,432.1 L249.6,430.8 L250.2,432.5 L250.8,428.6 L251.4,432.2 L252.0,431.9 L252.6,433.1 L253.2,431.0 L253.8,429.6 L254.4,431.9 L255.0,433.4 L255.6,432.0 L255.6,434.4 Z" fill="#ee7d1a"/>
<line x1="72" y1="434.41" x2="255.6" y2="434.41" stroke="#ee7d1a" stroke-width="0.7"/>
<path d="M264.0,434.4 L264.0,432.7 L264.6,432.9 L265.2,432.7 L265.8,433.8 L266.4,433.1 L267.0,432.7 L267.6,433.2 L268.2,433.2 L268.8,433.5 L269.4,433.2 L270.0,432.5 L270.6,430.6 L271.2,431.7 L271.8,432.3 L272.4,432.8 L273.0,431.1 L273.6,432.5 L274.2,433.4 L274.8,432.2 L275.4,432.1 L276.0,430.1 L276.6,431.8 L277.2,431.2 L277.8,432.4 L278.4,432.3 L279.0,433.3 L279.6,432.7 L280.2,433.2 L280.8,432.9 L281.4,433.2 L282.0,432.0 L282.6,432.9 L283.2,433.1 L283.8,433.3 L284.4,433.0 L285.0,433.4 L285.6,432.7 L286.2,432.3 L286.8,432.8 L287.4,431.9 L288.0,431.1 L288.6,432.9 L289.2,432.0 L289.8,432.2 L290.4,431.8 L291.0,431.4 L291.6,427.4 L292.2,427.4 L292.8,430.3 L293.4,432.4 L294.0,428.4 L294.6,430.3 L295.2,432.4 L295.8,431.8 L296.4,432.3 L297.0,427.4 L297.6,427.5 L298.2,429.5 L298.8,432.2 L299.4,427.4 L300.0,429.3 L300.6,432.1 L301.2,429.1 L301.8,427.4 L302.4,427.9 L303.0,428.2 L303.6,427.4 L304.2,427.6 L304.8,428.5 L305.4,427.4 L306.0,427.7 L306.6,429.8 L307.2,431.2 L307.8,430.1 L308.4,428.5 L309.0,428.7 L309.6,431.8 L310.2,432.4 L310.8,431.9 L311.4,433.2 L312.0,432.6 L312.6,433.5 L313.2,433.6 L313.8,433.7 L314.4,433.8 L315.0,432.4 L315.6,433.3 L316.2,433.8 L316.8,431.8 L317.4,431.0 L318.0,433.0 L318.6,433.4 L319.2,433.6 L319.8,432.5 L320.4,431.6 L321.0,432.7 L321.6,430.8 L322.2,432.8 L322.8,433.0 L323.4,433.1 L324.0,433.4 L324.6,433.2 L325.2,432.9 L325.8,433.4 L326.4,433.7 L327.0,432.8 L327.6,432.5 L328.2,432.1 L328.8,433.1 L329.4,428.4 L330.0,432.0 L330.6,432.8 L331.2,431.7 L331.8,430.7 L332.4,432.5 L333.0,428.2 L333.6,430.4 L334.2,429.4 L334.8,430.9 L335.4,431.3 L336.0,431.7 L336.6,431.9 L337.2,431.9 L337.8,430.9 L338.4,430.4 L339.0,431.3 L339.6,432.9 L340.2,433.4 L340.8,433.1 L341.4,433.4 L342.0,433.0 L342.6,431.1 L343.2,428.1 L343.8,432.1 L344.4,432.6 L345.0,432.1 L345.6,433.0 L346.2,430.1 L346.8,427.4 L347.4,429.1 L348.0,430.1 L348.6,432.6 L349.2,433.5 L349.8,433.9 L350.4,433.5 L351.0,433.5 L351.6,433.9 L352.2,433.0 L352.8,433.4 L353.4,433.0 L354.0,431.9 L354.6,433.5 L355.2,433.1 L355.8,431.3 L356.4,430.8 L357.0,432.1 L357.6,431.8 L358.2,432.6 L358.8,432.7 L359.4,432.5 L360.0,433.1 L360.6,430.6 L361.2,432.7 L361.8,430.9 L362.4,429.3 L363.0,427.4 L363.6,427.7 L364.2,430.3 L364.8,431.0 L365.4,428.7 L366.0,429.7 L366.6,431.0 L367.2,432.2 L367.8,432.2 L368.4,431.5 L369.0,429.6 L369.6,431.2 L370.2,431.9 L370.8,430.5 L371.4,432.4 L372.0,431.9 L372.6,427.4 L373.2,430.5 L373.8,431.3 L374.4,432.5 L375.0,433.4 L375.6,433.9 L376.2,434.1 L376.8,434.1 L377.4,433.6 L378.0,433.5 L378.6,433.2 L379.2,433.2 L379.8,432.6 L380.4,431.4 L381.0,431.3 L381.6,430.8 L382.2,432.7 L382.8,428.7 L383.4,430.4 L384.0,427.6 L384.6,428.3 L385.2,431.8 L385.8,429.1 L386.4,432.3 L387.0,429.5 L387.6,428.5 L388.2,432.2 L388.8,431.2 L389.4,432.8 L390.0,431.0 L390.6,430.9 L391.2,428.5 L391.8,431.8 L392.4,432.2 L393.0,431.8 L393.6,433.1 L394.2,431.8 L394.8,431.9 L395.4,432.0 L396.0,432.7 L396.6,432.5 L397.2,429.2 L397.8,431.5 L398.4,432.3 L399.0,432.9 L399.6,431.4 L400.2,432.5 L400.8,433.6 L401.4,433.9 L402.0,434.0 L402.6,434.0 L403.2,431.5 L403.8,433.4 L404.4,433.4 L405.0,433.3 L405.6,433.6 L406.2,433.6 L406.8,433.6 L407.4,433.6 L408.0,433.3 L408.6,432.0 L409.2,431.3 L409.8,432.7 L410.4,432.9 L411.0,433.3 L411.6,433.2 L412.2,432.8 L412.8,431.8 L413.4,433.3 L414.0,433.6 L414.6,433.5 L415.2,431.5 L415.8,430.6 L416.4,432.4 L417.0,431.9 L417.6,433.5 L418.2,432.9 L418.8,433.7 L419.4,434.0 L420.0,433.9 L420.6,433.0 L421.2,431.5 L421.8,433.4 L422.4,432.3 L423.0,433.4 L423.6,433.5 L424.2,433.1 L424.8,429.0 L425.4,430.3 L426.0,429.3 L426.6,431.4 L427.2,430.5 L427.8,432.5 L428.4,429.2 L429.0,432.4 L429.6,432.7 L430.2,432.6 L430.8,433.3 L431.4,432.9 L432.0,432.0 L432.6,431.4 L433.2,427.8 L433.8,428.4 L434.4,431.6 L435.0,433.1 L435.6,429.0 L436.2,429.2 L436.8,431.3 L437.4,431.7 L438.0,432.2 L438.6,432.3 L439.2,433.1 L439.8,433.1 L440.4,432.8 L441.0,429.5 L441.6,431.9 L442.2,427.4 L442.8,430.4 L443.4,431.8 L444.0,429.9 L444.6,431.6 L445.2,431.1 L445.8,429.9 L446.4,427.4 L447.0,431.1 L447.6,428.6 L448.2,427.4 L448.8,428.2 L449.4,427.4 L450.0,427.4 L450.6,428.7 L451.2,427.4 L451.8,429.7 L452.4,432.4 L453.0,431.0 L453.6,431.6 L454.2,427.4 L454.8,431.1 L455.4,431.3 L456.0,432.8 L456.6,432.3 L457.2,431.3 L457.8,432.5 L458.4,433.2 L459.0,432.0 L459.6,427.5 L460.2,431.8 L460.8,432.1 L461.4,431.5 L462.0,429.0 L462.6,428.5 L463.2,427.4 L463.8,430.4 L464.4,430.9 L465.0,427.6 L465.6,427.4 L466.2,429.8 L466.8,430.9 L467.4,431.5 L468.0,427.4 L468.6,427.4 L469.2,427.4 L469.8,430.2 L470.4,432.6 L471.0,430.0 L471.6,432.6 L472.2,433.6 L472.8,433.9 L473.4,431.8 L473.4,434.4 Z" fill="#ee7d1a"/>
<line x1="264" y1="434.41" x2="473.4" y2="434.41" stroke="#ee7d1a" stroke-width="0.7"/>
<path d="M72.0,444.4 L72.0,444.1 L72.6,443.7 L73.2,442.7 L73.8,443.0 L74.4,442.1 L75.0,442.9 L75.6,441.5 L76.2,441.1 L76.8,442.2 L77.4,440.8 L78.0,443.3 L78.6,441.5 L79.2,443.2 L79.8,443.8 L80.4,443.8 L81.0,443.7 L81.6,444.1 L82.2,443.4 L82.8,443.3 L83.4,443.4 L84.0,443.3 L84.6,442.4 L85.2,443.3 L85.8,443.3 L86.4,441.6 L87.0,441.7 L87.6,443.4 L88.2,443.8 L88.8,441.8 L89.4,442.6 L90.0,443.7 L90.6,443.8 L91.2,443.6 L91.8,443.4 L92.4,443.6 L93.0,443.6 L93.6,443.1 L94.2,441.2 L94.8,442.1 L95.4,440.6 L96.0,443.2 L96.6,443.5 L97.2,441.6 L97.8,442.6 L98.4,443.3 L99.0,443.6 L99.6,442.1 L100.2,438.2 L100.8,441.6 L101.4,442.2 L102.0,442.4 L102.6,442.5 L103.2,443.2 L103.8,442.6 L104.4,443.0 L105.0,442.2 L105.6,442.2 L106.2,443.5 L106.8,443.6 L107.4,443.7 L108.0,444.0 L108.6,443.9 L109.2,440.9 L109.8,442.9 L110.4,443.7 L111.0,443.4 L111.6,443.0 L112.2,442.1 L112.8,443.1 L113.4,442.8 L114.0,443.4 L114.6,439.4 L115.2,442.2 L115.8,441.8 L116.4,440.7 L117.0,441.8 L117.6,442.8 L118.2,442.4 L118.8,442.7 L119.4,442.4 L120.0,439.8 L120.6,442.5 L121.2,443.2 L121.8,443.5 L122.4,443.3 L123.0,442.0 L123.6,443.2 L124.2,443.1 L124.8,437.4 L125.4,442.2 L126.0,443.5 L126.6,444.0 L127.2,443.0 L127.8,443.9 L128.4,443.8 L129.0,443.4 L129.6,443.6 L130.2,443.5 L130.8,443.4 L131.4,444.0 L132.0,443.1 L132.6,442.6 L133.2,438.7 L133.8,441.9 L134.4,442.4 L135.0,443.4 L135.6,443.0 L136.2,443.6 L136.8,442.4 L137.4,443.2 L138.0,441.2 L138.6,442.7 L139.2,443.2 L139.8,442.8 L140.4,440.4 L141.0,442.0 L141.6,437.4 L142.2,439.7 L142.8,442.3 L143.4,440.6 L144.0,442.7 L144.6,440.8 L145.2,441.5 L145.8,441.4 L146.4,438.2 L147.0,440.7 L147.6,442.0 L148.2,442.6 L148.8,441.6 L149.4,440.7 L150.0,441.8 L150.6,441.5 L151.2,440.9 L151.8,441.8 L152.4,443.2 L153.0,442.1 L153.6,443.4 L154.2,443.0 L154.8,441.8 L155.4,442.0 L156.0,438.8 L156.6,441.7 L157.2,441.4 L157.8,439.7 L158.4,440.7 L159.0,442.2 L159.6,439.3 L160.2,437.4 L160.8,439.9 L161.4,437.4 L162.0,437.4 L162.6,440.6 L163.2,443.0 L163.8,443.3 L164.4,439.3 L165.0,441.2 L165.6,443.2 L166.2,441.6 L166.8,439.8 L167.4,440.5 L168.0,440.1 L168.6,439.6 L169.2,442.3 L169.8,441.4 L170.4,443.0 L171.0,441.3 L171.6,441.0 L172.2,440.3 L172.8,440.4 L173.4,439.1 L174.0,442.7 L174.6,442.3 L175.2,442.5 L175.8,443.4 L176.4,443.7 L177.0,444.0 L177.6,443.9 L178.2,444.0 L178.8,443.1 L179.4,443.5 L180.0,443.7 L180.6,439.6 L181.2,442.8 L181.8,442.5 L182.4,443.6 L183.0,442.8 L183.6,443.4 L184.2,443.8 L184.8,443.9 L185.4,444.0 L186.0,443.5 L186.6,443.3 L187.2,443.5 L187.8,443.1 L188.4,443.3 L189.0,443.6 L189.6,444.1 L190.2,443.6 L190.8,442.7 L191.4,442.4 L192.0,443.5 L192.6,443.5 L193.2,442.6 L193.8,443.7 L194.4,443.9 L195.0,443.9 L195.6,443.5 L196.2,444.0 L196.8,444.1 L197.4,443.3 L198.0,443.8 L198.6,443.2 L199.2,442.9 L199.8,442.3 L200.4,442.8 L201.0,443.0 L201.6,439.7 L202.2,441.6 L202.8,442.5 L203.4,442.7 L204.0,439.0 L204.6,440.8 L205.2,441.4 L205.8,439.6 L206.4,442.5 L207.0,439.9 L207.6,441.4 L208.2,442.8 L208.8,440.1 L209.4,442.2 L210.0,443.1 L210.6,442.1 L211.2,442.8 L211.8,441.8 L212.4,440.6 L213.0,441.2 L213.6,437.4 L214.2,441.3 L214.8,440.6 L215.4,442.3 L216.0,442.8 L216.6,443.4 L217.2,443.6 L217.8,443.5 L218.4,442.8 L219.0,440.9 L219.6,441.1 L220.2,440.0 L220.8,439.5 L221.4,442.2 L222.0,442.3 L222.6,441.0 L223.2,441.1 L223.8,441.4 L224.4,442.1 L225.0,442.1 L225.6,443.2 L226.2,442.6 L226.8,443.2 L227.4,443.5 L228.0,443.5 L228.6,443.8 L229.2,441.3 L229.8,441.5 L230.4,443.1 L231.0,443.7 L231.6,441.2 L232.2,443.0 L232.8,443.7 L233.4,440.5 L234.0,441.6 L234.6,443.3 L235.2,442.5 L235.8,443.6 L236.4,443.6 L237.0,443.1 L237.6,440.5 L238.2,442.1 L238.8,442.6 L239.4,443.4 L240.0,441.7 L240.6,440.4 L241.2,442.4 L241.8,441.4 L242.4,440.2 L243.0,442.3 L243.6,443.2 L244.2,438.7 L244.8,441.7 L245.4,442.0 L246.0,440.2 L246.6,438.8 L247.2,440.2 L247.8,440.8 L248.4,440.6 L249.0,440.5 L249.6,440.5 L250.2,437.4 L250.8,438.1 L251.4,437.4 L252.0,441.8 L252.6,441.7 L253.2,441.9 L253.8,438.7 L254.4,442.1 L255.0,442.6 L255.6,443.4 L255.6,444.4 Z" fill="#f2b33a"/>
<line x1="72" y1="444.44" x2="255.6" y2="444.44" stroke="#f2b33a" stroke-width="0.7"/>
<path d="M264.0,444.4 L264.0,443.4 L264.6,443.9 L265.2,444.1 L265.8,443.9 L266.4,443.1 L267.0,443.7 L267.6,442.6 L268.2,443.1 L268.8,443.2 L269.4,443.0 L270.0,442.9 L270.6,442.9 L271.2,441.8 L271.8,442.0 L272.4,442.6 L273.0,443.6 L273.6,443.6 L274.2,443.7 L274.8,441.0 L275.4,438.8 L276.0,442.0 L276.6,441.5 L277.2,443.3 L277.8,441.2 L278.4,443.2 L279.0,441.5 L279.6,442.1 L280.2,440.9 L280.8,441.5 L281.4,442.7 L282.0,443.6 L282.6,443.8 L283.2,442.3 L283.8,442.9 L284.4,443.9 L285.0,443.1 L285.6,443.9 L286.2,444.1 L286.8,441.2 L287.4,439.7 L288.0,442.1 L288.6,440.5 L289.2,442.5 L289.8,443.0 L290.4,440.2 L291.0,442.0 L291.6,443.0 L292.2,438.4 L292.8,440.5 L293.4,439.0 L294.0,437.4 L294.6,439.2 L295.2,442.1 L295.8,442.7 L296.4,438.0 L297.0,440.2 L297.6,442.1 L298.2,439.5 L298.8,437.4 L299.4,441.6 L300.0,441.0 L300.6,437.4 L301.2,440.6 L301.8,438.1 L302.4,440.3 L303.0,438.0 L303.6,441.7 L304.2,440.6 L304.8,442.0 L305.4,442.8 L306.0,439.3 L306.6,442.4 L307.2,443.1 L307.8,439.0 L308.4,442.2 L309.0,437.4 L309.6,440.8 L310.2,441.3 L310.8,441.8 L311.4,443.1 L312.0,443.6 L312.6,443.8 L313.2,444.0 L313.8,443.8 L314.4,443.3 L315.0,444.0 L315.6,444.1 L316.2,443.9 L316.8,443.4 L317.4,443.7 L318.0,443.9 L318.6,444.0 L319.2,442.0 L319.8,442.0 L320.4,443.4 L321.0,443.7 L321.6,443.6 L322.2,442.4 L322.8,443.0 L323.4,443.8 L324.0,443.7 L324.6,441.5 L325.2,442.8 L325.8,439.6 L326.4,442.3 L327.0,442.0 L327.6,442.0 L328.2,441.8 L328.8,439.7 L329.4,441.9 L330.0,443.1 L330.6,442.1 L331.2,441.8 L331.8,442.2 L332.4,438.7 L333.0,442.4 L333.6,441.0 L334.2,440.6 L334.8,441.9 L335.4,441.3 L336.0,439.2 L336.6,440.6 L337.2,439.3 L337.8,442.2 L338.4,443.2 L339.0,442.4 L339.6,443.6 L340.2,442.4 L340.8,443.4 L341.4,443.3 L342.0,442.6 L342.6,443.6 L343.2,443.7 L343.8,441.7 L344.4,443.1 L345.0,441.9 L345.6,443.1 L346.2,439.8 L346.8,441.5 L347.4,442.0 L348.0,442.6 L348.6,443.0 L349.2,442.9 L349.8,443.8 L350.4,441.8 L351.0,441.1 L351.6,443.2 L352.2,444.0 L352.8,443.5 L353.4,443.0 L354.0,443.2 L354.6,443.1 L355.2,442.0 L355.8,440.6 L356.4,442.9 L357.0,441.5 L357.6,441.9 L358.2,440.8 L358.8,441.0 L359.4,442.2 L360.0,441.4 L360.6,442.5 L361.2,442.9 L361.8,441.0 L362.4,441.2 L363.0,442.8 L363.6,443.5 L364.2,441.6 L364.8,443.1 L365.4,442.8 L366.0,441.1 L366.6,442.1 L367.2,440.6 L367.8,438.7 L368.4,441.7 L369.0,442.3 L369.6,440.7 L370.2,441.0 L370.8,441.6 L371.4,441.2 L372.0,440.1 L372.6,441.5 L373.2,443.0 L373.8,443.5 L374.4,442.0 L375.0,442.6 L375.6,443.5 L376.2,443.6 L376.8,442.5 L377.4,442.9 L378.0,443.6 L378.6,444.0 L379.2,442.7 L379.8,441.4 L380.4,442.4 L381.0,442.8 L381.6,437.4 L382.2,438.1 L382.8,441.8 L383.4,443.1 L384.0,438.1 L384.6,441.5 L385.2,442.6 L385.8,438.4 L386.4,441.6 L387.0,441.7 L387.6,438.5 L388.2,441.1 L388.8,442.6 L389.4,439.2 L390.0,441.2 L390.6,442.9 L391.2,438.8 L391.8,440.0 L392.4,442.4 L393.0,443.3 L393.6,439.1 L394.2,442.6 L394.8,440.5 L395.4,437.4 L396.0,441.2 L396.6,442.8 L397.2,443.3 L397.8,442.6 L398.4,442.7 L399.0,442.8 L399.6,443.7 L400.2,444.0 L400.8,443.8 L401.4,443.8 L402.0,443.8 L402.6,443.9 L403.2,443.9 L403.8,443.5 L404.4,442.4 L405.0,442.6 L405.6,443.1 L406.2,442.9 L406.8,443.5 L407.4,443.8 L408.0,442.8 L408.6,443.0 L409.2,443.1 L409.8,438.8 L410.4,437.6 L411.0,441.7 L411.6,443.3 L412.2,440.2 L412.8,440.6 L413.4,440.2 L414.0,441.2 L414.6,442.9 L415.2,441.9 L415.8,441.3 L416.4,442.9 L417.0,441.4 L417.6,442.9 L418.2,443.3 L418.8,443.5 L419.4,442.7 L420.0,443.7 L420.6,441.5 L421.2,442.8 L421.8,442.5 L422.4,443.2 L423.0,441.2 L423.6,441.3 L424.2,442.0 L424.8,439.9 L425.4,438.5 L426.0,438.7 L426.6,439.9 L427.2,437.4 L427.8,441.5 L428.4,443.2 L429.0,443.5 L429.6,442.9 L430.2,442.4 L430.8,441.9 L431.4,441.3 L432.0,443.0 L432.6,442.1 L433.2,442.7 L433.8,440.9 L434.4,440.7 L435.0,441.6 L435.6,439.3 L436.2,442.0 L436.8,441.8 L437.4,443.3 L438.0,443.5 L438.6,442.0 L439.2,438.8 L439.8,442.4 L440.4,442.5 L441.0,443.4 L441.6,442.5 L442.2,442.3 L442.8,438.4 L443.4,442.0 L444.0,443.0 L444.6,443.2 L445.2,440.4 L445.8,442.4 L446.4,441.6 L447.0,440.9 L447.6,440.5 L448.2,442.2 L448.8,443.3 L449.4,443.1 L450.0,442.9 L450.6,443.4 L451.2,443.0 L451.8,441.3 L452.4,439.2 L453.0,439.4 L453.6,440.6 L454.2,442.9 L454.8,437.9 L455.4,442.2 L456.0,440.6 L456.6,441.6 L457.2,441.3 L457.8,443.1 L458.4,442.1 L459.0,441.3 L459.6,441.6 L460.2,442.8 L460.8,441.9 L461.4,442.6 L462.0,443.2 L462.6,442.9 L463.2,442.6 L463.8,438.2 L464.4,441.0 L465.0,442.7 L465.6,443.4 L466.2,443.6 L466.8,439.8 L467.4,442.3 L468.0,443.0 L468.6,443.0 L469.2,442.8 L469.8,442.7 L470.4,441.5 L471.0,442.1 L471.6,442.0 L472.2,442.9 L472.8,443.6 L473.4,443.1 L473.4,444.4 Z" fill="#f2b33a"/>
<line x1="264" y1="444.44" x2="473.4" y2="444.44" stroke="#f2b33a" stroke-width="0.7"/>
<path d="M72.0,454.5 L72.0,452.4 L72.6,453.2 L73.2,450.2 L73.8,450.8 L74.4,447.5 L75.0,448.6 L75.6,450.8 L76.2,452.7 L76.8,452.2 L77.4,447.8 L78.0,449.3 L78.6,452.8 L79.2,452.7 L79.8,453.7 L80.4,453.5 L81.0,453.7 L81.6,453.9 L82.2,453.7 L82.8,453.2 L83.4,453.2 L84.0,453.7 L84.6,454.0 L85.2,454.2 L85.8,452.1 L86.4,453.0 L87.0,453.3 L87.6,453.4 L88.2,453.9 L88.8,453.8 L89.4,450.4 L90.0,452.7 L90.6,452.9 L91.2,450.8 L91.8,452.3 L92.4,453.4 L93.0,453.9 L93.6,453.8 L94.2,453.9 L94.8,453.8 L95.4,453.8 L96.0,453.6 L96.6,453.3 L97.2,453.4 L97.8,453.4 L98.4,453.1 L99.0,453.6 L99.6,450.5 L100.2,452.9 L100.8,452.8 L101.4,453.3 L102.0,453.2 L102.6,453.9 L103.2,449.8 L103.8,451.3 L104.4,453.5 L105.0,453.8 L105.6,452.3 L106.2,452.7 L106.8,453.3 L107.4,452.7 L108.0,453.8 L108.6,453.0 L109.2,453.7 L109.8,453.7 L110.4,451.2 L111.0,452.9 L111.6,453.0 L112.2,452.7 L112.8,453.1 L113.4,452.0 L114.0,449.9 L114.6,452.0 L115.2,453.0 L115.8,451.7 L116.4,453.1 L117.0,453.8 L117.6,451.4 L118.2,453.1 L118.8,453.7 L119.4,452.6 L120.0,453.7 L120.6,452.5 L121.2,451.6 L121.8,453.2 L122.4,451.9 L123.0,452.5 L123.6,453.4 L124.2,453.8 L124.8,453.9 L125.4,453.4 L126.0,451.7 L126.6,453.0 L127.2,453.4 L127.8,453.7 L128.4,453.5 L129.0,453.3 L129.6,453.8 L130.2,454.0 L130.8,454.1 L131.4,453.0 L132.0,452.9 L132.6,453.7 L133.2,451.2 L133.8,451.6 L134.4,453.3 L135.0,452.0 L135.6,453.4 L136.2,452.7 L136.8,449.2 L137.4,450.9 L138.0,452.8 L138.6,453.3 L139.2,448.2 L139.8,452.4 L140.4,452.8 L141.0,453.2 L141.6,452.9 L142.2,452.6 L142.8,449.8 L143.4,451.8 L144.0,451.9 L144.6,449.9 L145.2,451.4 L145.8,452.8 L146.4,449.3 L147.0,449.9 L147.6,452.6 L148.2,451.9 L148.8,447.5 L149.4,451.6 L150.0,450.0 L150.6,448.8 L151.2,451.4 L151.8,449.4 L152.4,449.3 L153.0,451.3 L153.6,449.2 L154.2,451.9 L154.8,451.8 L155.4,453.1 L156.0,451.2 L156.6,451.6 L157.2,452.6 L157.8,451.3 L158.4,452.3 L159.0,452.0 L159.6,453.2 L160.2,452.4 L160.8,453.2 L161.4,452.2 L162.0,451.6 L162.6,451.9 L163.2,451.6 L163.8,449.2 L164.4,452.0 L165.0,450.7 L165.6,449.8 L166.2,452.2 L166.8,453.2 L167.4,450.6 L168.0,447.5 L168.6,449.5 L169.2,452.4 L169.8,451.2 L170.4,451.6 L171.0,452.2 L171.6,452.4 L172.2,452.3 L172.8,451.2 L173.4,450.5 L174.0,453.0 L174.6,453.2 L175.2,453.3 L175.8,453.1 L176.4,452.4 L177.0,453.3 L177.6,453.0 L178.2,453.9 L178.8,450.9 L179.4,450.9 L180.0,452.6 L180.6,452.2 L181.2,453.3 L181.8,453.3 L182.4,452.8 L183.0,451.9 L183.6,451.1 L184.2,452.2 L184.8,452.9 L185.4,452.4 L186.0,451.8 L186.6,452.5 L187.2,453.6 L187.8,452.1 L188.4,452.2 L189.0,453.5 L189.6,452.0 L190.2,453.6 L190.8,451.7 L191.4,453.5 L192.0,453.8 L192.6,453.1 L193.2,453.8 L193.8,454.1 L194.4,454.1 L195.0,451.7 L195.6,453.5 L196.2,452.2 L196.8,453.2 L197.4,453.1 L198.0,453.5 L198.6,453.6 L199.2,453.5 L199.8,453.7 L200.4,453.0 L201.0,448.8 L201.6,450.7 L202.2,452.4 L202.8,452.6 L203.4,452.4 L204.0,450.4 L204.6,447.9 L205.2,447.5 L205.8,450.2 L206.4,452.4 L207.0,452.0 L207.6,451.6 L208.2,452.3 L208.8,449.2 L209.4,451.6 L210.0,448.3 L210.6,450.7 L211.2,452.2 L211.8,453.2 L212.4,452.1 L213.0,452.2 L213.6,449.8 L214.2,449.5 L214.8,450.9 L215.4,451.1 L216.0,447.5 L216.6,451.6 L217.2,453.1 L217.8,450.5 L218.4,452.2 L219.0,450.5 L219.6,448.2 L220.2,452.2 L220.8,447.5 L221.4,448.5 L222.0,450.4 L222.6,447.5 L223.2,451.6 L223.8,452.6 L224.4,452.0 L225.0,450.2 L225.6,452.0 L226.2,452.4 L226.8,452.4 L227.4,453.0 L228.0,453.4 L228.6,453.6 L229.2,453.9 L229.8,452.1 L230.4,453.4 L231.0,453.5 L231.6,453.5 L232.2,449.5 L232.8,452.5 L233.4,451.0 L234.0,453.0 L234.6,452.6 L235.2,453.3 L235.8,448.7 L236.4,451.8 L237.0,453.0 L237.6,453.1 L238.2,453.2 L238.8,453.6 L239.4,450.1 L240.0,451.5 L240.6,449.4 L241.2,451.8 L241.8,451.2 L242.4,453.1 L243.0,452.5 L243.6,449.3 L244.2,451.6 L244.8,452.4 L245.4,452.1 L246.0,452.8 L246.6,452.1 L247.2,451.1 L247.8,451.4 L248.4,452.6 L249.0,452.3 L249.6,447.5 L250.2,450.8 L250.8,447.5 L251.4,449.6 L252.0,450.8 L252.6,452.9 L253.2,447.5 L253.8,451.4 L254.4,453.4 L255.0,453.1 L255.6,453.9 L255.6,454.5 Z" fill="#f2b33a"/>
<line x1="72" y1="454.47" x2="255.6" y2="454.47" stroke="#f2b33a" stroke-width="0.7"/>
<path d="M264.0,454.5 L264.0,453.8 L264.6,454.0 L265.2,452.0 L265.8,452.9 L266.4,453.3 L267.0,452.0 L267.6,453.6 L268.2,452.8 L268.8,453.6 L269.4,453.7 L270.0,453.5 L270.6,452.3 L271.2,450.0 L271.8,451.4 L272.4,452.8 L273.0,453.5 L273.6,453.4 L274.2,453.5 L274.8,452.8 L275.4,452.6 L276.0,453.5 L276.6,453.5 L277.2,450.8 L277.8,451.4 L278.4,453.2 L279.0,451.0 L279.6,452.4 L280.2,453.0 L280.8,451.7 L281.4,452.1 L282.0,452.9 L282.6,453.3 L283.2,453.2 L283.8,452.5 L284.4,452.9 L285.0,453.8 L285.6,454.1 L286.2,453.7 L286.8,453.5 L287.4,451.5 L288.0,451.6 L288.6,453.0 L289.2,452.4 L289.8,451.5 L290.4,451.6 L291.0,452.4 L291.6,450.3 L292.2,451.9 L292.8,447.5 L293.4,448.7 L294.0,450.4 L294.6,448.1 L295.2,450.9 L295.8,447.5 L296.4,449.4 L297.0,450.3 L297.6,452.0 L298.2,452.0 L298.8,451.1 L299.4,448.4 L300.0,451.9 L300.6,447.5 L301.2,447.5 L301.8,450.5 L302.4,449.0 L303.0,451.3 L303.6,452.4 L304.2,447.5 L304.8,449.3 L305.4,450.8 L306.0,449.9 L306.6,450.4 L307.2,447.5 L307.8,447.5 L308.4,449.6 L309.0,452.5 L309.6,449.8 L310.2,452.5 L310.8,452.9 L311.4,453.4 L312.0,452.8 L312.6,453.7 L313.2,452.9 L313.8,453.3 L314.4,453.3 L315.0,453.0 L315.6,453.6 L316.2,453.9 L316.8,452.6 L317.4,452.5 L318.0,452.9 L318.6,453.4 L319.2,453.6 L319.8,453.0 L320.4,452.1 L321.0,453.0 L321.6,453.7 L322.2,453.2 L322.8,453.5 L323.4,452.6 L324.0,452.9 L324.6,453.4 L325.2,453.9 L325.8,452.7 L326.4,452.8 L327.0,451.4 L327.6,450.6 L328.2,452.8 L328.8,452.9 L329.4,451.9 L330.0,453.1 L330.6,453.2 L331.2,450.8 L331.8,452.9 L332.4,452.9 L333.0,453.2 L333.6,448.4 L334.2,449.6 L334.8,449.6 L335.4,449.0 L336.0,452.1 L336.6,449.9 L337.2,452.0 L337.8,452.5 L338.4,453.4 L339.0,453.3 L339.6,453.2 L340.2,451.8 L340.8,453.0 L341.4,453.5 L342.0,452.7 L342.6,453.1 L343.2,451.1 L343.8,452.5 L344.4,453.1 L345.0,452.9 L345.6,452.1 L346.2,451.7 L346.8,452.9 L347.4,452.6 L348.0,452.3 L348.6,453.4 L349.2,453.8 L349.8,453.7 L350.4,453.0 L351.0,453.8 L351.6,453.9 L352.2,452.5 L352.8,453.3 L353.4,454.0 L354.0,453.6 L354.6,451.4 L355.2,452.8 L355.8,451.8 L356.4,450.8 L357.0,452.9 L357.6,449.6 L358.2,452.7 L358.8,453.3 L359.4,451.1 L360.0,451.9 L360.6,450.0 L361.2,451.5 L361.8,451.2 L362.4,451.2 L363.0,450.1 L363.6,448.3 L364.2,447.5 L364.8,450.2 L365.4,447.5 L366.0,450.3 L366.6,448.5 L367.2,449.2 L367.8,452.1 L368.4,452.0 L369.0,449.6 L369.6,452.4 L370.2,451.7 L370.8,449.9 L371.4,452.0 L372.0,451.1 L372.6,452.9 L373.2,453.2 L373.8,453.5 L374.4,452.8 L375.0,453.5 L375.6,453.0 L376.2,453.0 L376.8,452.9 L377.4,453.9 L378.0,453.7 L378.6,450.7 L379.2,452.6 L379.8,452.5 L380.4,451.2 L381.0,452.9 L381.6,447.5 L382.2,451.0 L382.8,451.7 L383.4,447.5 L384.0,450.9 L384.6,450.2 L385.2,452.5 L385.8,450.2 L386.4,452.1 L387.0,450.5 L387.6,451.6 L388.2,451.1 L388.8,449.1 L389.4,450.6 L390.0,451.2 L390.6,452.9 L391.2,451.5 L391.8,451.5 L392.4,452.9 L393.0,452.3 L393.6,452.1 L394.2,452.1 L394.8,450.9 L395.4,452.8 L396.0,449.3 L396.6,447.5 L397.2,452.0 L397.8,453.3 L398.4,452.7 L399.0,453.0 L399.6,453.2 L400.2,453.6 L400.8,453.8 L401.4,453.7 L402.0,453.8 L402.6,453.8 L403.2,453.0 L403.8,453.3 L404.4,451.7 L405.0,452.1 L405.6,452.3 L406.2,453.4 L406.8,452.7 L407.4,453.0 L408.0,453.6 L408.6,453.6 L409.2,453.9 L409.8,453.2 L410.4,452.4 L411.0,453.5 L411.6,452.3 L412.2,453.1 L412.8,453.6 L413.4,453.8 L414.0,452.5 L414.6,453.2 L415.2,453.0 L415.8,453.2 L416.4,452.5 L417.0,452.4 L417.6,452.2 L418.2,452.8 L418.8,453.4 L419.4,453.6 L420.0,453.8 L420.6,454.1 L421.2,454.0 L421.8,453.6 L422.4,453.6 L423.0,450.8 L423.6,450.2 L424.2,452.4 L424.8,451.1 L425.4,451.4 L426.0,452.5 L426.6,451.8 L427.2,453.3 L427.8,452.9 L428.4,451.8 L429.0,451.2 L429.6,450.5 L430.2,448.0 L430.8,447.5 L431.4,448.3 L432.0,450.5 L432.6,451.7 L433.2,452.4 L433.8,452.6 L434.4,453.3 L435.0,453.1 L435.6,452.5 L436.2,452.9 L436.8,453.2 L437.4,451.8 L438.0,452.8 L438.6,452.2 L439.2,453.3 L439.8,451.9 L440.4,452.3 L441.0,447.5 L441.6,451.7 L442.2,452.5 L442.8,450.3 L443.4,451.5 L444.0,450.9 L444.6,447.5 L445.2,449.4 L445.8,452.3 L446.4,452.9 L447.0,450.3 L447.6,452.7 L448.2,450.1 L448.8,452.3 L449.4,453.0 L450.0,448.6 L450.6,450.8 L451.2,452.6 L451.8,450.3 L452.4,450.1 L453.0,447.5 L453.6,447.5 L454.2,450.5 L454.8,448.6 L455.4,452.4 L456.0,451.8 L456.6,452.6 L457.2,452.5 L457.8,447.5 L458.4,450.5 L459.0,451.7 L459.6,451.5 L460.2,447.5 L460.8,450.8 L461.4,452.2 L462.0,453.1 L462.6,451.7 L463.2,449.7 L463.8,452.6 L464.4,451.7 L465.0,451.7 L465.6,447.5 L466.2,451.2 L466.8,449.6 L467.4,451.7 L468.0,450.0 L468.6,448.1 L469.2,451.7 L469.8,452.5 L470.4,453.4 L471.0,452.2 L471.6,451.3 L472.2,453.2 L472.8,453.2 L473.4,453.4 L473.4,454.5 Z" fill="#f2b33a"/>
<line x1="264" y1="454.47" x2="473.4" y2="454.47" stroke="#f2b33a" stroke-width="0.7"/>
<path d="M72.0,464.5 L72.0,464.4 L72.6,464.1 L73.2,464.0 L73.8,462.1 L74.4,462.7 L75.0,462.9 L75.6,460.5 L76.2,462.8 L76.8,461.6 L77.4,462.9 L78.0,462.9 L78.6,461.7 L79.2,463.2 L79.8,463.8 L80.4,463.8 L81.0,464.2 L81.6,464.2 L82.2,463.8 L82.8,463.8 L83.4,464.1 L84.0,464.2 L84.6,464.2 L85.2,464.2 L85.8,464.3 L86.4,463.5 L87.0,463.9 L87.6,464.0 L88.2,464.3 L88.8,464.2 L89.4,464.2 L90.0,464.3 L90.6,464.3 L91.2,464.2 L91.8,464.0 L92.4,463.6 L93.0,464.2 L93.6,464.3 L94.2,463.5 L94.8,464.1 L95.4,463.9 L96.0,463.4 L96.6,463.2 L97.2,463.6 L97.8,462.4 L98.4,462.1 L99.0,463.6 L99.6,462.4 L100.2,463.1 L100.8,463.0 L101.4,462.8 L102.0,462.5 L102.6,461.9 L103.2,463.4 L103.8,463.8 L104.4,463.9 L105.0,464.0 L105.6,463.4 L106.2,463.6 L106.8,464.1 L107.4,463.4 L108.0,462.4 L108.6,461.2 L109.2,461.3 L109.8,462.0 L110.4,460.8 L111.0,462.5 L111.6,462.0 L112.2,462.9 L112.8,462.8 L113.4,462.9 L114.0,462.6 L114.6,463.7 L115.2,463.2 L115.8,463.2 L116.4,462.0 L117.0,463.4 L117.6,464.1 L118.2,464.2 L118.8,463.9 L119.4,464.3 L120.0,463.8 L120.6,463.9 L121.2,461.8 L121.8,461.3 L122.4,457.5 L123.0,460.0 L123.6,461.5 L124.2,462.4 L124.8,462.1 L125.4,461.9 L126.0,460.4 L126.6,461.8 L127.2,462.3 L127.8,457.5 L128.4,460.9 L129.0,457.5 L129.6,459.2 L130.2,458.8 L130.8,459.2 L131.4,457.5 L132.0,459.2 L132.6,462.9 L133.2,463.6 L133.8,463.2 L134.4,463.6 L135.0,464.0 L135.6,464.3 L136.2,464.4 L136.8,464.3 L137.4,464.0 L138.0,464.2 L138.6,464.1 L139.2,463.9 L139.8,464.0 L140.4,463.9 L141.0,463.8 L141.6,463.2 L142.2,463.9 L142.8,462.8 L143.4,462.6 L144.0,461.1 L144.6,462.8 L145.2,463.4 L145.8,463.7 L146.4,462.8 L147.0,463.3 L147.6,461.0 L148.2,461.5 L148.8,462.4 L149.4,462.8 L150.0,463.5 L150.6,463.6 L151.2,460.3 L151.8,462.8 L152.4,462.6 L153.0,462.7 L153.6,462.3 L154.2,463.6 L154.8,463.9 L155.4,464.1 L156.0,464.1 L156.6,463.6 L157.2,463.1 L157.8,463.4 L158.4,463.3 L159.0,463.0 L159.6,463.8 L160.2,462.6 L160.8,463.9 L161.4,464.1 L162.0,464.0 L162.6,464.3 L163.2,464.3 L163.8,464.4 L164.4,464.3 L165.0,464.1 L165.6,463.9 L166.2,463.3 L166.8,463.9 L167.4,463.6 L168.0,464.0 L168.6,463.2 L169.2,458.3 L169.8,462.4 L170.4,457.8 L171.0,461.3 L171.6,461.6 L172.2,457.5 L172.8,460.3 L173.4,457.5 L174.0,459.6 L174.6,461.9 L175.2,457.5 L175.8,459.9 L176.4,458.9 L177.0,461.1 L177.6,457.5 L178.2,460.0 L178.8,462.3 L179.4,463.0 L180.0,463.7 L180.6,464.1 L181.2,464.0 L181.8,463.6 L182.4,463.8 L183.0,463.7 L183.6,463.9 L184.2,464.1 L184.8,463.5 L185.4,463.8 L186.0,462.6 L186.6,463.0 L187.2,463.0 L187.8,463.7 L188.4,463.8 L189.0,463.7 L189.6,463.9 L190.2,464.2 L190.8,464.1 L191.4,464.1 L192.0,463.8 L192.6,463.9 L193.2,464.3 L193.8,464.3 L194.4,464.3 L195.0,463.9 L195.6,464.1 L196.2,464.3 L196.8,464.1 L197.4,464.1 L198.0,464.3 L198.6,464.3 L199.2,464.0 L199.8,464.1 L200.4,463.5 L201.0,464.1 L201.6,464.2 L202.2,463.6 L202.8,463.4 L203.4,463.9 L204.0,463.9 L204.6,463.1 L205.2,463.4 L205.8,464.0 L206.4,463.6 L207.0,461.8 L207.6,463.0 L208.2,463.6 L208.8,463.8 L209.4,464.1 L210.0,463.7 L210.6,464.2 L211.2,464.2 L211.8,464.2 L212.4,464.2 L213.0,464.3 L213.6,464.4 L214.2,463.8 L214.8,463.4 L215.4,463.9 L216.0,463.1 L216.6,463.5 L217.2,463.8 L217.8,464.2 L218.4,464.3 L219.0,464.4 L219.6,464.0 L220.2,464.2 L220.8,462.1 L221.4,462.4 L222.0,461.3 L222.6,462.5 L223.2,460.7 L223.8,462.2 L224.4,462.9 L225.0,460.0 L225.6,462.9 L226.2,461.0 L226.8,461.8 L227.4,459.8 L228.0,459.6 L228.6,462.8 L229.2,463.0 L229.8,462.9 L230.4,462.1 L231.0,463.2 L231.6,459.5 L232.2,462.7 L232.8,463.5 L233.4,458.6 L234.0,460.8 L234.6,458.0 L235.2,461.5 L235.8,457.5 L236.4,457.5 L237.0,462.1 L237.6,463.3 L238.2,464.1 L238.8,464.1 L239.4,464.3 L240.0,464.0 L240.6,464.2 L241.2,463.7 L241.8,464.1 L242.4,464.2 L243.0,464.3 L243.6,463.8 L244.2,464.0 L244.8,463.4 L245.4,463.7 L246.0,463.0 L246.6,463.8 L247.2,463.0 L247.8,463.8 L248.4,459.7 L249.0,463.0 L249.6,463.1 L250.2,463.9 L250.8,464.2 L251.4,463.3 L252.0,463.1 L252.6,464.1 L253.2,464.2 L253.8,464.2 L254.4,464.3 L255.0,464.2 L255.6,464.2 L255.6,464.5 Z" fill="#a17fe8"/>
<line x1="72" y1="464.50" x2="255.6" y2="464.50" stroke="#a17fe8" stroke-width="0.7"/>
<path d="M264.0,464.5 L264.0,464.2 L264.6,464.1 L265.2,464.2 L265.8,463.6 L266.4,463.8 L267.0,463.8 L267.6,464.1 L268.2,463.8 L268.8,463.8 L269.4,464.0 L270.0,464.3 L270.6,464.2 L271.2,463.3 L271.8,463.9 L272.4,464.1 L273.0,464.0 L273.6,464.3 L274.2,464.2 L274.8,463.9 L275.4,464.1 L276.0,464.2 L276.6,463.3 L277.2,463.9 L277.8,464.1 L278.4,464.3 L279.0,464.1 L279.6,464.1 L280.2,464.2 L280.8,463.6 L281.4,463.9 L282.0,464.0 L282.6,463.7 L283.2,464.1 L283.8,463.2 L284.4,463.6 L285.0,463.9 L285.6,463.9 L286.2,462.3 L286.8,463.3 L287.4,464.0 L288.0,463.0 L288.6,463.6 L289.2,463.9 L289.8,463.7 L290.4,464.0 L291.0,463.5 L291.6,463.5 L292.2,463.7 L292.8,463.8 L293.4,463.9 L294.0,463.6 L294.6,463.3 L295.2,464.1 L295.8,463.9 L296.4,463.8 L297.0,462.8 L297.6,463.6 L298.2,463.3 L298.8,463.8 L299.4,463.7 L300.0,463.8 L300.6,464.2 L301.2,464.0 L301.8,464.0 L302.4,464.1 L303.0,464.2 L303.6,463.5 L304.2,463.7 L304.8,463.8 L305.4,464.2 L306.0,464.3 L306.6,464.3 L307.2,464.2 L307.8,464.2 L308.4,463.9 L309.0,464.1 L309.6,462.8 L310.2,464.0 L310.8,464.1 L311.4,463.7 L312.0,464.0 L312.6,464.0 L313.2,463.7 L313.8,463.9 L314.4,464.2 L315.0,464.3 L315.6,463.2 L316.2,463.9 L316.8,464.1 L317.4,464.3 L318.0,464.2 L318.6,464.2 L319.2,464.3 L319.8,464.0 L320.4,464.0 L321.0,464.0 L321.6,463.8 L322.2,463.2 L322.8,463.5 L323.4,464.2 L324.0,464.1 L324.6,464.0 L325.2,463.5 L325.8,463.8 L326.4,463.9 L327.0,464.0 L327.6,464.1 L328.2,463.1 L328.8,464.0 L329.4,463.3 L330.0,461.6 L330.6,463.6 L331.2,464.0 L331.8,464.0 L332.4,463.2 L333.0,463.1 L333.6,462.7 L334.2,463.5 L334.8,463.9 L335.4,464.1 L336.0,464.1 L336.6,463.9 L337.2,464.2 L337.8,463.6 L338.4,464.1 L339.0,463.2 L339.6,463.9 L340.2,464.3 L340.8,464.3 L341.4,464.1 L342.0,463.6 L342.6,464.2 L343.2,464.3 L343.8,464.3 L344.4,463.9 L345.0,464.2 L345.6,464.2 L346.2,464.3 L346.8,464.4 L347.4,464.4 L348.0,464.3 L348.6,464.1 L349.2,464.0 L349.8,464.0 L350.4,463.6 L351.0,463.9 L351.6,464.0 L352.2,463.9 L352.8,464.2 L353.4,462.9 L354.0,464.0 L354.6,463.6 L355.2,464.0 L355.8,464.1 L356.4,464.1 L357.0,463.8 L357.6,464.1 L358.2,464.2 L358.8,464.1 L359.4,462.3 L360.0,462.9 L360.6,463.7 L361.2,463.4 L361.8,464.0 L362.4,464.2 L363.0,464.0 L363.6,464.0 L364.2,462.7 L364.8,463.9 L365.4,463.8 L366.0,464.2 L366.6,463.5 L367.2,463.8 L367.8,463.3 L368.4,463.8 L369.0,464.2 L369.6,463.5 L370.2,463.3 L370.8,463.8 L371.4,463.8 L372.0,463.9 L372.6,464.1 L373.2,464.2 L373.8,464.3 L374.4,464.1 L375.0,464.2 L375.6,464.1 L376.2,464.2 L376.8,464.3 L377.4,463.8 L378.0,464.0 L378.6,464.1 L379.2,463.9 L379.8,463.4 L380.4,463.9 L381.0,464.2 L381.6,463.1 L382.2,464.1 L382.8,464.1 L383.4,464.0 L384.0,464.2 L384.6,464.3 L385.2,463.2 L385.8,463.4 L386.4,464.1 L387.0,463.9 L387.6,463.4 L388.2,463.8 L388.8,463.1 L389.4,463.9 L390.0,463.9 L390.6,464.1 L391.2,463.7 L391.8,463.2 L392.4,463.7 L393.0,463.8 L393.6,463.3 L394.2,462.7 L394.8,462.8 L395.4,463.6 L396.0,464.2 L396.6,464.2 L397.2,464.3 L397.8,463.9 L398.4,464.2 L399.0,463.7 L399.6,464.2 L400.2,464.2 L400.8,464.1 L401.4,464.1 L402.0,464.2 L402.6,464.3 L403.2,464.2 L403.8,464.0 L404.4,464.1 L405.0,463.5 L405.6,463.9 L406.2,464.1 L406.8,464.3 L407.4,464.3 L408.0,464.3 L408.6,463.7 L409.2,463.5 L409.8,464.0 L410.4,464.2 L411.0,464.3 L411.6,464.1 L412.2,464.1 L412.8,464.2 L413.4,463.9 L414.0,464.1 L414.6,464.3 L415.2,464.3 L415.8,464.0 L416.4,463.3 L417.0,460.9 L417.6,462.7 L418.2,463.2 L418.8,460.7 L419.4,462.6 L420.0,462.8 L420.6,461.8 L421.2,463.2 L421.8,463.2 L422.4,463.7 L423.0,460.8 L423.6,462.7 L424.2,462.0 L424.8,462.7 L425.4,460.4 L426.0,460.3 L426.6,460.4 L427.2,459.3 L427.8,461.7 L428.4,460.4 L429.0,460.9 L429.6,463.1 L430.2,463.5 L430.8,462.8 L431.4,462.2 L432.0,457.5 L432.6,460.9 L433.2,460.3 L433.8,458.9 L434.4,457.5 L435.0,458.1 L435.6,462.3 L436.2,463.6 L436.8,464.0 L437.4,464.1 L438.0,464.0 L438.6,463.0 L439.2,462.4 L439.8,457.5 L440.4,460.0 L441.0,462.7 L441.6,463.2 L442.2,462.4 L442.8,462.9 L443.4,464.0 L444.0,464.2 L444.6,463.6 L445.2,464.2 L445.8,464.1 L446.4,463.9 L447.0,464.2 L447.6,463.6 L448.2,463.5 L448.8,463.4 L449.4,464.0 L450.0,463.9 L450.6,463.6 L451.2,462.9 L451.8,461.9 L452.4,463.6 L453.0,463.3 L453.6,462.4 L454.2,463.0 L454.8,462.4 L455.4,462.1 L456.0,463.8 L456.6,462.4 L457.2,463.8 L457.8,464.0 L458.4,464.3 L459.0,464.2 L459.6,464.3 L460.2,464.4 L460.8,464.4 L461.4,464.2 L462.0,463.8 L462.6,464.0 L463.2,464.1 L463.8,464.2 L464.4,464.2 L465.0,464.3 L465.6,464.3 L466.2,463.9 L466.8,464.2 L467.4,464.3 L468.0,464.2 L468.6,464.3 L469.2,464.3 L469.8,464.3 L470.4,464.3 L471.0,464.3 L471.6,464.0 L472.2,464.0 L472.8,464.3 L473.4,463.9 L473.4,464.5 Z" fill="#a17fe8"/>
<line x1="264" y1="464.50" x2="473.4" y2="464.50" stroke="#a17fe8" stroke-width="0.7"/>
<text x="72.5" y="457.60" font-family="Liberation Sans, Arial, sans-serif" font-size="2.6" fill="#a17fe8">[0-100]</text>
<text x="264.5" y="457.60" font-family="Liberation Sans, Arial, sans-serif" font-size="2.6" fill="#a17fe8">[0-100]</text>
<path d="M72.0,474.5 L72.0,474.4 L72.6,474.4 L73.2,474.1 L73.8,474.1 L74.4,472.0 L75.0,473.6 L75.6,473.1 L76.2,473.4 L76.8,471.9 L77.4,473.4 L78.0,473.7 L78.6,473.9 L79.2,474.2 L79.8,474.4 L80.4,474.3 L81.0,474.4 L81.6,474.2 L82.2,474.3 L82.8,474.3 L83.4,474.2 L84.0,473.7 L84.6,474.2 L85.2,474.3 L85.8,474.0 L86.4,474.3 L87.0,473.7 L87.6,474.0 L88.2,474.2 L88.8,473.9 L89.4,473.9 L90.0,474.2 L90.6,473.9 L91.2,474.2 L91.8,474.1 L92.4,474.1 L93.0,473.9 L93.6,474.2 L94.2,474.1 L94.8,473.3 L95.4,473.5 L96.0,473.0 L96.6,472.9 L97.2,472.7 L97.8,471.3 L98.4,472.7 L99.0,472.5 L99.6,473.2 L100.2,473.8 L100.8,472.4 L101.4,473.5 L102.0,472.1 L102.6,471.0 L103.2,472.3 L103.8,473.6 L104.4,473.8 L105.0,473.8 L105.6,474.2 L106.2,474.2 L106.8,474.1 L107.4,474.0 L108.0,474.0 L108.6,474.0 L109.2,472.7 L109.8,473.7 L110.4,473.3 L111.0,473.4 L111.6,472.6 L112.2,471.5 L112.8,469.5 L113.4,471.3 L114.0,467.5 L114.6,467.5 L115.2,471.2 L115.8,473.2 L116.4,473.5 L117.0,474.1 L117.6,473.0 L118.2,473.9 L118.8,473.9 L119.4,474.3 L120.0,474.4 L120.6,473.9 L121.2,473.4 L121.8,472.8 L122.4,472.7 L123.0,471.8 L123.6,471.6 L124.2,472.7 L124.8,473.1 L125.4,472.1 L126.0,472.9 L126.6,471.8 L127.2,473.0 L127.8,470.4 L128.4,472.3 L129.0,468.8 L129.6,470.7 L130.2,467.5 L130.8,470.3 L131.4,471.6 L132.0,471.0 L132.6,472.9 L133.2,473.9 L133.8,474.0 L134.4,473.3 L135.0,473.5 L135.6,474.1 L136.2,474.0 L136.8,474.0 L137.4,474.2 L138.0,474.3 L138.6,474.4 L139.2,473.8 L139.8,474.3 L140.4,474.2 L141.0,474.2 L141.6,474.1 L142.2,473.2 L142.8,471.1 L143.4,471.4 L144.0,472.7 L144.6,473.5 L145.2,468.0 L145.8,471.3 L146.4,471.6 L147.0,470.5 L147.6,472.2 L148.2,473.4 L148.8,473.6 L149.4,471.9 L150.0,472.7 L150.6,470.4 L151.2,471.0 L151.8,467.6 L152.4,471.0 L153.0,472.9 L153.6,472.3 L154.2,473.8 L154.8,473.9 L155.4,473.0 L156.0,473.3 L156.6,473.8 L157.2,473.3 L157.8,473.0 L158.4,473.4 L159.0,471.6 L159.6,473.1 L160.2,473.7 L160.8,473.9 L161.4,474.2 L162.0,474.3 L162.6,474.2 L163.2,473.6 L163.8,474.2 L164.4,474.3 L165.0,474.3 L165.6,472.9 L166.2,473.4 L166.8,474.1 L167.4,474.1 L168.0,474.3 L168.6,473.7 L169.2,473.2 L169.8,472.2 L170.4,467.6 L171.0,468.3 L171.6,470.5 L172.2,469.1 L172.8,471.0 L173.4,470.1 L174.0,469.8 L174.6,471.7 L175.2,467.5 L175.8,469.2 L176.4,470.5 L177.0,471.2 L177.6,472.2 L178.2,471.4 L178.8,472.9 L179.4,472.1 L180.0,473.2 L180.6,473.7 L181.2,474.0 L181.8,474.1 L182.4,474.0 L183.0,474.3 L183.6,474.3 L184.2,472.7 L184.8,473.5 L185.4,473.0 L186.0,473.4 L186.6,473.6 L187.2,472.8 L187.8,473.6 L188.4,473.3 L189.0,473.7 L189.6,474.2 L190.2,473.3 L190.8,474.1 L191.4,474.2 L192.0,474.2 L192.6,473.9 L193.2,474.2 L193.8,474.2 L194.4,474.2 L195.0,473.7 L195.6,474.2 L196.2,474.3 L196.8,473.9 L197.4,474.2 L198.0,473.6 L198.6,474.2 L199.2,474.2 L199.8,474.4 L200.4,474.2 L201.0,473.4 L201.6,474.1 L202.2,473.9 L202.8,474.1 L203.4,473.9 L204.0,473.5 L204.6,473.9 L205.2,473.2 L205.8,473.4 L206.4,472.0 L207.0,473.4 L207.6,471.6 L208.2,473.5 L208.8,474.1 L209.4,473.7 L210.0,473.9 L210.6,474.1 L211.2,474.3 L211.8,472.6 L212.4,473.9 L213.0,473.7 L213.6,473.6 L214.2,474.2 L214.8,473.8 L215.4,474.1 L216.0,473.7 L216.6,473.6 L217.2,473.8 L217.8,474.2 L218.4,474.1 L219.0,473.2 L219.6,474.0 L220.2,474.0 L220.8,473.3 L221.4,473.9 L222.0,473.7 L222.6,473.8 L223.2,473.2 L223.8,473.0 L224.4,472.3 L225.0,472.4 L225.6,473.3 L226.2,473.7 L226.8,472.7 L227.4,471.4 L228.0,469.3 L228.6,470.2 L229.2,472.6 L229.8,471.2 L230.4,472.3 L231.0,472.9 L231.6,473.4 L232.2,472.7 L232.8,472.0 L233.4,472.7 L234.0,473.1 L234.6,467.8 L235.2,472.2 L235.8,468.3 L236.4,471.7 L237.0,471.5 L237.6,473.4 L238.2,473.9 L238.8,473.9 L239.4,474.1 L240.0,474.2 L240.6,474.2 L241.2,474.3 L241.8,474.3 L242.4,474.3 L243.0,474.4 L243.6,473.7 L244.2,474.2 L244.8,472.8 L245.4,473.9 L246.0,473.4 L246.6,473.4 L247.2,474.0 L247.8,471.8 L248.4,472.5 L249.0,472.1 L249.6,473.3 L250.2,473.8 L250.8,474.1 L251.4,474.2 L252.0,474.1 L252.6,473.9 L253.2,474.2 L253.8,474.4 L254.4,474.3 L255.0,474.4 L255.6,474.3 L255.6,474.5 Z" fill="#a17fe8"/>
<line x1="72" y1="474.53" x2="255.6" y2="474.53" stroke="#a17fe8" stroke-width="0.7"/>
<path d="M264.0,474.5 L264.0,473.5 L264.6,474.0 L265.2,474.3 L265.8,473.4 L266.4,474.0 L267.0,473.9 L267.6,474.3 L268.2,474.3 L268.8,473.4 L269.4,473.7 L270.0,474.2 L270.6,474.2 L271.2,474.2 L271.8,474.3 L272.4,474.4 L273.0,474.3 L273.6,474.4 L274.2,474.4 L274.8,473.8 L275.4,474.2 L276.0,474.3 L276.6,474.2 L277.2,474.4 L277.8,473.8 L278.4,474.1 L279.0,474.0 L279.6,473.1 L280.2,474.1 L280.8,474.1 L281.4,474.2 L282.0,474.0 L282.6,474.0 L283.2,474.2 L283.8,474.3 L284.4,474.1 L285.0,473.6 L285.6,472.8 L286.2,473.6 L286.8,473.8 L287.4,473.3 L288.0,473.7 L288.6,473.9 L289.2,473.4 L289.8,472.7 L290.4,473.0 L291.0,472.3 L291.6,473.7 L292.2,473.7 L292.8,474.1 L293.4,472.8 L294.0,473.8 L294.6,473.9 L295.2,473.8 L295.8,474.0 L296.4,474.2 L297.0,474.2 L297.6,474.1 L298.2,474.1 L298.8,474.0 L299.4,474.1 L300.0,474.2 L300.6,474.3 L301.2,474.4 L301.8,474.3 L302.4,473.5 L303.0,474.0 L303.6,474.3 L304.2,474.2 L304.8,474.0 L305.4,473.8 L306.0,474.2 L306.6,474.1 L307.2,474.3 L307.8,473.9 L308.4,474.2 L309.0,474.3 L309.6,474.3 L310.2,473.9 L310.8,473.7 L311.4,474.2 L312.0,473.4 L312.6,474.1 L313.2,474.3 L313.8,474.4 L314.4,474.4 L315.0,474.1 L315.6,474.1 L316.2,473.6 L316.8,474.2 L317.4,474.3 L318.0,473.9 L318.6,474.1 L319.2,474.2 L319.8,474.0 L320.4,474.3 L321.0,474.4 L321.6,474.4 L322.2,474.3 L322.8,474.4 L323.4,474.2 L324.0,474.2 L324.6,474.3 L325.2,474.3 L325.8,474.1 L326.4,473.6 L327.0,472.5 L327.6,471.7 L328.2,473.7 L328.8,473.6 L329.4,473.3 L330.0,472.4 L330.6,473.3 L331.2,473.9 L331.8,473.9 L332.4,472.5 L333.0,473.8 L333.6,473.9 L334.2,474.1 L334.8,474.2 L335.4,474.4 L336.0,474.2 L336.6,474.1 L337.2,473.9 L337.8,473.4 L338.4,474.1 L339.0,474.2 L339.6,474.3 L340.2,474.2 L340.8,473.9 L341.4,474.0 L342.0,474.2 L342.6,473.5 L343.2,473.3 L343.8,473.5 L344.4,474.1 L345.0,474.0 L345.6,474.3 L346.2,474.1 L346.8,474.3 L347.4,474.2 L348.0,472.7 L348.6,473.9 L349.2,474.2 L349.8,474.1 L350.4,474.3 L351.0,474.3 L351.6,473.9 L352.2,474.3 L352.8,474.0 L353.4,474.2 L354.0,474.2 L354.6,473.7 L355.2,474.1 L355.8,474.3 L356.4,474.0 L357.0,474.0 L357.6,473.4 L358.2,473.7 L358.8,473.4 L359.4,473.3 L360.0,473.5 L360.6,473.1 L361.2,473.4 L361.8,474.1 L362.4,474.2 L363.0,474.3 L363.6,474.0 L364.2,473.1 L364.8,474.0 L365.4,474.3 L366.0,474.3 L366.6,474.1 L367.2,473.8 L367.8,473.7 L368.4,474.2 L369.0,474.3 L369.6,474.2 L370.2,474.2 L370.8,473.7 L371.4,474.1 L372.0,473.8 L372.6,473.6 L373.2,473.6 L373.8,474.2 L374.4,474.1 L375.0,474.2 L375.6,473.6 L376.2,473.5 L376.8,474.2 L377.4,474.3 L378.0,474.2 L378.6,474.2 L379.2,474.3 L379.8,474.4 L380.4,474.4 L381.0,474.3 L381.6,474.4 L382.2,474.3 L382.8,474.3 L383.4,474.3 L384.0,474.1 L384.6,474.2 L385.2,474.4 L385.8,474.2 L386.4,473.9 L387.0,473.9 L387.6,474.0 L388.2,473.7 L388.8,472.2 L389.4,473.7 L390.0,473.6 L390.6,473.7 L391.2,473.2 L391.8,471.7 L392.4,473.5 L393.0,471.6 L393.6,473.2 L394.2,474.0 L394.8,474.0 L395.4,473.8 L396.0,474.0 L396.6,473.0 L397.2,473.8 L397.8,473.9 L398.4,474.2 L399.0,474.4 L399.6,474.3 L400.2,474.3 L400.8,474.1 L401.4,474.1 L402.0,474.2 L402.6,474.0 L403.2,473.9 L403.8,474.0 L404.4,474.3 L405.0,474.3 L405.6,474.2 L406.2,474.0 L406.8,474.2 L407.4,474.1 L408.0,474.3 L408.6,474.1 L409.2,473.9 L409.8,474.1 L410.4,474.3 L411.0,474.3 L411.6,473.4 L412.2,473.9 L412.8,474.0 L413.4,473.5 L414.0,474.0 L414.6,474.0 L415.2,473.7 L415.8,474.0 L416.4,473.4 L417.0,473.9 L417.6,471.6 L418.2,469.2 L418.8,472.6 L419.4,473.6 L420.0,472.4 L420.6,473.1 L421.2,472.8 L421.8,472.9 L422.4,473.8 L423.0,473.8 L423.6,472.6 L424.2,473.2 L424.8,472.3 L425.4,467.5 L426.0,471.4 L426.6,471.4 L427.2,471.4 L427.8,469.0 L428.4,470.9 L429.0,467.9 L429.6,470.1 L430.2,470.9 L430.8,472.4 L431.4,471.5 L432.0,472.9 L432.6,469.7 L433.2,472.0 L433.8,471.0 L434.4,470.2 L435.0,467.5 L435.6,472.0 L436.2,473.8 L436.8,474.0 L437.4,474.1 L438.0,474.0 L438.6,473.9 L439.2,468.8 L439.8,470.9 L440.4,472.0 L441.0,472.9 L441.6,473.3 L442.2,472.8 L442.8,473.4 L443.4,474.0 L444.0,474.3 L444.6,474.2 L445.2,474.2 L445.8,474.2 L446.4,474.2 L447.0,474.3 L447.6,474.1 L448.2,474.0 L448.8,474.2 L449.4,473.9 L450.0,473.9 L450.6,472.7 L451.2,473.6 L451.8,472.2 L452.4,472.0 L453.0,473.5 L453.6,472.0 L454.2,473.3 L454.8,471.2 L455.4,473.5 L456.0,474.2 L456.6,474.3 L457.2,474.1 L457.8,474.0 L458.4,474.2 L459.0,474.3 L459.6,473.8 L460.2,474.1 L460.8,474.3 L461.4,474.2 L462.0,473.8 L462.6,474.1 L463.2,474.3 L463.8,474.2 L464.4,474.0 L465.0,474.2 L465.6,474.1 L466.2,474.3 L466.8,473.9 L467.4,473.9 L468.0,474.0 L468.6,474.2 L469.2,474.2 L469.8,474.3 L470.4,474.3 L471.0,474.3 L471.6,474.0 L472.2,474.2 L472.8,474.3 L473.4,474.4 L473.4,474.5 Z" fill="#a17fe8"/>
<line x1="264" y1="474.53" x2="473.4" y2="474.53" stroke="#a17fe8" stroke-width="0.7"/>
<path d="M72.0,484.6 L72.0,483.9 L72.6,484.3 L73.2,483.6 L73.8,483.9 L74.4,482.9 L75.0,483.5 L75.6,483.0 L76.2,482.9 L76.8,483.9 L77.4,483.0 L78.0,483.8 L78.6,483.8 L79.2,483.8 L79.8,484.0 L80.4,484.0 L81.0,484.3 L81.6,484.2 L82.2,484.4 L82.8,484.3 L83.4,484.4 L84.0,483.7 L84.6,484.2 L85.2,484.2 L85.8,484.2 L86.4,484.2 L87.0,483.8 L87.6,484.0 L88.2,484.0 L88.8,484.3 L89.4,484.4 L90.0,484.4 L90.6,484.0 L91.2,484.1 L91.8,484.4 L92.4,484.3 L93.0,484.2 L93.6,484.2 L94.2,484.0 L94.8,482.2 L95.4,483.4 L96.0,483.2 L96.6,482.6 L97.2,482.0 L97.8,483.1 L98.4,483.1 L99.0,482.4 L99.6,482.5 L100.2,482.1 L100.8,482.7 L101.4,483.5 L102.0,483.0 L102.6,483.2 L103.2,482.9 L103.8,483.4 L104.4,483.4 L105.0,483.2 L105.6,483.9 L106.2,484.2 L106.8,484.4 L107.4,484.0 L108.0,484.0 L108.6,483.1 L109.2,483.6 L109.8,483.4 L110.4,483.1 L111.0,479.6 L111.6,482.4 L112.2,482.5 L112.8,482.3 L113.4,481.9 L114.0,479.7 L114.6,481.9 L115.2,483.6 L115.8,483.8 L116.4,484.0 L117.0,484.0 L117.6,483.5 L118.2,484.1 L118.8,484.1 L119.4,484.3 L120.0,484.1 L120.6,483.8 L121.2,482.1 L121.8,482.6 L122.4,481.3 L123.0,477.6 L123.6,477.6 L124.2,477.6 L124.8,481.4 L125.4,480.6 L126.0,481.2 L126.6,481.0 L127.2,478.1 L127.8,477.6 L128.4,478.4 L129.0,479.6 L129.6,477.6 L130.2,479.2 L130.8,481.3 L131.4,482.9 L132.0,483.6 L132.6,483.1 L133.2,484.1 L133.8,484.0 L134.4,483.9 L135.0,484.2 L135.6,484.3 L136.2,483.8 L136.8,484.1 L137.4,484.2 L138.0,484.3 L138.6,484.3 L139.2,484.2 L139.8,484.0 L140.4,484.2 L141.0,484.2 L141.6,482.9 L142.2,483.9 L142.8,484.0 L143.4,479.6 L144.0,482.5 L144.6,483.4 L145.2,480.1 L145.8,478.6 L146.4,482.6 L147.0,480.1 L147.6,482.0 L148.2,483.1 L148.8,482.3 L149.4,481.3 L150.0,482.2 L150.6,482.6 L151.2,483.6 L151.8,483.1 L152.4,483.8 L153.0,483.7 L153.6,481.3 L154.2,480.5 L154.8,481.5 L155.4,483.4 L156.0,483.5 L156.6,482.1 L157.2,483.1 L157.8,483.7 L158.4,483.3 L159.0,483.4 L159.6,481.4 L160.2,483.2 L160.8,484.1 L161.4,484.3 L162.0,484.0 L162.6,484.0 L163.2,484.2 L163.8,484.3 L164.4,484.2 L165.0,484.4 L165.6,484.4 L166.2,484.4 L166.8,484.4 L167.4,484.0 L168.0,483.9 L168.6,484.0 L169.2,481.0 L169.8,481.6 L170.4,482.2 L171.0,481.0 L171.6,482.5 L172.2,483.0 L172.8,481.0 L173.4,477.6 L174.0,481.6 L174.6,480.7 L175.2,480.7 L175.8,482.8 L176.4,477.6 L177.0,477.6 L177.6,477.6 L178.2,481.4 L178.8,480.2 L179.4,482.7 L180.0,484.0 L180.6,484.0 L181.2,484.3 L181.8,484.4 L182.4,484.3 L183.0,483.7 L183.6,483.8 L184.2,483.7 L184.8,482.8 L185.4,482.8 L186.0,483.1 L186.6,483.1 L187.2,483.4 L187.8,483.2 L188.4,483.8 L189.0,484.1 L189.6,484.4 L190.2,484.3 L190.8,484.1 L191.4,484.4 L192.0,484.4 L192.6,483.8 L193.2,484.1 L193.8,484.3 L194.4,484.0 L195.0,484.3 L195.6,484.0 L196.2,484.2 L196.8,484.3 L197.4,484.1 L198.0,484.3 L198.6,484.0 L199.2,484.0 L199.8,483.8 L200.4,484.2 L201.0,484.4 L201.6,484.0 L202.2,484.3 L202.8,483.4 L203.4,483.8 L204.0,483.9 L204.6,484.1 L205.2,484.0 L205.8,481.7 L206.4,482.5 L207.0,482.7 L207.6,483.7 L208.2,484.0 L208.8,484.1 L209.4,484.0 L210.0,483.9 L210.6,484.2 L211.2,484.1 L211.8,484.2 L212.4,484.0 L213.0,484.3 L213.6,483.9 L214.2,484.3 L214.8,484.0 L215.4,483.3 L216.0,483.6 L216.6,483.4 L217.2,484.2 L217.8,484.4 L218.4,484.4 L219.0,484.1 L219.6,483.9 L220.2,482.8 L220.8,483.9 L221.4,483.6 L222.0,483.1 L222.6,482.4 L223.2,483.5 L223.8,483.9 L224.4,481.5 L225.0,482.7 L225.6,483.6 L226.2,481.4 L226.8,481.8 L227.4,482.6 L228.0,482.1 L228.6,483.0 L229.2,482.1 L229.8,482.1 L230.4,482.1 L231.0,482.9 L231.6,483.3 L232.2,478.9 L232.8,482.5 L233.4,480.9 L234.0,482.9 L234.6,481.8 L235.2,481.1 L235.8,481.2 L236.4,481.2 L237.0,481.9 L237.6,483.6 L238.2,484.1 L238.8,484.0 L239.4,483.9 L240.0,484.3 L240.6,484.4 L241.2,483.7 L241.8,484.1 L242.4,484.3 L243.0,483.8 L243.6,484.3 L244.2,484.2 L244.8,484.1 L245.4,483.8 L246.0,482.3 L246.6,483.6 L247.2,482.3 L247.8,483.7 L248.4,482.8 L249.0,483.5 L249.6,484.1 L250.2,483.3 L250.8,483.7 L251.4,483.8 L252.0,483.8 L252.6,484.0 L253.2,483.8 L253.8,484.0 L254.4,484.1 L255.0,483.7 L255.6,484.1 L255.6,484.6 Z" fill="#a17fe8"/>
<line x1="72" y1="484.56" x2="255.6" y2="484.56" stroke="#a17fe8" stroke-width="0.7"/>
<path d="M264.0,484.6 L264.0,484.3 L264.6,484.2 L265.2,484.2 L265.8,484.1 L266.4,484.2 L267.0,484.2 L267.6,484.4 L268.2,484.4 L268.8,484.2 L269.4,484.4 L270.0,484.1 L270.6,484.2 L271.2,484.3 L271.8,484.0 L272.4,484.2 L273.0,484.3 L273.6,484.0 L274.2,484.2 L274.8,484.2 L275.4,484.4 L276.0,484.2 L276.6,484.3 L277.2,484.4 L277.8,484.2 L278.4,484.3 L279.0,484.3 L279.6,484.3 L280.2,484.3 L280.8,484.3 L281.4,484.1 L282.0,484.4 L282.6,483.9 L283.2,484.0 L283.8,484.1 L284.4,484.3 L285.0,484.0 L285.6,484.3 L286.2,484.0 L286.8,484.0 L287.4,482.9 L288.0,483.9 L288.6,483.9 L289.2,483.7 L289.8,482.2 L290.4,483.5 L291.0,483.8 L291.6,483.8 L292.2,483.4 L292.8,483.4 L293.4,483.9 L294.0,483.7 L294.6,483.9 L295.2,483.8 L295.8,484.1 L296.4,484.3 L297.0,484.4 L297.6,483.6 L298.2,484.3 L298.8,484.2 L299.4,484.0 L300.0,484.2 L300.6,484.0 L301.2,484.1 L301.8,483.6 L302.4,483.7 L303.0,484.3 L303.6,484.1 L304.2,484.3 L304.8,484.1 L305.4,483.9 L306.0,484.0 L306.6,483.9 L307.2,484.2 L307.8,484.3 L308.4,483.8 L309.0,484.0 L309.6,484.1 L310.2,483.4 L310.8,484.0 L311.4,483.8 L312.0,484.2 L312.6,484.3 L313.2,484.2 L313.8,483.3 L314.4,483.0 L315.0,483.9 L315.6,484.0 L316.2,484.0 L316.8,484.1 L317.4,484.0 L318.0,484.2 L318.6,484.2 L319.2,483.9 L319.8,483.9 L320.4,484.3 L321.0,484.2 L321.6,484.2 L322.2,484.0 L322.8,484.3 L323.4,484.2 L324.0,483.1 L324.6,483.7 L325.2,484.2 L325.8,484.4 L326.4,484.3 L327.0,484.4 L327.6,484.3 L328.2,483.6 L328.8,481.4 L329.4,483.5 L330.0,484.1 L330.6,482.8 L331.2,483.3 L331.8,483.6 L332.4,484.0 L333.0,484.1 L333.6,483.6 L334.2,483.4 L334.8,484.1 L335.4,484.3 L336.0,484.4 L336.6,484.4 L337.2,484.0 L337.8,484.2 L338.4,484.1 L339.0,483.7 L339.6,484.1 L340.2,484.0 L340.8,484.3 L341.4,484.2 L342.0,484.4 L342.6,483.5 L343.2,483.9 L343.8,484.2 L344.4,484.2 L345.0,484.4 L345.6,484.4 L346.2,484.2 L346.8,484.4 L347.4,484.4 L348.0,484.2 L348.6,484.4 L349.2,484.0 L349.8,484.3 L350.4,482.4 L351.0,483.8 L351.6,484.0 L352.2,484.3 L352.8,484.4 L353.4,484.4 L354.0,484.4 L354.6,484.2 L355.2,484.3 L355.8,484.0 L356.4,484.3 L357.0,484.2 L357.6,484.1 L358.2,483.1 L358.8,483.4 L359.4,483.8 L360.0,483.7 L360.6,483.5 L361.2,484.1 L361.8,483.8 L362.4,484.0 L363.0,484.0 L363.6,484.3 L364.2,484.2 L364.8,484.3 L365.4,484.3 L366.0,484.2 L366.6,484.3 L367.2,484.3 L367.8,484.2 L368.4,483.9 L369.0,484.1 L369.6,484.2 L370.2,483.9 L370.8,484.3 L371.4,484.3 L372.0,484.4 L372.6,484.2 L373.2,484.4 L373.8,484.2 L374.4,484.0 L375.0,484.3 L375.6,484.3 L376.2,484.1 L376.8,484.2 L377.4,484.3 L378.0,483.9 L378.6,483.8 L379.2,483.8 L379.8,483.9 L380.4,483.9 L381.0,484.3 L381.6,484.4 L382.2,484.2 L382.8,484.3 L383.4,484.3 L384.0,484.4 L384.6,484.5 L385.2,484.4 L385.8,484.4 L386.4,484.3 L387.0,484.1 L387.6,484.1 L388.2,484.2 L388.8,483.7 L389.4,484.0 L390.0,482.6 L390.6,483.8 L391.2,483.2 L391.8,482.9 L392.4,480.8 L393.0,483.5 L393.6,483.3 L394.2,482.1 L394.8,482.8 L395.4,483.5 L396.0,484.0 L396.6,484.2 L397.2,484.2 L397.8,483.1 L398.4,483.8 L399.0,483.6 L399.6,484.1 L400.2,484.3 L400.8,484.1 L401.4,483.7 L402.0,484.2 L402.6,484.1 L403.2,484.0 L403.8,484.2 L404.4,484.4 L405.0,484.4 L405.6,484.4 L406.2,484.4 L406.8,484.4 L407.4,483.8 L408.0,484.0 L408.6,483.9 L409.2,484.2 L409.8,484.3 L410.4,483.4 L411.0,483.9 L411.6,484.1 L412.2,484.2 L412.8,484.3 L413.4,484.4 L414.0,484.3 L414.6,484.4 L415.2,484.4 L415.8,484.2 L416.4,483.5 L417.0,481.3 L417.6,481.8 L418.2,483.1 L418.8,482.6 L419.4,483.1 L420.0,482.6 L420.6,482.8 L421.2,483.2 L421.8,482.5 L422.4,482.9 L423.0,483.9 L423.6,483.8 L424.2,483.9 L424.8,483.5 L425.4,481.7 L426.0,481.7 L426.6,480.6 L427.2,479.4 L427.8,481.7 L428.4,482.1 L429.0,481.2 L429.6,481.9 L430.2,483.0 L430.8,483.0 L431.4,481.5 L432.0,479.4 L432.6,477.6 L433.2,477.6 L433.8,479.3 L434.4,481.2 L435.0,481.2 L435.6,482.4 L436.2,483.7 L436.8,484.3 L437.4,483.1 L438.0,480.1 L438.6,482.6 L439.2,477.6 L439.8,481.1 L440.4,482.2 L441.0,483.2 L441.6,483.0 L442.2,482.5 L442.8,482.5 L443.4,483.4 L444.0,484.0 L444.6,484.2 L445.2,484.1 L445.8,484.3 L446.4,484.3 L447.0,484.4 L447.6,484.4 L448.2,483.8 L448.8,483.3 L449.4,483.9 L450.0,483.4 L450.6,484.1 L451.2,480.6 L451.8,481.7 L452.4,483.3 L453.0,483.4 L453.6,483.7 L454.2,483.3 L454.8,483.8 L455.4,484.1 L456.0,483.5 L456.6,484.2 L457.2,484.4 L457.8,484.1 L458.4,484.2 L459.0,484.1 L459.6,484.1 L460.2,484.4 L460.8,483.4 L461.4,484.0 L462.0,484.2 L462.6,484.3 L463.2,483.6 L463.8,483.9 L464.4,483.5 L465.0,484.2 L465.6,484.4 L466.2,484.2 L466.8,483.3 L467.4,483.2 L468.0,483.9 L468.6,484.1 L469.2,483.6 L469.8,484.2 L470.4,484.4 L471.0,483.9 L471.6,484.1 L472.2,484.2 L472.8,484.1 L473.4,484.3 L473.4,484.6 Z" fill="#a17fe8"/>
<line x1="264" y1="484.56" x2="473.4" y2="484.56" stroke="#a17fe8" stroke-width="0.7"/>
<path d="M72.0,494.6 L72.0,494.5 L72.6,494.4 L73.2,494.2 L73.8,494.3 L74.4,494.4 L75.0,492.6 L75.6,493.6 L76.2,493.9 L76.8,493.6 L77.4,492.6 L78.0,493.8 L78.6,493.2 L79.2,494.1 L79.8,493.9 L80.4,494.2 L81.0,494.4 L81.6,494.1 L82.2,494.4 L82.8,494.5 L83.4,494.4 L84.0,493.9 L84.6,494.4 L85.2,494.0 L85.8,494.2 L86.4,494.2 L87.0,494.4 L87.6,494.4 L88.2,494.5 L88.8,494.4 L89.4,494.5 L90.0,494.5 L90.6,494.4 L91.2,494.5 L91.8,494.3 L92.4,494.4 L93.0,494.5 L93.6,494.4 L94.2,494.2 L94.8,493.7 L95.4,493.5 L96.0,494.0 L96.6,493.3 L97.2,492.5 L97.8,493.4 L98.4,492.3 L99.0,493.1 L99.6,493.9 L100.2,494.1 L100.8,493.2 L101.4,493.9 L102.0,492.3 L102.6,491.6 L103.2,492.9 L103.8,493.9 L104.4,494.3 L105.0,493.7 L105.6,494.2 L106.2,494.4 L106.8,494.4 L107.4,494.0 L108.0,494.0 L108.6,493.9 L109.2,493.6 L109.8,493.4 L110.4,493.2 L111.0,493.6 L111.6,494.1 L112.2,494.1 L112.8,494.0 L113.4,493.5 L114.0,493.8 L114.6,494.0 L115.2,492.8 L115.8,493.9 L116.4,493.5 L117.0,494.1 L117.6,494.3 L118.2,493.5 L118.8,494.2 L119.4,494.3 L120.0,494.2 L120.6,492.1 L121.2,493.2 L121.8,493.5 L122.4,493.5 L123.0,493.2 L123.6,492.5 L124.2,492.6 L124.8,493.4 L125.4,493.7 L126.0,493.5 L126.6,493.4 L127.2,493.8 L127.8,493.8 L128.4,493.0 L129.0,489.4 L129.6,491.5 L130.2,491.9 L130.8,493.0 L131.4,490.2 L132.0,492.0 L132.6,493.8 L133.2,494.2 L133.8,494.4 L134.4,494.5 L135.0,494.1 L135.6,494.0 L136.2,494.3 L136.8,494.1 L137.4,494.4 L138.0,494.2 L138.6,494.4 L139.2,494.5 L139.8,494.5 L140.4,494.4 L141.0,494.2 L141.6,494.1 L142.2,492.8 L142.8,493.8 L143.4,494.2 L144.0,492.7 L144.6,493.4 L145.2,492.9 L145.8,492.9 L146.4,493.5 L147.0,493.9 L147.6,492.8 L148.2,493.6 L148.8,493.9 L149.4,493.9 L150.0,494.0 L150.6,493.6 L151.2,492.3 L151.8,493.7 L152.4,493.3 L153.0,494.1 L153.6,494.0 L154.2,494.1 L154.8,494.3 L155.4,494.2 L156.0,494.3 L156.6,494.3 L157.2,493.8 L157.8,494.2 L158.4,494.2 L159.0,494.2 L159.6,493.8 L160.2,494.1 L160.8,494.4 L161.4,494.5 L162.0,494.4 L162.6,494.3 L163.2,494.2 L163.8,494.2 L164.4,494.4 L165.0,494.0 L165.6,494.3 L166.2,494.4 L166.8,494.5 L167.4,494.4 L168.0,494.2 L168.6,493.5 L169.2,490.3 L169.8,488.7 L170.4,492.6 L171.0,493.1 L171.6,493.7 L172.2,493.7 L172.8,493.9 L173.4,493.2 L174.0,493.3 L174.6,491.7 L175.2,493.0 L175.8,493.6 L176.4,493.6 L177.0,491.6 L177.6,488.7 L178.2,492.0 L178.8,491.5 L179.4,492.4 L180.0,493.9 L180.6,494.2 L181.2,494.4 L181.8,494.5 L182.4,494.3 L183.0,494.4 L183.6,494.4 L184.2,494.1 L184.8,493.7 L185.4,493.9 L186.0,493.9 L186.6,494.2 L187.2,493.3 L187.8,493.8 L188.4,494.3 L189.0,494.4 L189.6,494.4 L190.2,494.0 L190.8,494.2 L191.4,494.4 L192.0,493.9 L192.6,493.8 L193.2,494.3 L193.8,494.5 L194.4,494.5 L195.0,494.4 L195.6,494.4 L196.2,494.2 L196.8,494.4 L197.4,494.3 L198.0,494.4 L198.6,494.3 L199.2,493.6 L199.8,494.0 L200.4,494.3 L201.0,494.5 L201.6,494.4 L202.2,494.5 L202.8,493.8 L203.4,494.2 L204.0,494.1 L204.6,493.8 L205.2,493.8 L205.8,493.9 L206.4,493.8 L207.0,494.2 L207.6,494.3 L208.2,494.2 L208.8,494.3 L209.4,494.3 L210.0,494.5 L210.6,494.5 L211.2,494.5 L211.8,494.5 L212.4,494.4 L213.0,494.4 L213.6,494.3 L214.2,494.3 L214.8,494.3 L215.4,494.5 L216.0,494.4 L216.6,494.3 L217.2,494.3 L217.8,494.2 L218.4,494.4 L219.0,494.3 L219.6,494.3 L220.2,493.9 L220.8,494.2 L221.4,493.0 L222.0,492.9 L222.6,493.6 L223.2,493.7 L223.8,492.7 L224.4,493.9 L225.0,493.4 L225.6,492.1 L226.2,493.5 L226.8,492.9 L227.4,493.4 L228.0,493.0 L228.6,493.6 L229.2,493.9 L229.8,494.0 L230.4,493.3 L231.0,493.4 L231.6,493.7 L232.2,493.3 L232.8,494.0 L233.4,494.1 L234.0,491.6 L234.6,493.0 L235.2,492.8 L235.8,490.4 L236.4,490.5 L237.0,490.5 L237.6,493.3 L238.2,494.1 L238.8,494.4 L239.4,494.5 L240.0,494.5 L240.6,494.3 L241.2,494.4 L241.8,494.5 L242.4,494.3 L243.0,494.4 L243.6,494.5 L244.2,494.3 L244.8,494.2 L245.4,494.2 L246.0,494.1 L246.6,493.4 L247.2,493.9 L247.8,493.9 L248.4,494.3 L249.0,493.9 L249.6,494.1 L250.2,494.1 L250.8,494.4 L251.4,493.8 L252.0,494.1 L252.6,494.4 L253.2,494.0 L253.8,494.1 L254.4,493.9 L255.0,494.2 L255.6,494.4 L255.6,494.6 Z" fill="#c6b2f2"/>
<line x1="72" y1="494.59" x2="255.6" y2="494.59" stroke="#c6b2f2" stroke-width="0.7"/>
<path d="M264.0,494.6 L264.0,494.1 L264.6,494.4 L265.2,494.4 L265.8,494.5 L266.4,494.5 L267.0,494.5 L267.6,494.4 L268.2,494.4 L268.8,494.3 L269.4,494.3 L270.0,494.3 L270.6,494.5 L271.2,494.5 L271.8,494.5 L272.4,494.4 L273.0,494.1 L273.6,494.2 L274.2,494.4 L274.8,494.5 L275.4,494.4 L276.0,494.1 L276.6,494.1 L277.2,494.4 L277.8,494.4 L278.4,494.4 L279.0,494.3 L279.6,494.2 L280.2,494.4 L280.8,494.4 L281.4,494.5 L282.0,494.4 L282.6,494.5 L283.2,494.4 L283.8,494.4 L284.4,494.2 L285.0,494.3 L285.6,494.1 L286.2,494.1 L286.8,494.3 L287.4,493.9 L288.0,494.1 L288.6,494.3 L289.2,494.4 L289.8,494.2 L290.4,494.3 L291.0,494.3 L291.6,493.8 L292.2,493.8 L292.8,493.4 L293.4,494.0 L294.0,493.9 L294.6,494.2 L295.2,494.2 L295.8,494.3 L296.4,494.2 L297.0,494.1 L297.6,494.4 L298.2,494.3 L298.8,494.1 L299.4,494.3 L300.0,494.4 L300.6,494.3 L301.2,494.3 L301.8,494.3 L302.4,494.4 L303.0,494.5 L303.6,494.5 L304.2,494.4 L304.8,494.1 L305.4,494.2 L306.0,494.4 L306.6,494.4 L307.2,494.5 L307.8,494.5 L308.4,494.2 L309.0,494.3 L309.6,494.4 L310.2,494.5 L310.8,494.3 L311.4,494.1 L312.0,494.3 L312.6,494.3 L313.2,494.3 L313.8,494.1 L314.4,494.2 L315.0,494.4 L315.6,494.5 L316.2,494.0 L316.8,494.4 L317.4,494.4 L318.0,494.3 L318.6,494.1 L319.2,494.2 L319.8,494.4 L320.4,494.2 L321.0,494.4 L321.6,494.3 L322.2,493.6 L322.8,494.0 L323.4,494.2 L324.0,494.3 L324.6,494.3 L325.2,494.2 L325.8,494.0 L326.4,493.8 L327.0,494.0 L327.6,494.3 L328.2,494.2 L328.8,494.1 L329.4,494.3 L330.0,493.3 L330.6,494.0 L331.2,493.8 L331.8,494.2 L332.4,494.0 L333.0,494.3 L333.6,494.4 L334.2,494.4 L334.8,494.4 L335.4,494.5 L336.0,494.5 L336.6,494.0 L337.2,494.3 L337.8,494.4 L338.4,494.5 L339.0,494.5 L339.6,494.5 L340.2,494.3 L340.8,494.3 L341.4,494.2 L342.0,494.3 L342.6,494.4 L343.2,494.4 L343.8,494.3 L344.4,494.4 L345.0,494.3 L345.6,494.4 L346.2,494.3 L346.8,494.4 L347.4,494.1 L348.0,494.3 L348.6,494.3 L349.2,494.5 L349.8,494.5 L350.4,494.3 L351.0,494.3 L351.6,494.5 L352.2,494.5 L352.8,494.1 L353.4,494.2 L354.0,494.2 L354.6,494.3 L355.2,493.2 L355.8,494.0 L356.4,494.3 L357.0,494.3 L357.6,494.3 L358.2,494.2 L358.8,494.2 L359.4,494.3 L360.0,494.3 L360.6,494.3 L361.2,494.2 L361.8,494.1 L362.4,494.3 L363.0,494.4 L363.6,494.0 L364.2,494.1 L364.8,494.4 L365.4,494.4 L366.0,494.4 L366.6,494.5 L367.2,494.5 L367.8,494.4 L368.4,494.0 L369.0,494.2 L369.6,494.2 L370.2,494.3 L370.8,494.1 L371.4,494.1 L372.0,494.3 L372.6,494.2 L373.2,494.3 L373.8,494.3 L374.4,494.3 L375.0,494.4 L375.6,493.9 L376.2,493.8 L376.8,494.3 L377.4,494.4 L378.0,494.4 L378.6,494.4 L379.2,494.3 L379.8,494.0 L380.4,493.7 L381.0,494.2 L381.6,494.3 L382.2,494.4 L382.8,494.3 L383.4,493.8 L384.0,494.3 L384.6,494.4 L385.2,494.2 L385.8,493.8 L386.4,494.1 L387.0,494.1 L387.6,494.2 L388.2,494.2 L388.8,494.2 L389.4,493.5 L390.0,493.9 L390.6,493.8 L391.2,494.0 L391.8,494.2 L392.4,494.2 L393.0,494.1 L393.6,494.3 L394.2,494.0 L394.8,494.3 L395.4,494.2 L396.0,494.3 L396.6,494.1 L397.2,494.4 L397.8,494.5 L398.4,494.3 L399.0,494.2 L399.6,494.4 L400.2,494.5 L400.8,494.5 L401.4,494.4 L402.0,494.5 L402.6,494.2 L403.2,494.3 L403.8,494.3 L404.4,494.4 L405.0,494.5 L405.6,494.2 L406.2,494.1 L406.8,494.3 L407.4,494.4 L408.0,494.1 L408.6,494.2 L409.2,494.2 L409.8,494.4 L410.4,494.4 L411.0,494.2 L411.6,494.3 L412.2,494.0 L412.8,494.3 L413.4,494.5 L414.0,494.2 L414.6,494.2 L415.2,494.4 L415.8,494.4 L416.4,492.9 L417.0,493.3 L417.6,494.0 L418.2,494.1 L418.8,493.7 L419.4,492.8 L420.0,493.7 L420.6,492.3 L421.2,493.1 L421.8,493.7 L422.4,493.7 L423.0,493.4 L423.6,493.8 L424.2,493.4 L424.8,492.8 L425.4,491.6 L426.0,492.3 L426.6,493.0 L427.2,492.7 L427.8,493.5 L428.4,493.8 L429.0,492.9 L429.6,491.5 L430.2,493.7 L430.8,490.1 L431.4,490.5 L432.0,489.6 L432.6,490.6 L433.2,493.0 L433.8,493.7 L434.4,493.1 L435.0,492.7 L435.6,493.2 L436.2,493.6 L436.8,494.1 L437.4,494.1 L438.0,493.9 L438.6,493.6 L439.2,494.1 L439.8,493.1 L440.4,493.6 L441.0,493.5 L441.6,492.8 L442.2,493.8 L442.8,494.2 L443.4,494.3 L444.0,494.3 L444.6,494.5 L445.2,494.1 L445.8,494.4 L446.4,494.5 L447.0,494.5 L447.6,494.3 L448.2,494.3 L448.8,493.8 L449.4,494.1 L450.0,493.4 L450.6,494.0 L451.2,494.2 L451.8,493.3 L452.4,493.7 L453.0,494.0 L453.6,494.0 L454.2,493.2 L454.8,494.1 L455.4,494.2 L456.0,494.4 L456.6,494.3 L457.2,494.5 L457.8,494.4 L458.4,494.4 L459.0,494.3 L459.6,494.2 L460.2,494.4 L460.8,494.3 L461.4,494.4 L462.0,494.5 L462.6,494.4 L463.2,494.3 L463.8,494.3 L464.4,494.3 L465.0,494.4 L465.6,494.5 L466.2,494.3 L466.8,494.3 L467.4,494.5 L468.0,494.4 L468.6,494.3 L469.2,494.4 L469.8,494.4 L470.4,494.4 L471.0,494.2 L471.6,494.4 L472.2,494.4 L472.8,494.5 L473.4,494.4 L473.4,494.6 Z" fill="#c6b2f2"/>
<line x1="264" y1="494.59" x2="473.4" y2="494.59" stroke="#c6b2f2" stroke-width="0.7"/>
<path d="M72.0,504.6 L72.0,504.5 L72.6,504.3 L73.2,504.4 L73.8,503.6 L74.4,503.1 L75.0,502.4 L75.6,503.3 L76.2,503.9 L76.8,503.3 L77.4,504.1 L78.0,504.0 L78.6,504.3 L79.2,504.3 L79.8,504.4 L80.4,504.3 L81.0,504.5 L81.6,504.4 L82.2,504.3 L82.8,504.5 L83.4,504.5 L84.0,504.5 L84.6,504.5 L85.2,504.4 L85.8,504.5 L86.4,504.1 L87.0,504.4 L87.6,504.5 L88.2,504.5 L88.8,504.5 L89.4,504.5 L90.0,504.5 L90.6,504.4 L91.2,504.5 L91.8,504.5 L92.4,504.5 L93.0,504.4 L93.6,504.2 L94.2,504.4 L94.8,504.3 L95.4,504.4 L96.0,503.3 L96.6,504.1 L97.2,504.0 L97.8,503.7 L98.4,503.4 L99.0,503.9 L99.6,502.9 L100.2,503.7 L100.8,502.7 L101.4,503.7 L102.0,504.0 L102.6,503.7 L103.2,503.9 L103.8,504.1 L104.4,503.9 L105.0,503.8 L105.6,504.4 L106.2,504.5 L106.8,504.5 L107.4,503.6 L108.0,503.9 L108.6,504.2 L109.2,503.7 L109.8,504.1 L110.4,504.1 L111.0,502.0 L111.6,503.3 L112.2,503.9 L112.8,504.1 L113.4,503.7 L114.0,503.5 L114.6,503.8 L115.2,504.1 L115.8,504.1 L116.4,503.6 L117.0,504.3 L117.6,504.5 L118.2,504.5 L118.8,504.6 L119.4,504.5 L120.0,504.4 L120.6,503.6 L121.2,503.9 L121.8,503.5 L122.4,500.7 L123.0,502.4 L123.6,503.3 L124.2,503.7 L124.8,501.2 L125.4,501.7 L126.0,503.3 L126.6,502.3 L127.2,503.4 L127.8,502.7 L128.4,502.0 L129.0,502.4 L129.6,502.3 L130.2,503.6 L130.8,503.9 L131.4,503.9 L132.0,503.1 L132.6,503.8 L133.2,504.2 L133.8,504.3 L134.4,504.3 L135.0,504.2 L135.6,504.3 L136.2,504.4 L136.8,504.5 L137.4,504.4 L138.0,504.5 L138.6,504.1 L139.2,504.1 L139.8,504.3 L140.4,504.0 L141.0,504.3 L141.6,502.8 L142.2,503.5 L142.8,503.7 L143.4,504.0 L144.0,501.9 L144.6,503.3 L145.2,503.9 L145.8,503.8 L146.4,504.2 L147.0,503.6 L147.6,504.0 L148.2,504.1 L148.8,504.2 L149.4,503.7 L150.0,503.7 L150.6,503.4 L151.2,504.1 L151.8,501.1 L152.4,503.5 L153.0,503.4 L153.6,503.1 L154.2,503.3 L154.8,504.0 L155.4,504.0 L156.0,503.2 L156.6,503.9 L157.2,504.1 L157.8,503.8 L158.4,504.1 L159.0,504.3 L159.6,503.2 L160.2,504.0 L160.8,504.0 L161.4,504.4 L162.0,504.4 L162.6,504.1 L163.2,504.3 L163.8,504.3 L164.4,504.2 L165.0,504.4 L165.6,504.5 L166.2,504.5 L166.8,504.5 L167.4,504.5 L168.0,504.5 L168.6,503.9 L169.2,503.4 L169.8,503.8 L170.4,503.2 L171.0,503.3 L171.6,502.8 L172.2,503.8 L172.8,500.9 L173.4,503.1 L174.0,498.6 L174.6,501.5 L175.2,503.3 L175.8,503.0 L176.4,503.2 L177.0,500.2 L177.6,502.9 L178.2,503.3 L178.8,501.9 L179.4,502.6 L180.0,504.1 L180.6,504.2 L181.2,504.4 L181.8,504.4 L182.4,504.5 L183.0,504.5 L183.6,504.0 L184.2,503.9 L184.8,502.9 L185.4,503.8 L186.0,503.2 L186.6,503.8 L187.2,503.6 L187.8,503.9 L188.4,504.3 L189.0,504.4 L189.6,504.1 L190.2,504.3 L190.8,504.3 L191.4,504.3 L192.0,504.4 L192.6,504.5 L193.2,504.5 L193.8,504.4 L194.4,504.5 L195.0,504.5 L195.6,504.5 L196.2,504.5 L196.8,504.5 L197.4,504.4 L198.0,504.4 L198.6,504.5 L199.2,504.4 L199.8,504.4 L200.4,504.2 L201.0,504.4 L201.6,504.3 L202.2,504.4 L202.8,503.8 L203.4,503.7 L204.0,504.0 L204.6,504.3 L205.2,504.3 L205.8,503.2 L206.4,504.0 L207.0,504.3 L207.6,504.4 L208.2,503.7 L208.8,504.2 L209.4,504.2 L210.0,504.4 L210.6,504.5 L211.2,504.3 L211.8,504.4 L212.4,504.3 L213.0,504.5 L213.6,504.5 L214.2,504.4 L214.8,504.4 L215.4,504.5 L216.0,504.4 L216.6,504.2 L217.2,504.5 L217.8,504.5 L218.4,504.5 L219.0,504.4 L219.6,504.5 L220.2,504.1 L220.8,503.9 L221.4,504.2 L222.0,503.7 L222.6,503.5 L223.2,503.4 L223.8,503.3 L224.4,503.7 L225.0,503.5 L225.6,503.9 L226.2,504.0 L226.8,503.6 L227.4,504.1 L228.0,502.4 L228.6,503.6 L229.2,503.7 L229.8,503.5 L230.4,500.4 L231.0,502.6 L231.6,503.5 L232.2,503.8 L232.8,503.0 L233.4,503.7 L234.0,503.4 L234.6,501.3 L235.2,503.4 L235.8,503.6 L236.4,504.1 L237.0,504.0 L237.6,504.3 L238.2,504.3 L238.8,504.4 L239.4,504.5 L240.0,504.5 L240.6,504.1 L241.2,504.4 L241.8,504.3 L242.4,504.4 L243.0,504.5 L243.6,504.5 L244.2,504.5 L244.8,504.2 L245.4,504.2 L246.0,504.4 L246.6,504.4 L247.2,504.3 L247.8,504.3 L248.4,503.7 L249.0,504.1 L249.6,504.1 L250.2,503.8 L250.8,504.3 L251.4,504.3 L252.0,504.3 L252.6,504.5 L253.2,504.4 L253.8,504.4 L254.4,504.2 L255.0,504.4 L255.6,504.4 L255.6,504.6 Z" fill="#c6b2f2"/>
<line x1="72" y1="504.62" x2="255.6" y2="504.62" stroke="#c6b2f2" stroke-width="0.7"/>
<path d="M264.0,504.6 L264.0,504.5 L264.6,504.5 L265.2,504.3 L265.8,504.3 L266.4,504.3 L267.0,504.5 L267.6,504.5 L268.2,504.5 L268.8,504.0 L269.4,504.3 L270.0,504.4 L270.6,504.4 L271.2,504.5 L271.8,504.4 L272.4,504.4 L273.0,504.5 L273.6,504.5 L274.2,504.5 L274.8,504.1 L275.4,504.4 L276.0,504.5 L276.6,504.3 L277.2,504.2 L277.8,504.4 L278.4,504.3 L279.0,503.9 L279.6,504.3 L280.2,504.3 L280.8,504.4 L281.4,504.4 L282.0,504.4 L282.6,504.3 L283.2,504.1 L283.8,504.1 L284.4,504.4 L285.0,504.1 L285.6,504.4 L286.2,504.4 L286.8,504.5 L287.4,504.5 L288.0,504.3 L288.6,504.4 L289.2,504.3 L289.8,503.7 L290.4,504.1 L291.0,504.4 L291.6,504.0 L292.2,504.2 L292.8,504.4 L293.4,504.4 L294.0,504.4 L294.6,504.3 L295.2,503.9 L295.8,504.4 L296.4,504.4 L297.0,504.5 L297.6,504.4 L298.2,504.2 L298.8,504.4 L299.4,504.5 L300.0,504.5 L300.6,504.4 L301.2,504.4 L301.8,504.4 L302.4,504.5 L303.0,504.4 L303.6,504.5 L304.2,504.4 L304.8,504.5 L305.4,504.3 L306.0,504.4 L306.6,504.5 L307.2,504.4 L307.8,504.5 L308.4,504.5 L309.0,504.5 L309.6,504.4 L310.2,504.5 L310.8,504.5 L311.4,504.5 L312.0,504.5 L312.6,504.5 L313.2,504.5 L313.8,504.5 L314.4,504.5 L315.0,504.5 L315.6,504.3 L316.2,504.5 L316.8,504.5 L317.4,504.4 L318.0,504.5 L318.6,504.5 L319.2,504.5 L319.8,504.2 L320.4,504.2 L321.0,504.3 L321.6,504.5 L322.2,504.5 L322.8,504.4 L323.4,504.5 L324.0,504.5 L324.6,504.5 L325.2,504.1 L325.8,504.4 L326.4,504.1 L327.0,504.4 L327.6,504.2 L328.2,504.0 L328.8,504.4 L329.4,504.3 L330.0,503.6 L330.6,503.4 L331.2,504.0 L331.8,504.3 L332.4,504.3 L333.0,504.4 L333.6,504.2 L334.2,504.4 L334.8,504.3 L335.4,504.3 L336.0,504.4 L336.6,504.5 L337.2,504.3 L337.8,504.5 L338.4,504.4 L339.0,504.5 L339.6,504.6 L340.2,504.5 L340.8,504.5 L341.4,504.5 L342.0,504.5 L342.6,504.5 L343.2,504.5 L343.8,504.5 L344.4,504.2 L345.0,504.2 L345.6,504.4 L346.2,504.5 L346.8,504.1 L347.4,504.4 L348.0,504.5 L348.6,504.4 L349.2,504.5 L349.8,504.1 L350.4,504.4 L351.0,504.5 L351.6,504.4 L352.2,504.5 L352.8,504.5 L353.4,504.5 L354.0,504.4 L354.6,504.5 L355.2,504.5 L355.8,504.5 L356.4,504.4 L357.0,504.3 L357.6,504.2 L358.2,503.9 L358.8,503.7 L359.4,504.2 L360.0,504.0 L360.6,503.8 L361.2,504.2 L361.8,504.2 L362.4,504.1 L363.0,504.3 L363.6,504.3 L364.2,503.6 L364.8,504.2 L365.4,504.5 L366.0,504.5 L366.6,504.5 L367.2,504.4 L367.8,504.4 L368.4,504.4 L369.0,504.3 L369.6,504.3 L370.2,504.5 L370.8,504.2 L371.4,503.8 L372.0,504.3 L372.6,504.5 L373.2,504.5 L373.8,504.4 L374.4,504.5 L375.0,504.1 L375.6,504.4 L376.2,504.5 L376.8,504.5 L377.4,504.4 L378.0,504.5 L378.6,504.4 L379.2,504.5 L379.8,504.4 L380.4,504.4 L381.0,504.4 L381.6,504.4 L382.2,504.5 L382.8,504.5 L383.4,504.5 L384.0,504.2 L384.6,504.4 L385.2,504.5 L385.8,504.4 L386.4,504.5 L387.0,504.3 L387.6,504.1 L388.2,504.3 L388.8,503.9 L389.4,504.3 L390.0,503.8 L390.6,503.7 L391.2,504.1 L391.8,503.4 L392.4,503.9 L393.0,503.8 L393.6,503.7 L394.2,504.2 L394.8,504.4 L395.4,504.0 L396.0,504.3 L396.6,504.5 L397.2,504.3 L397.8,504.4 L398.4,504.5 L399.0,504.4 L399.6,504.5 L400.2,504.4 L400.8,504.4 L401.4,504.4 L402.0,504.4 L402.6,504.4 L403.2,504.5 L403.8,504.5 L404.4,504.5 L405.0,504.5 L405.6,504.5 L406.2,504.5 L406.8,504.5 L407.4,504.4 L408.0,503.9 L408.6,504.1 L409.2,504.4 L409.8,504.3 L410.4,504.3 L411.0,503.8 L411.6,504.2 L412.2,504.0 L412.8,504.4 L413.4,504.4 L414.0,504.5 L414.6,504.4 L415.2,504.4 L415.8,504.3 L416.4,504.4 L417.0,504.3 L417.6,500.9 L418.2,502.3 L418.8,503.3 L419.4,503.7 L420.0,503.1 L420.6,503.7 L421.2,503.7 L421.8,504.2 L422.4,504.1 L423.0,503.5 L423.6,504.2 L424.2,504.0 L424.8,503.6 L425.4,503.7 L426.0,503.2 L426.6,502.8 L427.2,503.8 L427.8,501.9 L428.4,503.3 L429.0,503.7 L429.6,503.6 L430.2,504.0 L430.8,499.5 L431.4,501.7 L432.0,499.7 L432.6,499.7 L433.2,499.4 L433.8,502.7 L434.4,501.7 L435.0,503.1 L435.6,503.1 L436.2,504.1 L436.8,504.4 L437.4,504.1 L438.0,504.1 L438.6,502.4 L439.2,503.0 L439.8,503.9 L440.4,502.6 L441.0,503.2 L441.6,503.3 L442.2,503.8 L442.8,504.1 L443.4,504.4 L444.0,504.4 L444.6,504.5 L445.2,504.5 L445.8,504.5 L446.4,504.5 L447.0,504.4 L447.6,504.5 L448.2,504.5 L448.8,504.4 L449.4,504.0 L450.0,504.2 L450.6,504.4 L451.2,503.9 L451.8,504.0 L452.4,503.4 L453.0,504.2 L453.6,503.8 L454.2,503.5 L454.8,504.0 L455.4,504.4 L456.0,504.4 L456.6,504.5 L457.2,504.5 L457.8,504.5 L458.4,504.5 L459.0,504.5 L459.6,504.5 L460.2,504.3 L460.8,504.3 L461.4,504.4 L462.0,504.5 L462.6,504.4 L463.2,504.5 L463.8,504.5 L464.4,504.4 L465.0,504.3 L465.6,504.4 L466.2,504.3 L466.8,504.1 L467.4,504.4 L468.0,504.5 L468.6,504.5 L469.2,504.5 L469.8,504.5 L470.4,504.5 L471.0,504.5 L471.6,504.5 L472.2,504.4 L472.8,504.4 L473.4,504.5 L473.4,504.6 Z" fill="#c6b2f2"/>
<line x1="264" y1="504.62" x2="473.4" y2="504.62" stroke="#c6b2f2" stroke-width="0.7"/>
<line x1="259.8" y1="343" x2="259.8" y2="506" stroke="#e4e4e4" stroke-width="0.6"/>
<text x="159.6" y="333.3" font-family="Liberation Sans, Arial, sans-serif" font-style="italic" font-size="6.1" fill="#222">FOXQ1</text>
<line x1="164.2" y1="337.6" x2="174.6" y2="337.6" stroke="#1a1aa0" stroke-width="0.6"/><rect x="165.5" y="336.50" width="8.00" height="2.2" fill="#1a1aa0"/>
<text x="263.5" y="333.3" font-family="Liberation Sans, Arial, sans-serif" font-style="italic" font-size="6.1" fill="#222">NUDT18</text>
<line x1="263.8" y1="337.2" x2="302.3" y2="337.2" stroke="#1a1aa0" stroke-width="0.6"/><rect x="268" y="336.40" width="1.50" height="1.6" fill="#1a1aa0"/><rect x="275" y="336.10" width="2.00" height="2.2" fill="#1a1aa0"/><rect x="279" y="336.10" width="2.00" height="2.2" fill="#1a1aa0"/><rect x="283" y="336.00" width="7.00" height="2.4" fill="#1a1aa0"/><rect x="291" y="336.00" width="7.00" height="2.4" fill="#1a1aa0"/><rect x="299" y="336.10" width="3.30" height="2.2" fill="#1a1aa0"/>
<text x="349" y="333.3" font-family="Liberation Sans, Arial, sans-serif" font-style="italic" font-size="6.1" fill="#222">HR</text>
<line x1="326.8" y1="337.0" x2="365.5" y2="337.0" stroke="#1a1aa0" stroke-width="0.6"/><rect x="326.8" y="335.90" width="3.20" height="2.2" fill="#1a1aa0"/><rect x="332" y="335.90" width="2.00" height="2.2" fill="#1a1aa0"/><rect x="336" y="335.80" width="8.00" height="2.4" fill="#1a1aa0"/><rect x="346" y="335.90" width="1.50" height="2.2" fill="#1a1aa0"/><rect x="350" y="335.90" width="1.50" height="2.2" fill="#1a1aa0"/><rect x="354" y="335.90" width="1.50" height="2.2" fill="#1a1aa0"/><rect x="358" y="335.80" width="2.00" height="2.4" fill="#1a1aa0"/><rect x="362" y="335.80" width="3.50" height="2.4" fill="#1a1aa0"/>
<text x="368.8" y="333.3" font-family="Liberation Sans, Arial, sans-serif" font-style="italic" font-size="6.1" fill="#222">REEP4</text>
<line x1="389" y1="337.0" x2="395.4" y2="337.0" stroke="#1a1aa0" stroke-width="0.6"/><rect x="389" y="335.70" width="3.00" height="2.6" fill="#1a1aa0"/><rect x="393" y="335.70" width="2.40" height="2.6" fill="#1a1aa0"/>
<text x="405.5" y="333.3" font-family="Liberation Sans, Arial, sans-serif" font-style="italic" font-size="6.1" fill="#222">LIG3</text>
<line x1="412.3" y1="337.0" x2="437" y2="337.0" stroke="#1a1aa0" stroke-width="0.6"/><rect x="412.3" y="335.80" width="3.20" height="2.4" fill="#1a1aa0"/><rect x="419" y="335.90" width="2.00" height="2.2" fill="#1a1aa0"/><rect x="424" y="335.90" width="2.00" height="2.2" fill="#1a1aa0"/><rect x="429" y="335.90" width="2.00" height="2.2" fill="#1a1aa0"/><rect x="434" y="335.90" width="3.00" height="2.2" fill="#1a1aa0"/>
<line x1="448.6" y1="337.0" x2="473.2" y2="337.0" stroke="#1a1aa0" stroke-width="0.6"/><rect x="448.6" y="335.80" width="5.40" height="2.4" fill="#1a1aa0"/><rect x="456" y="335.90" width="2.00" height="2.2" fill="#1a1aa0"/>
<rect x="159.8" y="346.3" width="11.6" height="2.3" fill="#141496"/>
<rect x="181" y="346.3" width="1.8" height="2.3" fill="#141496"/>
<rect x="183.8" y="346.3" width="1.8" height="2.3" fill="#141496"/>
<rect x="313" y="346.3" width="2.5" height="2.3" fill="#141496"/>
<rect x="366" y="346.3" width="4.0" height="2.3" fill="#141496"/>
<rect x="396" y="346.3" width="2.5" height="2.3" fill="#141496"/>
<rect x="436" y="346.3" width="2.0" height="2.3" fill="#141496"/>
<line x1="73.6" y1="509.6" x2="113" y2="509.6" stroke="#666" stroke-width="0.8"/><path d="M70.6,509.6 L74.6,508.1 L74.6,511.1 Z" fill="#444"/>
<line x1="203" y1="509.6" x2="252" y2="509.6" stroke="#666" stroke-width="0.8"/><path d="M255,509.6 L251,508.1 L251,511.1 Z" fill="#444"/>
<text x="160" y="511.7" text-anchor="middle" font-family="Liberation Sans, Arial, sans-serif" font-size="6.2" fill="#222">Chr6:1,286,835-1,337,204</text>
<line x1="268.5" y1="509.8" x2="318.6" y2="509.8" stroke="#666" stroke-width="0.8"/><path d="M265.5,509.8 L269.5,508.3 L269.5,511.3 Z" fill="#444"/>
<line x1="414.6" y1="509.8" x2="470.5" y2="509.8" stroke="#666" stroke-width="0.8"/><path d="M473.5,509.8 L469.5,508.3 L469.5,511.3 Z" fill="#444"/>
<text x="369.5" y="511.9" text-anchor="middle" font-family="Liberation Sans, Arial, sans-serif" font-size="6.2" fill="#222">Chr8:21,947,630-22,028,182</text>
<text x="2" y="534.5" font-family="Liberation Sans, Arial, sans-serif" font-weight="bold" font-size="13">H</text>
<text x="244" y="534.5" font-family="Liberation Sans, Arial, sans-serif" font-weight="bold" font-size="13">I</text>
<clipPath id="cpH"><circle cx="109.5" cy="593" r="43" fill="#000" /></clipPath><clipPath id="coH"><circle cx="158.5" cy="586.3" r="41" fill="#000" /></clipPath><circle cx="109.5" cy="593" r="43" fill="#dcc8f8" /><circle cx="158.5" cy="586.3" r="41" fill="#fdd594" /><circle cx="153.2" cy="628.8" r="26" fill="#a8dcf6" /><g clip-path="url(#cpH)"><circle cx="158.5" cy="586.3" r="41" fill="#efbb8e" /><circle cx="153.2" cy="628.8" r="26" fill="#a9a6ee" /></g><g clip-path="url(#coH)"><circle cx="153.2" cy="628.8" r="26" fill="#d6d29c" /></g><g clip-path="url(#cpH)"><g clip-path="url(#coH)"><circle cx="153.2" cy="628.8" r="26" fill="#dcbe92" /></g></g>
<text x="59.8" y="550" text-anchor="middle" font-family="Liberation Sans, Arial, sans-serif" font-weight="bold" font-size="5.7" fill="#222">H3K27me3</text>
<text x="59.8" y="556.9" text-anchor="middle" font-family="Liberation Sans, Arial, sans-serif" font-weight="bold" font-size="5.7" fill="#222">72,332 peaks</text>
<text x="170.5" y="532.5" text-anchor="middle" font-family="Liberation Sans, Arial, sans-serif" font-weight="bold" font-size="5.7" fill="#222">H2AK119ub1</text>
<text x="170.5" y="539.5" text-anchor="middle" font-family="Liberation Sans, Arial, sans-serif" font-weight="bold" font-size="5.7" fill="#222">62,145 peaks</text>
<text x="195" y="641.6" text-anchor="middle" font-family="Liberation Sans, Arial, sans-serif" font-weight="bold" font-size="5.7" fill="#222">RYBP</text>
<text x="195" y="649" text-anchor="middle" font-family="Liberation Sans, Arial, sans-serif" font-weight="bold" font-size="5.7" fill="#222">18,612 peaks</text>
<text x="89" y="602" text-anchor="middle" font-family="Liberation Sans, Arial, sans-serif" font-size="5.7" fill="#222">52,081</text>
<text x="137.5" y="585" text-anchor="middle" font-family="Liberation Sans, Arial, sans-serif" font-size="5.7" fill="#222">15,218</text>
<text x="175" y="580" text-anchor="middle" font-family="Liberation Sans, Arial, sans-serif" font-size="5.7" fill="#222">27,557</text>
<text x="140.5" y="614.5" text-anchor="middle" font-family="Liberation Sans, Arial, sans-serif" font-size="5.7" fill="#222">2,706</text>
<text x="160" y="622" text-anchor="middle" font-family="Liberation Sans, Arial, sans-serif" font-size="5.7" fill="#222">5,754</text>
<text x="132.5" y="626.5" text-anchor="middle" font-family="Liberation Sans, Arial, sans-serif" font-size="5.7" fill="#2a2a80">291</text>
<text x="157" y="642.5" text-anchor="middle" font-family="Liberation Sans, Arial, sans-serif" font-size="5.7" fill="#222">7,408</text>
<clipPath id="cpI"><circle cx="327" cy="586" r="29" fill="#000" /></clipPath><clipPath id="coI"><circle cx="361" cy="585" r="47" fill="#000" /></clipPath><circle cx="327" cy="586" r="29" fill="#dcc8f8" /><circle cx="361" cy="585" r="47" fill="#fdd594" /><circle cx="352" cy="623" r="36" fill="#a8dcf6" /><g clip-path="url(#cpI)"><circle cx="361" cy="585" r="47" fill="#efbb8e" /><circle cx="352" cy="623" r="36" fill="#a9a6ee" /></g><g clip-path="url(#coI)"><circle cx="352" cy="623" r="36" fill="#d6d29c" /></g><g clip-path="url(#cpI)"><g clip-path="url(#coI)"><circle cx="352" cy="623" r="36" fill="#dcbe92" /></g></g>
<text x="294.7" y="545" text-anchor="middle" font-family="Liberation Sans, Arial, sans-serif" font-weight="bold" font-size="5.7" fill="#222">H3K27me3 targeted CGIs</text>
<text x="294.7" y="551.4" text-anchor="middle" font-family="Liberation Sans, Arial, sans-serif" font-weight="bold" font-size="5.7" fill="#222">3,839</text>
<text x="393.5" y="527.4" text-anchor="middle" font-family="Liberation Sans, Arial, sans-serif" font-weight="bold" font-size="5.7" fill="#222">H2AK119ub1 targeted CGIs</text>
<text x="393.5" y="534.3" text-anchor="middle" font-family="Liberation Sans, Arial, sans-serif" font-weight="bold" font-size="5.7" fill="#222">10,932</text>
<text x="414.5" y="644" text-anchor="middle" font-family="Liberation Sans, Arial, sans-serif" font-weight="bold" font-size="5.7" fill="#222">RYBP targeted CGIs</text>
<text x="414.5" y="651.5" text-anchor="middle" font-family="Liberation Sans, Arial, sans-serif" font-weight="bold" font-size="5.7" fill="#222">5,968</text>
<text x="305.7" y="587.8" text-anchor="middle" font-family="Liberation Sans, Arial, sans-serif" font-size="5.7" fill="#222">630</text>
<text x="333.6" y="583" text-anchor="middle" font-family="Liberation Sans, Arial, sans-serif" font-size="5.7" fill="#222">2,918</text>
<text x="367.7" y="578.2" text-anchor="middle" font-family="Liberation Sans, Arial, sans-serif" font-size="5.7" fill="#222">5,292</text>
<text x="339.4" y="604" text-anchor="middle" font-family="Liberation Sans, Arial, sans-serif" font-size="5.7" fill="#222">284</text>
<text x="320.7" y="613" text-anchor="middle" font-family="Liberation Sans, Arial, sans-serif" font-size="5.7" fill="#2a2a80">7</text>
<text x="362.5" y="615.7" text-anchor="middle" font-family="Liberation Sans, Arial, sans-serif" font-size="5.7" fill="#222">2,438</text>
<text x="352.4" y="644.6" text-anchor="middle" font-family="Liberation Sans, Arial, sans-serif" font-size="5.7" fill="#222">3,239</text>
</svg></body></html>
